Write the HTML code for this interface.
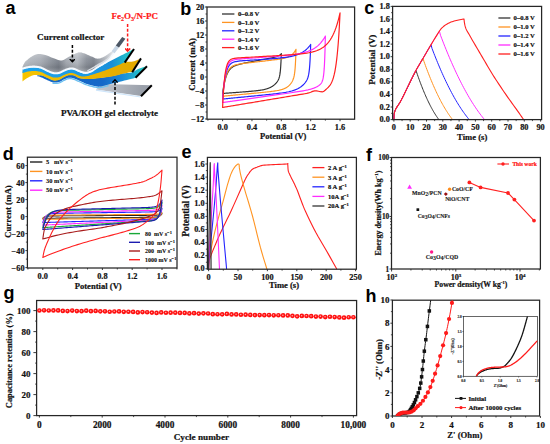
<!DOCTYPE html><html><head><meta charset="utf-8"><style>html,body{margin:0;padding:0;background:#fff;}body{width:550px;height:444px;overflow:hidden;font-family:"Liberation Sans",sans-serif;}svg{display:block}</style></head><body>
<svg width="550" height="444" viewBox="0 0 550 444">
<rect width="550" height="444" fill="#fff"/>
<text x="5.6" y="14.2" font-size="18" text-anchor="start" fill="#000" font-weight="bold" font-family='"Liberation Sans", sans-serif'>a</text>
<defs>
<linearGradient id="gg" x1="22" y1="0" x2="114" y2="0" gradientUnits="userSpaceOnUse">
<stop offset="0" stop-color="#c2c6cc"/><stop offset="0.09" stop-color="#b2b7be"/><stop offset="0.2" stop-color="#a9aeb6"/><stop offset="0.32" stop-color="#8c929b"/>
<stop offset="0.4" stop-color="#7b818b"/><stop offset="0.48" stop-color="#a3a8b0"/><stop offset="0.6" stop-color="#b4b9c0"/><stop offset="0.7" stop-color="#8a9099"/>
<stop offset="0.78" stop-color="#7d838d"/><stop offset="0.88" stop-color="#a8adb5"/><stop offset="1" stop-color="#d4d8de"/>
</linearGradient>
<linearGradient id="wh" x1="0" y1="52" x2="0" y2="71" gradientUnits="userSpaceOnUse">
<stop offset="0" stop-color="#ffffff" stop-opacity="0.2"/><stop offset="1" stop-color="#eef4fb" stop-opacity="0.95"/>
</linearGradient>
<linearGradient id="gv" x1="0" y1="52" x2="0" y2="72" gradientUnits="userSpaceOnUse">
<stop offset="0" stop-color="#ffffff" stop-opacity="0.3"/><stop offset="0.35" stop-color="#ffffff" stop-opacity="0.05"/><stop offset="0.75" stop-color="#000" stop-opacity="0.1"/><stop offset="1" stop-color="#ffffff" stop-opacity="0.2"/>
</linearGradient>
<linearGradient id="tl" x1="22" y1="0" x2="134" y2="0" gradientUnits="userSpaceOnUse">
<stop offset="0" stop-color="#1ea2ea"/><stop offset="0.62" stop-color="#1c9ae4"/><stop offset="0.8" stop-color="#1a8ed8"/><stop offset="1" stop-color="#26d2c2"/>
</linearGradient>
<linearGradient id="tl2" x1="37" y1="0" x2="147" y2="0" gradientUnits="userSpaceOnUse">
<stop offset="0" stop-color="#1466c8"/><stop offset="0.6" stop-color="#1568c8"/><stop offset="0.78" stop-color="#1a8cd8"/><stop offset="1" stop-color="#26d2c2"/>
</linearGradient>
<linearGradient id="yl" x1="22" y1="0" x2="141" y2="0" gradientUnits="userSpaceOnUse">
<stop offset="0" stop-color="#f6c400"/><stop offset="1" stop-color="#e2a800"/>
</linearGradient>
<linearGradient id="pl" x1="100" y1="82" x2="140" y2="96" gradientUnits="userSpaceOnUse">
<stop offset="0" stop-color="#c4c8cf"/><stop offset="1" stop-color="#9aa0aa"/>
</linearGradient>
<marker id="ah" markerWidth="6" markerHeight="6" refX="3" refY="3" orient="auto" markerUnits="userSpaceOnUse">
<path d="M0.4,0.4 L3.2,3 L0.4,5.6" fill="none" stroke="#000" stroke-width="1.4"/></marker>
<marker id="ahr" markerWidth="6" markerHeight="6" refX="3" refY="3" orient="auto" markerUnits="userSpaceOnUse">
<path d="M0.4,0.4 L3.2,3 L0.4,5.6" fill="none" stroke="#ff1a1a" stroke-width="1.4"/></marker>
</defs>
<polygon points="103,84 151.8,85.3 141,96.1 95.8,89.4" fill="url(#pl)"/>
<polyline points="96,90.2 140.8,97" fill="none" stroke="#cfe6fb" stroke-width="1.2"/>
<line x1="151.8" y1="85.3" x2="141" y2="96.3" stroke="#000" stroke-width="2"/>
<polygon points="37,75.5 37.49,75.44 38.16,75.33 38.96,75.21 39.84,75.13 40.73,75.11 41.6,75.2 42.45,75.42 43.34,75.74 44.24,76.13 45.16,76.55 46.08,76.99 47,77.4 47.93,77.82 48.9,78.29 49.87,78.77 50.81,79.22 51.7,79.61 52.5,79.9 53.2,80.09 53.8,80.21 54.36,80.27 54.89,80.28 55.42,80.25 56,80.2 56.61,80.12 57.23,80.01 57.86,79.87 58.49,79.69 59.14,79.46 59.8,79.2 60.47,78.88 61.14,78.49 61.83,78.06 62.53,77.61 63.25,77.19 64,76.8 64.77,76.43 65.57,76.05 66.39,75.68 67.23,75.35 68.06,75.08 68.9,74.9 69.73,74.79 70.55,74.74 71.38,74.76 72.23,74.83 73.1,74.98 74,75.2 74.89,75.55 75.74,76.03 76.61,76.59 77.57,77.14 78.68,77.64 80,78 81.58,78.23 83.38,78.4 85.32,78.49 87.34,78.54 89.36,78.54 91.3,78.5 93.17,78.42 95.04,78.27 96.9,78.09 98.76,77.87 100.63,77.64 102.5,77.4 104.41,77.16 106.37,76.89 108.34,76.61 110.26,76.32 112.09,76.01 113.8,75.7 115.33,75.36 116.71,75 118.01,74.62 119.29,74.25 120.59,73.9 122,73.6 123.54,73.37 125.17,73.21 126.84,73.08 128.49,72.93 130.06,72.72 131.5,72.4 132.77,71.95 133.91,71.4 134.97,70.79 136.01,70.16 137.07,69.55 138.2,69 139.49,68.49 140.92,67.98 142.37,67.49 143.73,67.04 144.87,66.67 145.7,66.4 135.5,77.8 134.03,78.17 132,78.68 129.59,79.29 127,79.94 124.41,80.59 122,81.2 119.69,81.78 117.31,82.39 114.94,82.99 112.63,83.57 110.46,84.11 108.5,84.6 106.76,85.04 105.19,85.47 103.76,85.85 102.43,86.18 101.19,86.43 100,86.6 98.92,86.67 97.98,86.64 97.12,86.54 96.29,86.39 95.4,86.21 94.4,86 93.28,85.77 92.09,85.51 90.84,85.21 89.58,84.87 88.32,84.5 87.1,84.1 85.89,83.65 84.68,83.13 83.47,82.59 82.28,82.03 81.12,81.5 80,81 78.93,80.53 77.89,80.06 76.87,79.61 75.89,79.19 74.94,78.81 74,78.5 73.1,78.24 72.23,78.01 71.38,77.83 70.55,77.71 69.73,77.66 68.9,77.7 68.06,77.84 67.23,78.09 66.39,78.41 65.57,78.77 64.77,79.14 64,79.5 63.25,79.87 62.53,80.29 61.83,80.72 61.14,81.13 60.47,81.5 59.8,81.8 59.14,82.02 58.49,82.19 57.86,82.31 57.23,82.39 56.61,82.45 56,82.5 55.42,82.54 54.89,82.58 54.36,82.59 53.8,82.56 53.2,82.47 52.5,82.3 51.7,82.04 50.81,81.7 49.87,81.29 48.9,80.86 47.93,80.42 47,80 46.08,79.58 45.16,79.14 44.24,78.7 43.34,78.27 42.45,77.86 41.6,77.5 40.73,77.17 39.84,76.87 38.96,76.59 38.16,76.35 37.49,76.15 37,76" fill="url(#tl2)"/>
<polyline points="52.5,83.2 52.88,83.23 53.4,83.29 54.01,83.34 54.68,83.39 55.36,83.42 56,83.4 56.61,83.35 57.23,83.29 57.86,83.21 58.49,83.09 59.14,82.92 59.8,82.7 60.47,82.4 61.14,82.03 61.83,81.62 62.53,81.19 63.25,80.77 64,80.4 64.77,80.04 65.57,79.67 66.39,79.31 67.23,78.99 68.06,78.74 68.9,78.6 69.73,78.56 70.55,78.61 71.38,78.73 72.23,78.9 73.1,79.13 74,79.4 74.94,79.72 75.89,80.12 76.88,80.56 77.89,81.04 78.93,81.52 80,82 81.12,82.49 82.28,83.01 83.47,83.54 84.68,84.06 85.89,84.55 87.1,85 88.32,85.41 89.58,85.79 90.84,86.15 92.09,86.47 93.28,86.76 94.4,87 95.4,87.21 96.29,87.4 97.13,87.55 97.98,87.64 98.92,87.67 100,87.6 101.35,87.39 102.93,87.05 104.6,86.64 106.19,86.21 107.54,85.85 108.5,85.6" fill="none" stroke="#6cc0f0" stroke-width="1.3"/>
<line x1="135.5" y1="77.8" x2="147" y2="66.2" stroke="#000" stroke-width="2"/>
<polygon points="22.5,71.5 22.98,71.33 23.63,71.08 24.41,70.79 25.26,70.49 26.14,70.22 27,70 27.87,69.84 28.8,69.7 29.75,69.59 30.7,69.51 31.63,69.44 32.5,69.4 33.31,69.38 34.07,69.38 34.81,69.4 35.53,69.44 36.26,69.51 37,69.6 37.75,69.7 38.5,69.81 39.24,69.94 40,70.11 40.79,70.33 41.6,70.6 42.45,70.96 43.34,71.39 44.24,71.87 45.16,72.37 46.08,72.85 47,73.3 47.93,73.73 48.9,74.17 49.87,74.59 50.81,74.99 51.7,75.33 52.5,75.6 53.2,75.79 53.8,75.91 54.36,75.98 54.89,76.01 55.42,76.01 56,76 56.61,75.98 57.23,75.93 57.86,75.86 58.49,75.75 59.14,75.6 59.8,75.4 60.47,75.13 61.14,74.8 61.83,74.42 62.53,74.03 63.25,73.65 64,73.3 64.77,72.96 65.57,72.61 66.39,72.26 67.23,71.95 68.06,71.69 68.9,71.5 69.73,71.37 70.55,71.29 71.38,71.26 72.23,71.29 73.1,71.4 74,71.6 74.95,71.95 75.95,72.46 76.97,73.05 78,73.64 79.01,74.15 80,74.5 80.96,74.69 81.89,74.79 82.82,74.81 83.74,74.77 84.67,74.69 85.6,74.6 86.48,74.5 87.29,74.38 88.1,74.22 88.99,74.01 90.03,73.74 91.3,73.4 92.85,72.97 94.62,72.45 96.55,71.87 98.56,71.25 100.56,70.62 102.5,70 104.39,69.38 106.3,68.74 108.22,68.08 110.12,67.42 111.98,66.76 113.8,66.1 115.57,65.41 117.3,64.68 119,63.95 120.67,63.26 122.3,62.66 123.9,62.2 125.48,61.92 127.03,61.8 128.56,61.77 130.03,61.76 131.45,61.69 132.8,61.5 134.13,61.15 135.47,60.68 136.76,60.16 137.91,59.64 138.88,59.2 139.6,58.9 132.2,71.8 131.07,72.04 129.48,72.37 127.61,72.77 125.63,73.19 123.7,73.61 122,74 120.55,74.36 119.23,74.72 117.97,75.08 116.69,75.43 115.32,75.77 113.8,76.1 112.09,76.41 110.26,76.72 108.34,77.01 106.37,77.29 104.41,77.56 102.5,77.8 100.63,78.04 98.76,78.27 96.9,78.49 95.04,78.67 93.17,78.82 91.3,78.9 89.36,78.94 87.34,78.94 85.32,78.89 83.38,78.8 81.58,78.63 80,78.4 78.68,78.04 77.57,77.54 76.61,76.99 75.74,76.43 74.89,75.95 74,75.6 73.1,75.38 72.23,75.23 71.38,75.16 70.55,75.14 69.73,75.19 68.9,75.3 68.06,75.48 67.23,75.75 66.39,76.08 65.57,76.45 64.77,76.83 64,77.2 63.25,77.59 62.53,78.01 61.83,78.46 61.14,78.89 60.47,79.28 59.8,79.6 59.14,79.86 58.49,80.09 57.86,80.27 57.23,80.41 56.61,80.52 56,80.6 55.42,80.65 54.89,80.68 54.36,80.67 53.8,80.61 53.2,80.49 52.5,80.3 51.7,80.01 50.81,79.62 49.87,79.17 48.9,78.69 47.93,78.22 47,77.8 46.11,77.4 45.24,76.99 44.37,76.58 43.49,76.2 42.57,75.87 41.6,75.6 40.55,75.38 39.43,75.2 38.28,75.07 37.13,74.99 36.02,74.96 35,75 34.07,75.11 33.21,75.29 32.4,75.53 31.61,75.81 30.81,76.14 30,76.5 29.14,76.93 28.24,77.43 27.34,77.98 26.48,78.53 25.69,79.05 25,79.5 24.41,79.9 23.89,80.29 23.44,80.64 23.06,80.95 22.74,81.21 22.5,81.4" fill="url(#yl)"/>
<line x1="132.2" y1="72.2" x2="141" y2="58.4" stroke="#000" stroke-width="2"/>
<polygon points="22.5,69.5 22.98,69.34 23.63,69.11 24.41,68.84 25.26,68.57 26.14,68.31 27,68.1 27.87,67.93 28.8,67.78 29.75,67.65 30.7,67.54 31.63,67.46 32.5,67.4 33.31,67.37 34.07,67.37 34.81,67.39 35.53,67.44 36.26,67.51 37,67.6 37.75,67.7 38.5,67.81 39.24,67.94 40,68.11 40.79,68.33 41.6,68.6 42.45,68.96 43.34,69.39 44.24,69.87 45.16,70.37 46.08,70.85 47,71.3 47.93,71.73 48.9,72.17 49.87,72.59 50.81,72.99 51.7,73.33 52.5,73.6 53.2,73.79 53.8,73.91 54.36,73.98 54.89,74.01 55.42,74.01 56,74 56.61,73.98 57.23,73.93 57.86,73.86 58.49,73.75 59.14,73.6 59.8,73.4 60.47,73.13 61.14,72.8 61.83,72.42 62.53,72.03 63.25,71.65 64,71.3 64.77,70.96 65.57,70.61 66.39,70.26 67.23,69.95 68.06,69.69 68.9,69.5 69.73,69.38 70.55,69.3 71.38,69.27 72.23,69.3 73.1,69.41 74,69.6 74.95,69.92 75.95,70.36 76.97,70.88 78,71.41 79.01,71.9 80,72.3 80.96,72.64 81.89,72.96 82.82,73.24 83.74,73.46 84.67,73.59 85.6,73.6 86.55,73.47 87.5,73.23 88.45,72.89 89.4,72.49 90.35,72.05 91.3,71.6 92.24,71.12 93.17,70.59 94.11,70.02 95.04,69.43 95.97,68.85 96.9,68.3 97.77,67.81 98.56,67.36 99.34,66.92 100.21,66.44 101.24,65.88 102.5,65.2 104.05,64.36 105.85,63.4 107.8,62.36 109.83,61.28 111.86,60.21 113.8,59.2 115.7,58.23 117.64,57.26 119.57,56.3 121.47,55.36 123.29,54.46 125,53.6 126.67,52.75 128.35,51.88 129.95,51.05 131.4,50.3 132.61,49.66 133.5,49.2 124.7,62.3 123.52,62.83 121.89,63.57 119.96,64.44 117.87,65.37 115.77,66.28 113.8,67.1 111.94,67.84 110.06,68.56 108.17,69.27 106.27,69.96 104.38,70.64 102.5,71.3 100.56,71.97 98.56,72.66 96.55,73.33 94.62,73.96 92.85,74.53 91.3,75 90.03,75.37 88.99,75.67 88.1,75.89 87.29,76.07 86.48,76.2 85.6,76.3 84.67,76.38 83.74,76.44 82.82,76.45 81.89,76.41 80.96,76.3 80,76.1 79.01,75.77 78,75.29 76.97,74.75 75.95,74.21 74.95,73.73 74,73.4 73.1,73.2 72.23,73.07 71.38,73.02 70.55,73.03 69.73,73.09 68.9,73.2 68.06,73.38 67.23,73.64 66.39,73.96 65.57,74.31 64.77,74.67 64,75 63.25,75.34 62.53,75.7 61.83,76.08 61.14,76.43 60.47,76.75 59.8,77 59.14,77.19 58.49,77.34 57.86,77.45 57.23,77.53 56.61,77.57 56,77.6 55.42,77.61 54.89,77.61 54.36,77.58 53.8,77.51 53.2,77.39 52.5,77.2 51.7,76.93 50.81,76.59 49.87,76.19 48.9,75.77 47.93,75.33 47,74.9 46.08,74.45 45.16,73.97 44.24,73.47 43.34,72.99 42.45,72.56 41.6,72.2 40.79,71.93 40,71.71 39.24,71.54 38.5,71.41 37.75,71.3 37,71.2 36.26,71.11 35.53,71.04 34.81,70.99 34.07,70.97 33.31,70.97 32.5,71 31.63,71.06 30.7,71.14 29.75,71.25 28.8,71.38 27.87,71.53 27,71.7 26.14,71.91 25.26,72.17 24.41,72.44 23.63,72.71 22.98,72.94 22.5,73.1" fill="url(#tl)"/>
<line x1="124.7" y1="62.6" x2="134" y2="49" stroke="#000" stroke-width="2"/>
<polyline points="22.5,68.7 22.98,68.54 23.63,68.31 24.41,68.04 25.26,67.77 26.14,67.51 27,67.3 27.87,67.13 28.8,66.98 29.75,66.85 30.7,66.74 31.63,66.66 32.5,66.6 33.31,66.57 34.07,66.57 34.81,66.59 35.53,66.64 36.26,66.71 37,66.8 37.75,66.9 38.5,67.01 39.24,67.14 40,67.31 40.79,67.53 41.6,67.8 42.45,68.16 43.34,68.59 44.24,69.07 45.16,69.57 46.08,70.05 47,70.5 47.93,70.93 48.9,71.37 49.87,71.79 50.81,72.19 51.7,72.53 52.5,72.8 53.2,72.99 53.8,73.11 54.36,73.18 54.89,73.21 55.42,73.21 56,73.2 56.61,73.18 57.23,73.13 57.86,73.06 58.49,72.95 59.14,72.8 59.8,72.6 60.47,72.33 61.14,72 61.83,71.62 62.53,71.23 63.25,70.85 64,70.5 64.77,70.16 65.57,69.81 66.39,69.46 67.23,69.15 68.06,68.89 68.9,68.7 69.73,68.58 70.55,68.5 71.38,68.48 72.23,68.52 73.1,68.62 74,68.8 74.95,69.09 75.95,69.49 76.97,69.96 78,70.45 79.01,70.91 80,71.3 80.96,71.64 81.89,71.99 82.82,72.31 83.74,72.57 84.67,72.74 85.6,72.8 86.55,72.74 87.5,72.57 88.45,72.33 89.4,72 90.35,71.62 91.3,71.2 92.24,70.7 93.17,70.11 94.11,69.46 95.04,68.78 95.97,68.12 96.9,67.5 97.83,66.93 98.76,66.4 99.69,65.87 100.63,65.34 101.56,64.79 102.5,64.2 103.47,63.58 104.48,62.94 105.49,62.28 106.47,61.6 107.39,60.91 108.2,60.2 108.9,59.45 109.51,58.66 110.05,57.84 110.55,57.04 111.02,56.29 111.5,55.6 111.99,54.96 112.49,54.34 112.96,53.76 113.38,53.25 113.74,52.82 114,52.5" fill="none" stroke="#f4f9fe" stroke-width="2.2" stroke-linejoin="round"/>
<polygon points="22.5,66.8 22.76,66.26 23.1,65.5 23.51,64.61 23.97,63.67 24.47,62.77 25,62 25.57,61.35 26.19,60.74 26.85,60.17 27.53,59.64 28.22,59.12 28.9,58.6 29.56,58.09 30.22,57.58 30.88,57.09 31.56,56.63 32.26,56.2 33,55.8 33.75,55.42 34.51,55.06 35.3,54.72 36.13,54.43 37.02,54.22 38,54.1 39.06,54.07 40.2,54.11 41.39,54.22 42.65,54.4 43.95,54.66 45.3,55 46.73,55.46 48.27,56.06 49.86,56.74 51.44,57.43 52.97,58.07 54.4,58.6 55.71,59.08 56.94,59.57 58.11,60.01 59.26,60.34 60.42,60.53 61.6,60.5 62.81,60.21 64.03,59.68 65.24,58.99 66.46,58.23 67.68,57.48 68.9,56.8 70.16,56.16 71.46,55.49 72.77,54.81 74.03,54.18 75.19,53.63 76.2,53.2 77.04,52.9 77.74,52.7 78.34,52.58 78.89,52.52 79.42,52.5 80,52.5 80.55,52.51 81.03,52.54 81.5,52.61 82.03,52.73 82.67,52.92 83.5,53.2 84.58,53.6 85.86,54.12 87.27,54.71 88.7,55.31 90.08,55.9 91.3,56.4 92.36,56.86 93.33,57.33 94.24,57.77 95.11,58.15 95.99,58.44 96.9,58.6 97.83,58.63 98.76,58.56 99.69,58.4 100.63,58.16 101.56,57.85 102.5,57.5 103.46,57.07 104.44,56.53 105.42,55.94 106.39,55.31 107.32,54.69 108.2,54.1 109.07,53.51 109.96,52.87 110.81,52.24 111.58,51.65 112.22,51.16 112.7,50.8 114,51.5 113.74,51.82 113.38,52.25 112.96,52.76 112.49,53.34 111.99,53.96 111.5,54.6 111.02,55.29 110.55,56.04 110.05,56.84 109.51,57.66 108.9,58.45 108.2,59.2 107.39,59.91 106.47,60.6 105.49,61.28 104.48,61.94 103.47,62.58 102.5,63.2 101.56,63.79 100.63,64.34 99.69,64.87 98.76,65.4 97.83,65.93 96.9,66.5 95.97,67.12 95.04,67.78 94.11,68.46 93.17,69.11 92.24,69.7 91.3,70.2 90.35,70.62 89.4,71 88.45,71.33 87.5,71.57 86.55,71.74 85.6,71.8 84.67,71.74 83.74,71.57 82.82,71.31 81.89,70.99 80.96,70.64 80,70.3 79.01,69.91 78,69.45 76.97,68.96 75.95,68.49 74.95,68.09 74,67.8 73.1,67.62 72.23,67.52 71.38,67.48 70.55,67.5 69.73,67.58 68.9,67.7 68.06,67.89 67.23,68.15 66.39,68.46 65.57,68.81 64.77,69.16 64,69.5 63.25,69.85 62.53,70.23 61.83,70.62 61.14,71 60.47,71.33 59.8,71.6 59.14,71.8 58.49,71.95 57.86,72.06 57.23,72.13 56.61,72.18 56,72.2 55.42,72.21 54.89,72.21 54.36,72.18 53.8,72.11 53.2,71.99 52.5,71.8 51.7,71.53 50.81,71.19 49.87,70.79 48.9,70.37 47.93,69.93 47,69.5 46.08,69.05 45.16,68.57 44.24,68.07 43.34,67.59 42.45,67.16 41.6,66.8 40.79,66.53 40,66.31 39.24,66.14 38.5,66.01 37.75,65.9 37,65.8 36.26,65.71 35.53,65.64 34.81,65.59 34.07,65.57 33.31,65.57 32.5,65.6 31.63,65.66 30.7,65.74 29.75,65.85 28.8,65.98 27.87,66.13 27,66.3 26.14,66.51 25.26,66.77 24.41,67.04 23.63,67.31 22.98,67.54 22.5,67.7" fill="url(#gg)"/>
<polygon points="22.5,66.8 22.76,66.26 23.1,65.5 23.51,64.61 23.97,63.67 24.47,62.77 25,62 25.57,61.35 26.19,60.74 26.85,60.17 27.53,59.64 28.22,59.12 28.9,58.6 29.56,58.09 30.22,57.58 30.88,57.09 31.56,56.63 32.26,56.2 33,55.8 33.75,55.42 34.51,55.06 35.3,54.72 36.13,54.43 37.02,54.22 38,54.1 39.06,54.07 40.2,54.11 41.39,54.22 42.65,54.4 43.95,54.66 45.3,55 46.73,55.46 48.27,56.06 49.86,56.74 51.44,57.43 52.97,58.07 54.4,58.6 55.71,59.08 56.94,59.57 58.11,60.01 59.26,60.34 60.42,60.53 61.6,60.5 62.81,60.21 64.03,59.68 65.24,58.99 66.46,58.23 67.68,57.48 68.9,56.8 70.16,56.16 71.46,55.49 72.77,54.81 74.03,54.18 75.19,53.63 76.2,53.2 77.04,52.9 77.74,52.7 78.34,52.58 78.89,52.52 79.42,52.5 80,52.5 80.55,52.51 81.03,52.54 81.5,52.61 82.03,52.73 82.67,52.92 83.5,53.2 84.58,53.6 85.86,54.12 87.27,54.71 88.7,55.31 90.08,55.9 91.3,56.4 92.36,56.86 93.33,57.33 94.24,57.77 95.11,58.15 95.99,58.44 96.9,58.6 97.83,58.63 98.76,58.56 99.69,58.4 100.63,58.16 101.56,57.85 102.5,57.5 103.46,57.07 104.44,56.53 105.42,55.94 106.39,55.31 107.32,54.69 108.2,54.1 109.07,53.51 109.96,52.87 110.81,52.24 111.58,51.65 112.22,51.16 112.7,50.8 114,51.5 113.74,51.82 113.38,52.25 112.96,52.76 112.49,53.34 111.99,53.96 111.5,54.6 111.02,55.29 110.55,56.04 110.05,56.84 109.51,57.66 108.9,58.45 108.2,59.2 107.39,59.91 106.47,60.6 105.49,61.28 104.48,61.94 103.47,62.58 102.5,63.2 101.56,63.79 100.63,64.34 99.69,64.87 98.76,65.4 97.83,65.93 96.9,66.5 95.97,67.12 95.04,67.78 94.11,68.46 93.17,69.11 92.24,69.7 91.3,70.2 90.35,70.62 89.4,71 88.45,71.33 87.5,71.57 86.55,71.74 85.6,71.8 84.67,71.74 83.74,71.57 82.82,71.31 81.89,70.99 80.96,70.64 80,70.3 79.01,69.91 78,69.45 76.97,68.96 75.95,68.49 74.95,68.09 74,67.8 73.1,67.62 72.23,67.52 71.38,67.48 70.55,67.5 69.73,67.58 68.9,67.7 68.06,67.89 67.23,68.15 66.39,68.46 65.57,68.81 64.77,69.16 64,69.5 63.25,69.85 62.53,70.23 61.83,70.62 61.14,71 60.47,71.33 59.8,71.6 59.14,71.8 58.49,71.95 57.86,72.06 57.23,72.13 56.61,72.18 56,72.2 55.42,72.21 54.89,72.21 54.36,72.18 53.8,72.11 53.2,71.99 52.5,71.8 51.7,71.53 50.81,71.19 49.87,70.79 48.9,70.37 47.93,69.93 47,69.5 46.08,69.05 45.16,68.57 44.24,68.07 43.34,67.59 42.45,67.16 41.6,66.8 40.79,66.53 40,66.31 39.24,66.14 38.5,66.01 37.75,65.9 37,65.8 36.26,65.71 35.53,65.64 34.81,65.59 34.07,65.57 33.31,65.57 32.5,65.6 31.63,65.66 30.7,65.74 29.75,65.85 28.8,65.98 27.87,66.13 27,66.3 26.14,66.51 25.26,66.77 24.41,67.04 23.63,67.31 22.98,67.54 22.5,67.7" fill="url(#gv)"/>
<polygon points="88,70.9 89.01,70.41 90.43,69.72 92.1,68.91 93.85,68.05 95.5,67.22 96.9,66.5 98.02,65.89 99.01,65.34 99.9,64.83 100.75,64.31 101.6,63.78 102.5,63.2 103.47,62.58 104.48,61.94 105.49,61.28 106.47,60.6 107.39,59.91 108.2,59.2 108.9,58.45 109.51,57.66 110.05,56.84 110.55,56.04 111.02,55.29 111.5,54.6 111.99,53.96 112.49,53.34 112.96,52.76 113.38,52.25 113.74,51.82 114,51.5 112.8,51.6 112.4,52.14 111.86,52.9 111.21,53.79 110.5,54.74 109.75,55.67 109,56.5 108.25,57.24 107.46,57.96 106.64,58.66 105.79,59.33 104.91,59.98 104,60.6 103.06,61.18 102.07,61.71 101.06,62.22 100.04,62.72 99.01,63.24 98,63.8 96.99,64.41 95.96,65.06 94.94,65.72 93.93,66.39 92.94,67.02 92,67.6 91.05,68.16 90.07,68.71 89.12,69.24 88.26,69.71 87.53,70.11 87,70.4" fill="url(#wh)"/>
<polygon points="111.6,51.2 115.8,45.6 119,47.4 114.6,53.2" fill="#c9d7e6"/>
<polygon points="115.8,45.6 122.2,37 125.4,38.8 119,47.4" fill="#4b5664"/>
<text x="70.7" y="40.4" font-size="9.1" text-anchor="middle" fill="#111" font-weight="bold" font-family='"Liberation Serif", serif' stroke="#111" stroke-width="0.2">Current collector</text>
<text x="134.8" y="19.4" font-size="9" text-anchor="middle" fill="#ff1a1a" font-weight="bold" font-family='"Liberation Serif", serif' stroke="#ff1a1a" stroke-width="0.2">Fe<tspan dy="1.8" font-size="6">2</tspan><tspan dy="-1.8">O</tspan><tspan dy="1.8" font-size="6">3</tspan><tspan dy="-1.8">/N-PC</tspan></text>
<text x="109.5" y="116.2" font-size="9.1" text-anchor="middle" fill="#111" font-weight="bold" font-family='"Liberation Serif", serif' stroke="#111" stroke-width="0.2">PVA/KOH gel electrolyte</text>
<line x1="72.4" y1="45" x2="72.4" y2="61.5" stroke="#000" stroke-width="1.5" stroke-dasharray="3 1.8" marker-end="url(#ah)"/>
<line x1="127.6" y1="24" x2="127.6" y2="51" stroke="#ff1a1a" stroke-width="1.5" stroke-dasharray="3 1.8" marker-end="url(#ahr)"/>
<line x1="115" y1="104.5" x2="115" y2="80" stroke="#000" stroke-width="1.5" stroke-dasharray="3 1.8" marker-end="url(#ah)"/>
<text x="180.3" y="15.2" font-size="18" text-anchor="start" fill="#000" font-weight="bold" font-family='"Liberation Sans", sans-serif'>b</text>
<polyline points="222.6,93.45 222.89,91.38 223.19,89.46 223.48,87.68 223.58,87.12 223.77,86.04 224.07,84.52 224.36,83.11 224.56,82.23 224.66,81.8 224.95,80.59 225.24,79.47 225.54,78.43 225.83,77.47 226.12,76.58 226.42,75.75 226.51,75.49 226.71,74.98 227,74.27 227.3,73.6 227.49,73.19 227.59,72.99 227.88,72.41 228.18,71.88 228.47,71.38 228.77,70.92 229.06,70.48 229.35,70.08 229.45,69.95 229.65,69.7 229.94,69.35 230.23,69.02 230.43,68.82 230.53,68.72 230.82,68.43 231.11,68.16 231.41,67.9 231.7,67.66 232,67.44 232.29,67.23 232.39,67.16 232.58,67.03 232.88,66.84 233.17,66.66 233.37,66.54 233.46,66.49 233.76,66.33 234.05,66.18 234.34,66.03 235.32,65.59 236.3,65.21 237.28,64.88 238.26,64.58 239.24,64.31 240.22,64.06 241.19,63.82 242.17,63.59 243.15,63.38 244.13,63.17 245.11,62.96 246.09,62.76 247.07,62.57 248.05,62.37 249.02,62.18 250,61.99 250.98,61.8 251.96,61.61 252.94,61.42 253.92,61.23 254.9,61.04 255.87,60.86 256.85,60.67 257.83,60.48 258.81,60.29 259.79,60.11 260.77,59.92 261.75,59.73 262.73,59.55 263.7,59.36 264,59.3 264.29,59.25 264.58,59.19 264.68,59.17 264.88,59.13 265.17,59.08 265.47,59.02 265.66,58.98 265.76,58.97 266.05,58.91 266.35,58.85 266.64,58.8 266.93,58.74 267.23,58.68 267.52,58.63 267.62,58.61 267.81,58.57 268.11,58.51 268.4,58.46 268.6,58.42 268.7,58.4 268.99,58.34 269.28,58.29 269.58,58.23 269.87,58.17 270.16,58.11 270.46,58.05 270.55,58.03 270.75,58 271.04,57.94 271.34,57.88 271.53,57.84 271.63,57.82 271.92,57.76 272.22,57.7 272.51,57.64 272.81,57.57 273.1,57.51 273.39,57.45 273.49,57.42 273.69,57.38 273.98,57.31 274.27,57.24 274.47,57.2 274.57,57.17 274.86,57.1 275.15,57.03 275.45,56.95 275.74,56.87 276.04,56.79 276.33,56.7 276.43,56.67 276.62,56.61 276.92,56.51 277.21,56.41 277.41,56.33 277.5,56.3 277.8,56.18 278.09,56.05 278.38,55.91 278.68,55.77 278.97,55.6 279.26,55.43 279.36,55.37 279.56,55.24 279.85,55.02 280.15,54.79 280.34,54.62 280.44,54.53 280.73,54.24 281.03,53.91 281.32,53.55 281.03,61.07 280.73,66.32 280.44,70.02 280.34,71.01 280.15,72.7 279.85,74.67 279.56,76.15 279.36,76.96 279.26,77.32 278.97,78.25 278.68,79.02 278.38,79.68 278.09,80.26 277.8,80.78 277.5,81.25 277.41,81.39 277.21,81.68 276.92,82.08 276.62,82.46 276.43,82.7 276.33,82.82 276.04,83.16 275.74,83.48 275.45,83.79 275.15,84.08 274.86,84.36 274.57,84.63 274.47,84.72 274.27,84.89 273.98,85.13 273.69,85.37 273.49,85.52 273.39,85.59 273.1,85.81 272.81,86.01 272.51,86.21 272.22,86.4 271.92,86.58 271.63,86.76 271.53,86.81 271.34,86.93 271.04,87.09 270.75,87.24 270.55,87.34 270.46,87.39 270.16,87.53 269.87,87.67 269.58,87.8 269.28,87.93 268.99,88.05 268.7,88.16 268.6,88.2 268.4,88.28 268.11,88.38 267.81,88.49 267.62,88.56 267.52,88.59 267.23,88.69 266.93,88.78 266.64,88.87 266.35,88.96 266.05,89.04 265.76,89.12 265.66,89.15 265.47,89.2 265.17,89.27 264.88,89.35 264.68,89.39 264.58,89.42 264.29,89.49 264,89.55 263.7,89.62 262.73,89.82 261.75,90 260.77,90.16 259.79,90.31 258.81,90.45 257.83,90.58 256.85,90.7 255.87,90.82 254.9,90.92 253.92,91.02 252.94,91.12 251.96,91.21 250.98,91.3 250,91.39 249.02,91.47 248.05,91.56 247.07,91.64 246.09,91.72 245.11,91.79 244.13,91.87 243.15,91.95 242.17,92.02 241.19,92.1 240.22,92.17 239.24,92.24 238.26,92.31 237.28,92.39 236.3,92.46 235.32,92.53 234.34,92.6 234.05,92.62 233.76,92.64 233.46,92.67 233.37,92.67 233.17,92.69 232.88,92.71 232.58,92.73 232.39,92.74 232.29,92.75 232,92.77 231.7,92.79 231.41,92.81 231.11,92.84 230.82,92.86 230.53,92.88 230.43,92.89 230.23,92.9 229.94,92.92 229.65,92.94 229.45,92.96 229.35,92.96 229.06,92.98 228.77,93.01 228.47,93.03 228.18,93.05 227.88,93.07 227.59,93.09 227.49,93.1 227.3,93.11 227,93.13 226.71,93.15 226.51,93.17 226.42,93.17 226.12,93.2 225.83,93.22 225.54,93.24 225.24,93.26 224.95,93.28 224.66,93.3 224.56,93.31 224.36,93.32 224.07,93.34 223.77,93.36 223.58,93.38 223.48,93.39 223.19,93.41 222.89,93.43 222.6,93.45" fill="none" stroke="#333333" stroke-width="1.2" stroke-linejoin="round" stroke-linecap="round"/>
<polyline points="222.6,96.25 222.89,93.63 223.19,91.22 223.48,89.02 223.77,87 223.82,86.68 224.07,85.16 224.36,83.46 224.66,81.91 224.95,80.49 225.05,80.04 225.24,79.18 225.54,77.98 225.83,76.88 226.12,75.88 226.27,75.4 226.42,74.95 226.71,74.1 227,73.32 227.3,72.61 227.49,72.16 227.59,71.95 227.88,71.34 228.18,70.79 228.47,70.27 228.72,69.88 228.77,69.8 229.06,69.37 229.35,68.97 229.65,68.6 229.94,68.26 230.23,67.95 230.53,67.66 230.82,67.39 231.11,67.14 231.16,67.1 231.41,66.91 231.7,66.69 232,66.5 232.29,66.31 232.39,66.25 232.58,66.14 232.88,65.98 233.17,65.83 233.46,65.69 233.61,65.63 233.76,65.56 234.05,65.44 234.83,65.15 236.06,64.78 237.28,64.48 238.5,64.23 239.73,64.01 240.95,63.82 242.17,63.64 243.4,63.48 244.62,63.32 245.84,63.17 247.07,63.02 248.29,62.87 249.51,62.73 250.74,62.59 251.96,62.44 253.18,62.3 254.41,62.16 255.63,62.02 256.85,61.88 258.08,61.74 259.3,61.6 260.52,61.46 261.75,61.32 262.97,61.18 264.19,61.03 265.42,60.89 266.64,60.75 267.86,60.61 269.09,60.46 270.31,60.32 271.53,60.17 272.76,60.02 273.98,59.87 275.2,59.71 276.43,59.55 277.65,59.38 278.68,59.22 278.87,59.2 278.97,59.18 279.26,59.14 279.56,59.09 279.85,59.04 280.1,59 280.15,58.99 280.44,58.95 280.73,58.9 281.03,58.84 281.32,58.79 281.61,58.74 281.91,58.68 282.2,58.63 282.49,58.57 282.54,58.56 282.79,58.51 283.08,58.45 283.38,58.39 283.67,58.32 283.77,58.3 283.96,58.25 284.26,58.18 284.55,58.11 284.84,58.04 284.99,58 285.14,57.96 285.43,57.88 285.72,57.8 286.02,57.71 286.21,57.65 286.31,57.62 286.6,57.52 286.9,57.42 287.19,57.32 287.44,57.23 287.49,57.21 287.78,57.1 288.07,56.98 288.37,56.85 288.66,56.72 288.95,56.58 289.25,56.44 289.54,56.28 289.83,56.12 289.88,56.09 290.13,55.95 290.42,55.77 290.72,55.58 291.01,55.38 291.11,55.31 291.3,55.17 291.6,54.94 291.89,54.7 292.18,54.45 292.33,54.32 292.48,54.19 292.77,53.9 293.06,53.6 293.36,53.28 293.55,53.06 293.65,52.95 293.94,52.59 294.24,52.21 294.53,51.8 294.78,51.44 294.83,51.37 295.12,50.91 295.41,50.42 295.71,49.9 296,49.35 295.71,57.93 295.41,63.94 295.12,68.22 294.83,71.33 294.78,71.77 294.53,73.64 294.24,75.4 293.94,76.78 293.65,77.9 293.55,78.22 293.36,78.83 293.06,79.62 292.77,80.31 292.48,80.93 292.33,81.22 292.18,81.49 291.89,82.01 291.6,82.48 291.3,82.93 291.11,83.21 291.01,83.34 290.72,83.73 290.42,84.1 290.13,84.44 289.88,84.72 289.83,84.77 289.54,85.08 289.25,85.38 288.95,85.66 288.66,85.92 288.37,86.17 288.07,86.41 287.78,86.64 287.49,86.86 287.44,86.89 287.19,87.06 286.9,87.26 286.6,87.45 286.31,87.63 286.21,87.68 286.02,87.79 285.72,87.96 285.43,88.11 285.14,88.26 284.99,88.33 284.84,88.4 284.55,88.53 284.26,88.66 283.96,88.78 283.77,88.86 283.67,88.9 283.38,89.01 283.08,89.12 282.79,89.23 282.54,89.31 282.49,89.33 282.2,89.42 281.91,89.51 281.61,89.6 281.32,89.69 281.03,89.77 280.73,89.85 280.44,89.92 280.15,89.99 280.1,90.01 279.85,90.06 279.56,90.13 279.26,90.2 278.97,90.26 278.87,90.28 278.68,90.33 277.65,90.53 276.43,90.74 275.2,90.94 273.98,91.12 272.76,91.28 271.53,91.44 270.31,91.59 269.09,91.73 267.86,91.86 266.64,91.99 265.42,92.12 264.19,92.25 262.97,92.37 261.75,92.5 260.52,92.62 259.3,92.74 258.08,92.86 256.85,92.98 255.63,93.09 254.41,93.21 253.18,93.33 251.96,93.45 250.74,93.56 249.51,93.68 248.29,93.8 247.07,93.92 245.84,94.03 244.62,94.15 243.4,94.27 242.17,94.38 240.95,94.5 239.73,94.62 238.5,94.73 237.28,94.85 236.06,94.97 234.83,95.08 234.05,95.16 233.76,95.19 233.61,95.2 233.46,95.21 233.17,95.24 232.88,95.27 232.58,95.3 232.39,95.32 232.29,95.33 232,95.35 231.7,95.38 231.41,95.41 231.16,95.43 231.11,95.44 230.82,95.47 230.53,95.49 230.23,95.52 229.94,95.55 229.65,95.58 229.35,95.61 229.06,95.63 228.77,95.66 228.72,95.67 228.47,95.69 228.18,95.72 227.88,95.75 227.59,95.77 227.49,95.78 227.3,95.8 227,95.83 226.71,95.86 226.42,95.89 226.27,95.9 226.12,95.91 225.83,95.94 225.54,95.97 225.24,96 225.05,96.02 224.95,96.03 224.66,96.05 224.36,96.08 224.07,96.11 223.82,96.13 223.77,96.14 223.48,96.17 223.19,96.19 222.89,96.22 222.6,96.25" fill="none" stroke="#ff9422" stroke-width="1.2" stroke-linejoin="round" stroke-linecap="round"/>
<polyline points="222.6,99.05 222.89,95.5 223.19,92.29 223.48,89.38 223.77,86.75 224.07,84.36 224.36,82.2 224.66,80.25 224.95,78.47 225.24,76.87 225.54,75.42 225.83,74.1 226.12,72.91 226.42,71.82 226.71,70.84 227,69.95 227.3,69.15 227.59,68.42 227.88,67.75 228.18,67.15 228.47,66.61 228.77,66.11 229.06,65.66 229.35,65.25 229.65,64.88 229.94,64.54 230.23,64.23 230.53,63.95 230.82,63.7 231.11,63.46 231.41,63.25 231.7,63.06 232,62.88 232.29,62.72 232.58,62.57 232.88,62.43 233.17,62.31 233.46,62.19 233.76,62.09 234.05,61.99 234.34,61.9 235.81,61.54 237.28,61.29 238.75,61.1 240.22,60.95 241.68,60.82 243.15,60.7 244.62,60.6 246.09,60.5 247.56,60.4 249.02,60.31 250.49,60.21 251.96,60.12 253.43,60.02 254.9,59.93 256.36,59.83 257.83,59.74 259.3,59.64 260.77,59.54 262.24,59.44 263.7,59.34 265.17,59.24 266.64,59.14 268.11,59.03 269.58,58.92 271.04,58.81 272.51,58.7 273.98,58.58 275.45,58.45 276.92,58.32 278.38,58.18 279.85,58.04 281.32,57.88 282.79,57.71 284.26,57.53 285.72,57.33 287.19,57.11 288.66,56.87 290.13,56.6 291.6,56.29 293.06,55.95 293.36,55.88 293.65,55.8 293.94,55.73 294.24,55.65 294.53,55.57 294.83,55.48 295.12,55.4 295.41,55.31 295.71,55.22 296,55.13 296.29,55.03 296.59,54.93 296.88,54.83 297.17,54.73 297.47,54.62 297.76,54.51 298.06,54.4 298.35,54.29 298.64,54.17 298.94,54.04 299.23,53.92 299.52,53.79 299.82,53.66 300.11,53.52 300.4,53.38 300.7,53.23 300.99,53.08 301.28,52.93 301.58,52.77 301.87,52.61 302.17,52.44 302.46,52.26 302.75,52.09 303.05,51.9 303.34,51.71 303.63,51.52 303.93,51.32 304.22,51.11 304.51,50.89 304.81,50.67 305.1,50.44 305.4,50.21 305.69,49.97 305.98,49.72 306.28,49.46 306.57,49.19 306.86,48.92 307.16,48.64 307.45,48.35 307.74,48.04 308.04,47.73 308.33,47.41 308.62,47.08 308.92,46.74 309.21,46.39 309.51,46.03 309.8,45.65 310.09,45.26 310.39,44.86 310.68,44.45 310.39,53.24 310.09,59.72 309.8,64.52 309.51,68.13 309.21,70.87 308.92,72.99 308.62,74.65 308.33,75.98 308.04,77.07 307.74,77.98 307.45,78.76 307.16,79.43 306.86,80.04 306.57,80.58 306.28,81.07 305.98,81.53 305.69,81.96 305.4,82.37 305.1,82.75 304.81,83.11 304.51,83.46 304.22,83.79 303.93,84.11 303.63,84.42 303.34,84.71 303.05,85 302.75,85.27 302.46,85.53 302.17,85.78 301.87,86.03 301.58,86.26 301.28,86.49 300.99,86.71 300.7,86.92 300.4,87.13 300.11,87.33 299.82,87.52 299.52,87.7 299.23,87.88 298.94,88.05 298.64,88.22 298.35,88.38 298.06,88.54 297.76,88.69 297.47,88.84 297.17,88.98 296.88,89.12 296.59,89.25 296.29,89.38 296,89.51 295.71,89.63 295.41,89.75 295.12,89.86 294.83,89.97 294.53,90.08 294.24,90.18 293.94,90.29 293.65,90.38 293.36,90.48 293.06,90.57 291.6,91.01 290.13,91.38 288.66,91.72 287.19,92.02 285.72,92.3 284.26,92.54 282.79,92.78 281.32,92.99 279.85,93.19 278.38,93.38 276.92,93.56 275.45,93.74 273.98,93.91 272.51,94.07 271.04,94.24 269.58,94.39 268.11,94.55 266.64,94.7 265.17,94.85 263.7,95 262.24,95.15 260.77,95.3 259.3,95.45 257.83,95.59 256.36,95.74 254.9,95.88 253.43,96.03 251.96,96.17 250.49,96.32 249.02,96.46 247.56,96.61 246.09,96.75 244.62,96.9 243.15,97.04 241.68,97.18 240.22,97.33 238.75,97.47 237.28,97.61 235.81,97.76 234.34,97.9 234.05,97.93 233.76,97.96 233.46,97.99 233.17,98.02 232.88,98.05 232.58,98.07 232.29,98.1 232,98.13 231.7,98.16 231.41,98.19 231.11,98.22 230.82,98.25 230.53,98.27 230.23,98.3 229.94,98.33 229.65,98.36 229.35,98.39 229.06,98.42 228.77,98.45 228.47,98.48 228.18,98.5 227.88,98.53 227.59,98.56 227.3,98.59 227,98.62 226.71,98.65 226.42,98.68 226.12,98.71 225.83,98.73 225.54,98.76 225.24,98.79 224.95,98.82 224.66,98.85 224.36,98.88 224.07,98.91 223.77,98.94 223.48,98.96 223.19,98.99 222.89,99.02 222.6,99.05" fill="none" stroke="#2424ff" stroke-width="1.2" stroke-linejoin="round" stroke-linecap="round"/>
<polyline points="222.6,102.55 222.89,97.95 223.19,93.85 223.48,90.19 223.77,86.93 224.07,84.01 224.31,81.82 224.36,81.41 224.66,79.08 224.95,77.01 225.24,75.15 225.54,73.5 225.83,72.02 226.03,71.12 226.12,70.69 226.42,69.51 226.71,68.46 227,67.51 227.3,66.67 227.59,65.91 227.74,65.56 227.88,65.23 228.18,64.63 228.47,64.09 228.77,63.6 229.06,63.16 229.35,62.77 229.45,62.65 229.65,62.42 229.94,62.11 230.23,61.82 230.53,61.57 230.82,61.34 231.11,61.13 231.16,61.1 231.41,60.94 231.7,60.77 232,60.62 232.29,60.48 232.58,60.35 232.88,60.24 233.17,60.13 233.46,60.04 233.76,59.95 234.05,59.87 234.59,59.74 236.3,59.42 238.01,59.2 239.73,59.03 241.44,58.88 243.15,58.74 244.86,58.61 246.58,58.48 248.29,58.36 250,58.23 251.72,58.11 253.43,57.99 255.14,57.86 256.85,57.74 258.57,57.61 260.28,57.49 261.99,57.36 263.7,57.23 265.42,57.11 267.13,56.98 268.84,56.85 270.55,56.72 272.27,56.58 273.98,56.45 275.69,56.31 277.41,56.17 279.12,56.03 280.83,55.88 282.54,55.72 284.26,55.56 285.97,55.4 287.68,55.22 289.39,55.03 291.11,54.84 292.82,54.62 294.53,54.39 296.24,54.14 297.96,53.86 299.67,53.55 301.38,53.2 303.1,52.81 304.81,52.37 306.52,51.86 308.04,51.35 308.23,51.28 308.33,51.25 308.62,51.14 308.92,51.03 309.21,50.91 309.51,50.79 309.8,50.67 309.95,50.61 310.09,50.55 310.39,50.42 310.68,50.29 310.97,50.16 311.27,50.02 311.56,49.88 311.66,49.83 311.85,49.74 312.15,49.59 312.44,49.44 312.74,49.28 313.03,49.12 313.32,48.95 313.37,48.92 313.62,48.78 313.91,48.61 314.2,48.43 314.5,48.25 314.79,48.06 315.08,47.86 315.38,47.66 315.67,47.46 315.96,47.25 316.26,47.03 316.55,46.81 316.8,46.61 316.85,46.58 317.14,46.34 317.43,46.1 317.73,45.85 318.02,45.59 318.31,45.33 318.51,45.15 318.61,45.05 318.9,44.77 319.19,44.49 319.49,44.19 319.78,43.89 320.08,43.57 320.22,43.41 320.37,43.25 320.66,42.92 320.96,42.58 321.25,42.22 321.54,41.86 321.84,41.49 321.93,41.36 322.13,41.1 322.42,40.71 322.72,40.3 323.01,39.88 323.3,39.45 323.6,39.01 323.65,38.93 323.89,38.55 324.19,38.08 324.48,37.59 324.77,37.09 325.07,36.58 325.36,36.05 325.07,48.48 324.77,57.5 324.48,64.09 324.19,68.92 323.89,72.49 323.65,74.76 323.6,75.16 323.3,77.17 323.01,78.7 322.72,79.89 322.42,80.83 322.13,81.58 321.93,82.01 321.84,82.21 321.54,82.73 321.25,83.18 320.96,83.57 320.66,83.92 320.37,84.23 320.22,84.38 320.08,84.52 319.78,84.78 319.49,85.03 319.19,85.26 318.9,85.48 318.61,85.69 318.51,85.76 318.31,85.89 318.02,86.08 317.73,86.26 317.43,86.44 317.14,86.61 316.85,86.77 316.8,86.79 316.55,86.92 316.26,87.07 315.96,87.21 315.67,87.35 315.38,87.49 315.08,87.62 314.79,87.74 314.5,87.86 314.2,87.98 313.91,88.09 313.62,88.2 313.37,88.29 313.32,88.31 313.03,88.41 312.74,88.51 312.44,88.61 312.15,88.71 311.85,88.8 311.66,88.86 311.56,88.89 311.27,88.98 310.97,89.06 310.68,89.15 310.39,89.23 310.09,89.31 309.95,89.35 309.8,89.38 309.51,89.46 309.21,89.53 308.92,89.61 308.62,89.68 308.33,89.75 308.23,89.77 308.04,89.82 306.52,90.15 304.81,90.49 303.1,90.81 301.38,91.11 299.67,91.4 297.96,91.68 296.24,91.95 294.53,92.21 292.82,92.47 291.11,92.72 289.39,92.97 287.68,93.22 285.97,93.47 284.26,93.72 282.54,93.97 280.83,94.22 279.12,94.46 277.41,94.71 275.69,94.95 273.98,95.2 272.27,95.44 270.55,95.69 268.84,95.93 267.13,96.18 265.42,96.42 263.7,96.67 261.99,96.91 260.28,97.16 258.57,97.4 256.85,97.65 255.14,97.89 253.43,98.14 251.72,98.38 250,98.63 248.29,98.87 246.58,99.12 244.86,99.37 243.15,99.61 241.44,99.85 239.73,100.1 238.01,100.34 236.3,100.59 234.59,100.84 234.05,100.91 233.76,100.95 233.46,101 233.17,101.04 232.88,101.08 232.58,101.12 232.29,101.16 232,101.21 231.7,101.25 231.41,101.29 231.16,101.32 231.11,101.33 230.82,101.37 230.53,101.42 230.23,101.46 229.94,101.5 229.65,101.54 229.45,101.57 229.35,101.58 229.06,101.63 228.77,101.67 228.47,101.71 228.18,101.75 227.88,101.79 227.74,101.81 227.59,101.84 227.3,101.88 227,101.92 226.71,101.96 226.42,102 226.12,102.05 226.03,102.06 225.83,102.09 225.54,102.13 225.24,102.17 224.95,102.21 224.66,102.26 224.36,102.3 224.31,102.31 224.07,102.34 223.77,102.38 223.48,102.42 223.19,102.47 222.89,102.51 222.6,102.55" fill="none" stroke="#ff2cff" stroke-width="1.2" stroke-linejoin="round" stroke-linecap="round"/>
<polyline points="222.6,107.45 222.89,101.36 223.19,96.03 223.48,91.36 223.77,87.27 224.07,83.69 224.36,80.56 224.56,78.69 224.66,77.81 224.95,75.41 225.24,73.3 225.54,71.46 225.83,69.84 226.12,68.42 226.42,67.18 226.51,66.8 226.71,66.09 227,65.13 227.3,64.29 227.59,63.56 227.88,62.91 228.18,62.34 228.47,61.84 228.77,61.41 229.06,61.02 229.35,60.68 229.65,60.38 229.94,60.12 230.23,59.88 230.43,59.74 230.53,59.68 230.82,59.49 231.11,59.33 231.41,59.19 231.7,59.06 232,58.94 232.29,58.84 232.39,58.81 232.58,58.75 232.88,58.67 233.17,58.6 233.46,58.53 233.76,58.47 234.05,58.41 234.34,58.36 236.3,58.11 238.26,57.94 240.22,57.81 242.17,57.69 244.13,57.57 246.09,57.46 248.05,57.34 250,57.23 251.96,57.12 253.92,57.01 255.87,56.89 257.83,56.78 259.79,56.67 261.75,56.55 263.7,56.44 265.66,56.33 267.62,56.21 269.58,56.1 271.53,55.98 273.49,55.87 275.45,55.75 277.41,55.63 279.36,55.51 281.32,55.39 283.28,55.27 285.23,55.14 287.19,55.01 289.15,54.87 291.11,54.73 293.06,54.58 295.02,54.42 296.98,54.25 298.94,54.06 300.89,53.86 302.85,53.63 304.81,53.38 306.77,53.09 308.72,52.75 310.68,52.36 312.64,51.9 314.59,51.36 316.55,50.71 318.51,49.92 320.47,48.96 322.42,47.79 322.72,47.6 323.01,47.39 323.3,47.18 323.6,46.97 323.89,46.75 324.19,46.52 324.38,46.36 324.48,46.28 324.77,46.04 325.07,45.79 325.36,45.53 325.65,45.26 325.95,44.99 326.24,44.7 326.34,44.6 326.53,44.41 326.83,44.1 327.12,43.79 327.42,43.47 327.71,43.14 328,42.79 328.3,42.44 328.59,42.07 328.88,41.69 329.18,41.3 329.47,40.9 329.76,40.48 330.06,40.05 330.25,39.76 330.35,39.61 330.64,39.15 330.94,38.68 331.23,38.19 331.53,37.68 331.82,37.16 332.11,36.62 332.21,36.44 332.41,36.07 332.7,35.49 332.99,34.9 333.29,34.29 333.58,33.66 333.87,33 334.17,32.33 334.46,31.63 334.76,30.91 335.05,30.16 335.34,29.39 335.64,28.6 335.93,27.78 336.13,27.21 336.22,26.93 336.52,26.05 336.81,25.15 337.1,24.21 337.4,23.24 337.69,22.24 337.98,21.21 338.08,20.86 338.28,20.14 338.57,19.04 338.87,17.9 339.16,16.72 339.45,15.51 339.75,14.25 340.04,12.95 339.75,18.99 339.45,24.55 339.16,29.66 338.87,34.38 338.57,38.72 338.28,42.71 338.08,45.21 337.98,46.4 337.69,49.79 337.4,52.91 337.1,55.79 336.81,58.44 336.52,60.88 336.22,63.14 336.13,63.85 335.93,65.21 335.64,67.13 335.34,68.89 335.05,70.52 334.76,72.02 334.46,73.4 334.17,74.68 333.87,75.86 333.58,76.95 333.29,77.96 332.99,78.89 332.7,79.75 332.41,80.54 332.21,81.04 332.11,81.28 331.82,81.96 331.53,82.59 331.23,83.17 330.94,83.72 330.64,84.22 330.35,84.69 330.25,84.84 330.06,85.12 329.76,85.53 329.47,85.91 329.18,86.27 328.88,86.61 328.59,86.93 328.3,87.24 328,87.53 327.71,87.82 327.42,88.1 327.12,88.37 326.83,88.65 326.53,88.92 326.34,89.1 326.24,89.19 325.95,89.46 325.65,89.73 325.36,90 325.07,90.26 324.77,90.51 324.48,90.75 324.38,90.83 324.19,90.98 323.89,91.19 323.6,91.37 323.3,91.53 323.01,91.66 322.72,91.76 322.42,91.83 320.47,91.71 318.51,91.23 316.55,90.86 314.59,90.83 312.64,91.41 310.68,92.28 308.72,92.95 306.77,93.38 304.81,93.73 302.85,94.05 300.89,94.38 298.94,94.71 296.98,95.04 295.02,95.36 293.06,95.69 291.11,96.02 289.15,96.34 287.19,96.67 285.23,97 283.28,97.32 281.32,97.65 279.36,97.98 277.41,98.3 275.45,98.63 273.49,98.96 271.53,99.28 269.58,99.61 267.62,99.94 265.66,100.26 263.7,100.59 261.75,100.92 259.79,101.24 257.83,101.57 255.87,101.9 253.92,102.22 251.96,102.55 250,102.88 248.05,103.2 246.09,103.53 244.13,103.86 242.17,104.18 240.22,104.51 238.26,104.84 236.3,105.16 234.34,105.49 234.05,105.54 233.76,105.59 233.46,105.64 233.17,105.69 232.88,105.73 232.58,105.78 232.39,105.82 232.29,105.83 232,105.88 231.7,105.93 231.41,105.98 231.11,106.03 230.82,106.08 230.53,106.13 230.43,106.14 230.23,106.18 229.94,106.22 229.65,106.27 229.35,106.32 229.06,106.37 228.77,106.42 228.47,106.47 228.18,106.52 227.88,106.57 227.59,106.62 227.3,106.67 227,106.71 226.71,106.76 226.51,106.8 226.42,106.81 226.12,106.86 225.83,106.91 225.54,106.96 225.24,107.01 224.95,107.06 224.66,107.11 224.56,107.12 224.36,107.16 224.07,107.2 223.77,107.25 223.48,107.3 223.19,107.35 222.89,107.4 222.6,107.45" fill="none" stroke="#ff2020" stroke-width="1.2" stroke-linejoin="round" stroke-linecap="round"/>
<rect x="207" y="7" width="147.6" height="112.2" fill="none" stroke="#262626" stroke-width="1.25"/>
<line x1="205" y1="119" x2="207" y2="119" stroke="#262626" stroke-width="0.9"/>
<text x="204.2" y="121.6" font-size="8.3" text-anchor="end" fill="#111" font-weight="bold" font-family='"Liberation Serif", serif' stroke="#111" stroke-width="0.2">−12</text>
<line x1="205" y1="105" x2="207" y2="105" stroke="#262626" stroke-width="0.9"/>
<text x="204.2" y="107.6" font-size="8.3" text-anchor="end" fill="#111" font-weight="bold" font-family='"Liberation Serif", serif' stroke="#111" stroke-width="0.2">−8</text>
<line x1="205" y1="91" x2="207" y2="91" stroke="#262626" stroke-width="0.9"/>
<text x="204.2" y="93.6" font-size="8.3" text-anchor="end" fill="#111" font-weight="bold" font-family='"Liberation Serif", serif' stroke="#111" stroke-width="0.2">−4</text>
<line x1="205" y1="77" x2="207" y2="77" stroke="#262626" stroke-width="0.9"/>
<text x="204.2" y="79.6" font-size="8.3" text-anchor="end" fill="#111" font-weight="bold" font-family='"Liberation Serif", serif' stroke="#111" stroke-width="0.2">0</text>
<line x1="205" y1="63" x2="207" y2="63" stroke="#262626" stroke-width="0.9"/>
<text x="204.2" y="65.6" font-size="8.3" text-anchor="end" fill="#111" font-weight="bold" font-family='"Liberation Serif", serif' stroke="#111" stroke-width="0.2">4</text>
<line x1="205" y1="49" x2="207" y2="49" stroke="#262626" stroke-width="0.9"/>
<text x="204.2" y="51.6" font-size="8.3" text-anchor="end" fill="#111" font-weight="bold" font-family='"Liberation Serif", serif' stroke="#111" stroke-width="0.2">8</text>
<line x1="205" y1="35" x2="207" y2="35" stroke="#262626" stroke-width="0.9"/>
<text x="204.2" y="37.6" font-size="8.3" text-anchor="end" fill="#111" font-weight="bold" font-family='"Liberation Serif", serif' stroke="#111" stroke-width="0.2">12</text>
<line x1="205" y1="21" x2="207" y2="21" stroke="#262626" stroke-width="0.9"/>
<text x="204.2" y="23.6" font-size="8.3" text-anchor="end" fill="#111" font-weight="bold" font-family='"Liberation Serif", serif' stroke="#111" stroke-width="0.2">16</text>
<line x1="205" y1="7" x2="207" y2="7" stroke="#262626" stroke-width="0.9"/>
<text x="204.2" y="9.6" font-size="8.3" text-anchor="end" fill="#111" font-weight="bold" font-family='"Liberation Serif", serif' stroke="#111" stroke-width="0.2">20</text>
<line x1="205.5" y1="112" x2="207" y2="112" stroke="#262626" stroke-width="0.8"/>
<line x1="205.5" y1="98" x2="207" y2="98" stroke="#262626" stroke-width="0.8"/>
<line x1="205.5" y1="84" x2="207" y2="84" stroke="#262626" stroke-width="0.8"/>
<line x1="205.5" y1="70" x2="207" y2="70" stroke="#262626" stroke-width="0.8"/>
<line x1="205.5" y1="56" x2="207" y2="56" stroke="#262626" stroke-width="0.8"/>
<line x1="205.5" y1="42" x2="207" y2="42" stroke="#262626" stroke-width="0.8"/>
<line x1="205.5" y1="28" x2="207" y2="28" stroke="#262626" stroke-width="0.8"/>
<line x1="205.5" y1="14" x2="207" y2="14" stroke="#262626" stroke-width="0.8"/>
<line x1="222.6" y1="119.2" x2="222.6" y2="121.2" stroke="#262626" stroke-width="0.9"/>
<text x="222.6" y="129.6" font-size="8.3" text-anchor="middle" fill="#111" font-weight="bold" font-family='"Liberation Serif", serif' stroke="#111" stroke-width="0.2">0.0</text>
<line x1="251.96" y1="119.2" x2="251.96" y2="121.2" stroke="#262626" stroke-width="0.9"/>
<text x="251.96" y="129.6" font-size="8.3" text-anchor="middle" fill="#111" font-weight="bold" font-family='"Liberation Serif", serif' stroke="#111" stroke-width="0.2">0.4</text>
<line x1="281.32" y1="119.2" x2="281.32" y2="121.2" stroke="#262626" stroke-width="0.9"/>
<text x="281.32" y="129.6" font-size="8.3" text-anchor="middle" fill="#111" font-weight="bold" font-family='"Liberation Serif", serif' stroke="#111" stroke-width="0.2">0.8</text>
<line x1="310.68" y1="119.2" x2="310.68" y2="121.2" stroke="#262626" stroke-width="0.9"/>
<text x="310.68" y="129.6" font-size="8.3" text-anchor="middle" fill="#111" font-weight="bold" font-family='"Liberation Serif", serif' stroke="#111" stroke-width="0.2">1.2</text>
<line x1="340.04" y1="119.2" x2="340.04" y2="121.2" stroke="#262626" stroke-width="0.9"/>
<text x="340.04" y="129.6" font-size="8.3" text-anchor="middle" fill="#111" font-weight="bold" font-family='"Liberation Serif", serif' stroke="#111" stroke-width="0.2">1.6</text>
<line x1="207.92" y1="119.2" x2="207.92" y2="120.7" stroke="#262626" stroke-width="0.8"/>
<line x1="237.28" y1="119.2" x2="237.28" y2="120.7" stroke="#262626" stroke-width="0.8"/>
<line x1="266.64" y1="119.2" x2="266.64" y2="120.7" stroke="#262626" stroke-width="0.8"/>
<line x1="296" y1="119.2" x2="296" y2="120.7" stroke="#262626" stroke-width="0.8"/>
<line x1="325.36" y1="119.2" x2="325.36" y2="120.7" stroke="#262626" stroke-width="0.8"/>
<text x="283.2" y="138.8" font-size="8.5" text-anchor="middle" fill="#111" font-weight="bold" font-family='"Liberation Serif", serif' stroke="#111" stroke-width="0.2">Potential (V)</text>
<text x="195.4" y="64.4" font-size="8.9" text-anchor="middle" fill="#111" font-weight="bold" font-family='"Liberation Serif", serif' transform="rotate(-90 195.4 64.4)" stroke="#111" stroke-width="0.2">Current (mA)</text>
<line x1="222" y1="14" x2="234.4" y2="14" stroke="#333333" stroke-width="1.3"/>
<text x="238" y="16.3" font-size="6.7" text-anchor="start" fill="#111" font-weight="bold" font-family='"Liberation Serif", serif' stroke="#111" stroke-width="0.2">0–0.8 V</text>
<line x1="222" y1="22.4" x2="234.4" y2="22.4" stroke="#ff9422" stroke-width="1.3"/>
<text x="238" y="24.7" font-size="6.7" text-anchor="start" fill="#111" font-weight="bold" font-family='"Liberation Serif", serif' stroke="#111" stroke-width="0.2">0–1.0 V</text>
<line x1="222" y1="30.8" x2="234.4" y2="30.8" stroke="#2424ff" stroke-width="1.3"/>
<text x="238" y="33.1" font-size="6.7" text-anchor="start" fill="#111" font-weight="bold" font-family='"Liberation Serif", serif' stroke="#111" stroke-width="0.2">0–1.2 V</text>
<line x1="222" y1="39.2" x2="234.4" y2="39.2" stroke="#ff2cff" stroke-width="1.3"/>
<text x="238" y="41.5" font-size="6.7" text-anchor="start" fill="#111" font-weight="bold" font-family='"Liberation Serif", serif' stroke="#111" stroke-width="0.2">0–1.4 V</text>
<line x1="222" y1="47.6" x2="234.4" y2="47.6" stroke="#ff2020" stroke-width="1.3"/>
<text x="238" y="49.9" font-size="6.7" text-anchor="start" fill="#111" font-weight="bold" font-family='"Liberation Serif", serif' stroke="#111" stroke-width="0.2">0–1.6 V</text>
<text x="364.2" y="13.8" font-size="18" text-anchor="start" fill="#000" font-weight="bold" font-family='"Liberation Sans", sans-serif'>c</text>
<polyline points="393.9,119.6 393.93,118.89 393.98,117.88 394.03,116.69 394.1,115.45 394.19,114.29 394.31,113.31 394.46,112.53 394.63,111.84 394.83,111.23 395.05,110.65 395.28,110.1 395.53,109.54 395.77,109.01 396.01,108.56 396.26,108.12 396.55,107.65 396.89,107.09 397.32,106.39 397.79,105.66 398.28,104.97 398.83,104.19 399.48,103.2 400.27,101.88 401.23,100.1 402.47,97.67 403.97,94.65 405.61,91.3 407.27,87.87 408.84,84.64 410.2,81.86 411.41,79.44 412.55,77.15 413.61,75.06 414.55,73.22 415.32,71.69 415.9,70.54 415.9,70.54 416.88,73.05 417.43,74.65 417.98,76.22 418.53,77.77 419.08,79.3 419.63,80.81 420.18,82.29 420.73,83.75 421.28,85.19 421.83,86.61 422.38,88.01 422.93,89.38 423.48,90.73 424.03,92.06 424.58,93.37 425.13,94.65 425.68,95.92 426.24,97.16 426.79,98.38 427.34,99.57 427.89,100.75 428.44,101.9 428.99,103.03 429.54,104.14 430.09,105.23 430.64,106.29 431.19,107.33 431.74,108.35 432.29,109.35 432.84,110.33 433.39,111.28 433.94,112.21 434.49,113.12 435.04,114.01 435.59,114.87 436.14,115.72 436.69,116.54 437.24,117.34 437.79,118.11 438.34,118.87 438.89,119.6" fill="none" stroke="#333333" stroke-width="1" stroke-linejoin="round" stroke-linecap="round"/>
<polyline points="393.9,119.6 393.93,118.89 393.98,117.88 394.03,116.69 394.1,115.45 394.19,114.29 394.31,113.31 394.46,112.53 394.63,111.84 394.83,111.23 395.05,110.65 395.28,110.1 395.53,109.54 395.77,109.01 396.01,108.56 396.26,108.12 396.55,107.65 396.89,107.09 397.32,106.39 397.79,105.66 398.28,104.97 398.83,104.19 399.48,103.2 400.27,101.88 401.23,100.1 402.47,97.67 403.97,94.65 405.61,91.3 407.27,87.87 408.84,84.64 410.2,81.86 411.32,79.58 412.3,77.6 413.18,75.81 414.03,74.1 414.92,72.38 415.9,70.54 417.07,68.44 418.39,66.16 419.75,63.85 421.02,61.71 422.1,59.89 422.87,58.59 423.08,58.59 424.05,61.73 424.77,63.71 425.48,65.67 426.19,67.6 426.91,69.5 427.62,71.37 428.33,73.22 429.05,75.03 429.76,76.82 430.47,78.59 431.19,80.32 431.9,82.03 432.61,83.71 433.33,85.36 434.04,86.99 434.75,88.59 435.46,90.16 436.18,91.7 436.89,93.22 437.6,94.7 438.32,96.16 439.03,97.6 439.74,99 440.46,100.38 441.17,101.73 441.88,103.05 442.6,104.35 443.31,105.62 444.02,106.86 444.74,108.07 445.45,109.26 446.16,110.41 446.88,111.54 447.59,112.65 448.3,113.72 449.01,114.77 449.73,115.79 450.44,116.79 451.15,117.75 451.87,118.69 452.58,119.6" fill="none" stroke="#ff9422" stroke-width="1" stroke-linejoin="round" stroke-linecap="round"/>
<polyline points="393.9,119.6 393.93,118.89 393.98,117.88 394.03,116.69 394.1,115.45 394.19,114.29 394.31,113.31 394.46,112.53 394.63,111.84 394.83,111.23 395.05,110.65 395.28,110.1 395.53,109.54 395.77,109.01 396.01,108.56 396.26,108.12 396.55,107.65 396.89,107.09 397.32,106.39 397.79,105.66 398.28,104.97 398.83,104.19 399.48,103.2 400.27,101.88 401.23,100.1 402.47,97.67 403.97,94.65 405.61,91.3 407.27,87.87 408.84,84.64 410.2,81.86 411.32,79.59 412.28,77.62 413.15,75.85 414,74.15 414.9,72.42 415.9,70.54 417.03,68.52 418.21,66.46 419.44,64.37 420.7,62.24 421.97,60.11 423.24,57.96 424.6,55.64 426.09,53.11 427.59,50.57 428.99,48.2 430.17,46.19 431.02,44.75 431.06,44.75 432.04,48.52 432.97,50.96 433.9,53.36 434.83,55.73 435.76,58.06 436.69,60.36 437.62,62.63 438.55,64.86 439.47,67.06 440.4,69.23 441.33,71.36 442.26,73.45 443.19,75.52 444.12,77.55 445.05,79.54 445.98,81.51 446.91,83.44 447.84,85.33 448.77,87.19 449.69,89.02 450.62,90.81 451.55,92.57 452.48,94.3 453.41,95.99 454.34,97.65 455.27,99.28 456.2,100.87 457.13,102.43 458.06,103.95 458.99,105.44 459.91,106.89 460.84,108.32 461.77,109.71 462.7,111.06 463.63,112.38 464.56,113.67 465.49,114.92 466.42,116.14 467.35,117.33 468.28,118.48 469.21,119.6" fill="none" stroke="#2424ff" stroke-width="1" stroke-linejoin="round" stroke-linecap="round"/>
<polyline points="393.9,119.6 393.93,118.89 393.98,117.88 394.03,116.69 394.1,115.45 394.19,114.29 394.31,113.31 394.46,112.53 394.63,111.84 394.83,111.23 395.05,110.65 395.28,110.1 395.53,109.54 395.77,109.01 396.01,108.56 396.26,108.12 396.55,107.65 396.89,107.09 397.32,106.39 397.79,105.66 398.28,104.97 398.83,104.19 399.48,103.2 400.27,101.88 401.23,100.1 402.47,97.67 403.97,94.65 405.61,91.3 407.27,87.87 408.84,84.64 410.2,81.86 411.32,79.59 412.28,77.62 413.15,75.85 414,74.15 414.9,72.42 415.9,70.54 417.02,68.53 418.2,66.48 419.42,64.41 420.67,62.29 421.95,60.14 423.24,57.96 424.56,55.71 425.91,53.39 427.29,51.04 428.67,48.69 430.04,46.37 431.39,44.12 432.8,41.8 434.29,39.37 435.78,36.97 437.15,34.75 438.31,32.89 439.15,31.54 439.54,31.54 440.52,35.31 441.62,38.2 442.72,41.05 443.82,43.86 444.92,46.63 446.02,49.35 447.12,52.04 448.22,54.69 449.32,57.3 450.42,59.86 451.52,62.39 452.62,64.88 453.72,67.33 454.82,69.73 455.92,72.1 457.02,74.43 458.12,76.72 459.22,78.96 460.32,81.17 461.42,83.34 462.52,85.46 463.62,87.55 464.72,89.6 465.82,91.61 466.92,93.57 468.02,95.5 469.12,97.39 470.22,99.23 471.32,101.04 472.43,102.81 473.53,104.53 474.63,106.22 475.73,107.87 476.83,109.47 477.93,111.04 479.03,112.57 480.13,114.05 481.23,115.5 482.33,116.91 483.43,118.27 484.53,119.6" fill="none" stroke="#ff2cff" stroke-width="1" stroke-linejoin="round" stroke-linecap="round"/>
<polyline points="393.9,119.6 393.93,118.89 393.98,117.88 394.03,116.69 394.1,115.45 394.19,114.29 394.31,113.31 394.46,112.53 394.63,111.84 394.83,111.23 395.05,110.65 395.28,110.1 395.53,109.54 395.77,109.01 396.01,108.56 396.26,108.12 396.55,107.65 396.89,107.09 397.32,106.39 397.79,105.66 398.28,104.97 398.83,104.19 399.48,103.2 400.27,101.88 401.23,100.1 402.47,97.67 403.97,94.65 405.61,91.3 407.27,87.87 408.84,84.64 410.2,81.86 411.32,79.59 412.28,77.62 413.15,75.85 414,74.15 414.9,72.42 415.9,70.54 417.02,68.53 418.2,66.48 419.42,64.41 420.67,62.29 421.95,60.14 423.24,57.96 424.55,55.72 425.9,53.42 427.26,51.08 428.64,48.73 430.02,46.4 431.39,44.12 432.8,41.77 434.29,39.32 435.77,36.89 437.19,34.59 438.46,32.56 439.54,30.91 440.37,29.72 440.99,28.91 441.48,28.36 441.89,27.95 442.31,27.58 442.8,27.14 443.32,26.64 443.83,26.21 444.33,25.8 444.85,25.41 445.42,25.03 446.06,24.62 446.76,24.19 447.51,23.76 448.3,23.32 449.14,22.9 450.02,22.49 450.95,22.1 451.94,21.75 453,21.41 454.11,21.08 455.24,20.78 456.36,20.49 457.47,20.22 458.63,19.96 459.88,19.71 461.14,19.47 462.3,19.26 463.28,19.09 463.99,18.96 463.99,18.96 464.05,19.51 464.13,20.26 464.22,21.16 464.34,22.13 464.48,23.1 464.64,23.99 464.82,24.83 465.02,25.67 465.24,26.51 465.49,27.35 465.78,28.19 466.11,29.02 466.45,29.79 466.8,30.47 467.18,31.15 467.63,31.91 468.19,32.85 468.88,34.06 469.73,35.55 470.72,37.27 471.8,39.17 472.97,41.18 474.18,43.27 475.4,45.38 476.66,47.54 478,49.8 479.37,52.14 480.77,54.51 482.17,56.88 483.55,59.22 484.91,61.54 486.27,63.88 487.62,66.21 488.98,68.53 490.34,70.82 491.7,73.05 493.06,75.23 494.42,77.36 495.77,79.46 497.13,81.53 498.49,83.59 499.85,85.63 501.21,87.67 502.57,89.69 503.92,91.69 505.28,93.67 506.64,95.64 508,97.58 509.37,99.52 510.74,101.43 512.12,103.32 513.48,105.2 514.83,107.06 516.15,108.91 517.52,110.85 518.98,112.91 520.41,114.96 521.73,116.85 522.84,118.44 523.65,119.6" fill="none" stroke="#ff2020" stroke-width="1.1" stroke-linejoin="round" stroke-linecap="round"/>
<rect x="392.6" y="6.4" width="149" height="113.2" fill="none" stroke="#262626" stroke-width="1.25"/>
<line x1="390.6" y1="119.6" x2="392.6" y2="119.6" stroke="#262626" stroke-width="0.9"/>
<text x="389.8" y="122.2" font-size="8.3" text-anchor="end" fill="#111" font-weight="bold" font-family='"Liberation Serif", serif' stroke="#111" stroke-width="0.2">0.0</text>
<line x1="390.6" y1="107.02" x2="392.6" y2="107.02" stroke="#262626" stroke-width="0.9"/>
<text x="389.8" y="109.62" font-size="8.3" text-anchor="end" fill="#111" font-weight="bold" font-family='"Liberation Serif", serif' stroke="#111" stroke-width="0.2">0.2</text>
<line x1="390.6" y1="94.44" x2="392.6" y2="94.44" stroke="#262626" stroke-width="0.9"/>
<text x="389.8" y="97.04" font-size="8.3" text-anchor="end" fill="#111" font-weight="bold" font-family='"Liberation Serif", serif' stroke="#111" stroke-width="0.2">0.4</text>
<line x1="390.6" y1="81.86" x2="392.6" y2="81.86" stroke="#262626" stroke-width="0.9"/>
<text x="389.8" y="84.46" font-size="8.3" text-anchor="end" fill="#111" font-weight="bold" font-family='"Liberation Serif", serif' stroke="#111" stroke-width="0.2">0.6</text>
<line x1="390.6" y1="69.28" x2="392.6" y2="69.28" stroke="#262626" stroke-width="0.9"/>
<text x="389.8" y="71.88" font-size="8.3" text-anchor="end" fill="#111" font-weight="bold" font-family='"Liberation Serif", serif' stroke="#111" stroke-width="0.2">0.8</text>
<line x1="390.6" y1="56.7" x2="392.6" y2="56.7" stroke="#262626" stroke-width="0.9"/>
<text x="389.8" y="59.3" font-size="8.3" text-anchor="end" fill="#111" font-weight="bold" font-family='"Liberation Serif", serif' stroke="#111" stroke-width="0.2">1.0</text>
<line x1="390.6" y1="44.12" x2="392.6" y2="44.12" stroke="#262626" stroke-width="0.9"/>
<text x="389.8" y="46.72" font-size="8.3" text-anchor="end" fill="#111" font-weight="bold" font-family='"Liberation Serif", serif' stroke="#111" stroke-width="0.2">1.2</text>
<line x1="390.6" y1="31.54" x2="392.6" y2="31.54" stroke="#262626" stroke-width="0.9"/>
<text x="389.8" y="34.14" font-size="8.3" text-anchor="end" fill="#111" font-weight="bold" font-family='"Liberation Serif", serif' stroke="#111" stroke-width="0.2">1.4</text>
<line x1="390.6" y1="18.96" x2="392.6" y2="18.96" stroke="#262626" stroke-width="0.9"/>
<text x="389.8" y="21.56" font-size="8.3" text-anchor="end" fill="#111" font-weight="bold" font-family='"Liberation Serif", serif' stroke="#111" stroke-width="0.2">1.6</text>
<line x1="390.6" y1="6.38" x2="392.6" y2="6.38" stroke="#262626" stroke-width="0.9"/>
<text x="389.8" y="8.98" font-size="8.3" text-anchor="end" fill="#111" font-weight="bold" font-family='"Liberation Serif", serif' stroke="#111" stroke-width="0.2">1.8</text>
<line x1="391.1" y1="113.31" x2="392.6" y2="113.31" stroke="#262626" stroke-width="0.8"/>
<line x1="391.1" y1="100.73" x2="392.6" y2="100.73" stroke="#262626" stroke-width="0.8"/>
<line x1="391.1" y1="88.15" x2="392.6" y2="88.15" stroke="#262626" stroke-width="0.8"/>
<line x1="391.1" y1="75.57" x2="392.6" y2="75.57" stroke="#262626" stroke-width="0.8"/>
<line x1="391.1" y1="62.99" x2="392.6" y2="62.99" stroke="#262626" stroke-width="0.8"/>
<line x1="391.1" y1="50.41" x2="392.6" y2="50.41" stroke="#262626" stroke-width="0.8"/>
<line x1="391.1" y1="37.83" x2="392.6" y2="37.83" stroke="#262626" stroke-width="0.8"/>
<line x1="391.1" y1="25.25" x2="392.6" y2="25.25" stroke="#262626" stroke-width="0.8"/>
<line x1="391.1" y1="12.67" x2="392.6" y2="12.67" stroke="#262626" stroke-width="0.8"/>
<line x1="393.9" y1="119.6" x2="393.9" y2="121.6" stroke="#262626" stroke-width="0.9"/>
<text x="393.9" y="129.8" font-size="8.3" text-anchor="middle" fill="#111" font-weight="bold" font-family='"Liberation Serif", serif' stroke="#111" stroke-width="0.2">0</text>
<line x1="410.2" y1="119.6" x2="410.2" y2="121.6" stroke="#262626" stroke-width="0.9"/>
<text x="410.2" y="129.8" font-size="8.3" text-anchor="middle" fill="#111" font-weight="bold" font-family='"Liberation Serif", serif' stroke="#111" stroke-width="0.2">10</text>
<line x1="426.5" y1="119.6" x2="426.5" y2="121.6" stroke="#262626" stroke-width="0.9"/>
<text x="426.5" y="129.8" font-size="8.3" text-anchor="middle" fill="#111" font-weight="bold" font-family='"Liberation Serif", serif' stroke="#111" stroke-width="0.2">20</text>
<line x1="442.8" y1="119.6" x2="442.8" y2="121.6" stroke="#262626" stroke-width="0.9"/>
<text x="442.8" y="129.8" font-size="8.3" text-anchor="middle" fill="#111" font-weight="bold" font-family='"Liberation Serif", serif' stroke="#111" stroke-width="0.2">30</text>
<line x1="459.1" y1="119.6" x2="459.1" y2="121.6" stroke="#262626" stroke-width="0.9"/>
<text x="459.1" y="129.8" font-size="8.3" text-anchor="middle" fill="#111" font-weight="bold" font-family='"Liberation Serif", serif' stroke="#111" stroke-width="0.2">40</text>
<line x1="475.4" y1="119.6" x2="475.4" y2="121.6" stroke="#262626" stroke-width="0.9"/>
<text x="475.4" y="129.8" font-size="8.3" text-anchor="middle" fill="#111" font-weight="bold" font-family='"Liberation Serif", serif' stroke="#111" stroke-width="0.2">50</text>
<line x1="491.7" y1="119.6" x2="491.7" y2="121.6" stroke="#262626" stroke-width="0.9"/>
<text x="491.7" y="129.8" font-size="8.3" text-anchor="middle" fill="#111" font-weight="bold" font-family='"Liberation Serif", serif' stroke="#111" stroke-width="0.2">60</text>
<line x1="508" y1="119.6" x2="508" y2="121.6" stroke="#262626" stroke-width="0.9"/>
<text x="508" y="129.8" font-size="8.3" text-anchor="middle" fill="#111" font-weight="bold" font-family='"Liberation Serif", serif' stroke="#111" stroke-width="0.2">70</text>
<line x1="524.3" y1="119.6" x2="524.3" y2="121.6" stroke="#262626" stroke-width="0.9"/>
<text x="524.3" y="129.8" font-size="8.3" text-anchor="middle" fill="#111" font-weight="bold" font-family='"Liberation Serif", serif' stroke="#111" stroke-width="0.2">80</text>
<line x1="540.6" y1="119.6" x2="540.6" y2="121.6" stroke="#262626" stroke-width="0.9"/>
<text x="540.6" y="129.8" font-size="8.3" text-anchor="middle" fill="#111" font-weight="bold" font-family='"Liberation Serif", serif' stroke="#111" stroke-width="0.2">90</text>
<line x1="402.05" y1="119.6" x2="402.05" y2="121.1" stroke="#262626" stroke-width="0.8"/>
<line x1="418.35" y1="119.6" x2="418.35" y2="121.1" stroke="#262626" stroke-width="0.8"/>
<line x1="434.65" y1="119.6" x2="434.65" y2="121.1" stroke="#262626" stroke-width="0.8"/>
<line x1="450.95" y1="119.6" x2="450.95" y2="121.1" stroke="#262626" stroke-width="0.8"/>
<line x1="467.25" y1="119.6" x2="467.25" y2="121.1" stroke="#262626" stroke-width="0.8"/>
<line x1="483.55" y1="119.6" x2="483.55" y2="121.1" stroke="#262626" stroke-width="0.8"/>
<line x1="499.85" y1="119.6" x2="499.85" y2="121.1" stroke="#262626" stroke-width="0.8"/>
<line x1="516.15" y1="119.6" x2="516.15" y2="121.1" stroke="#262626" stroke-width="0.8"/>
<line x1="532.45" y1="119.6" x2="532.45" y2="121.1" stroke="#262626" stroke-width="0.8"/>
<text x="472.2" y="139.8" font-size="8.6" text-anchor="middle" fill="#111" font-weight="bold" font-family='"Liberation Serif", serif' stroke="#111" stroke-width="0.2">Time (s)</text>
<text x="375.4" y="59.7" font-size="9.2" text-anchor="middle" fill="#111" font-weight="bold" font-family='"Liberation Serif", serif' transform="rotate(-90 375.4 59.7)" stroke="#111" stroke-width="0.2">Potential (V)</text>
<line x1="498.4" y1="18" x2="510.4" y2="18" stroke="#333333" stroke-width="1.3"/>
<text x="513.6" y="20.3" font-size="6.6" text-anchor="start" fill="#111" font-weight="bold" font-family='"Liberation Serif", serif' stroke="#111" stroke-width="0.2">0–0.8 V</text>
<line x1="498.4" y1="27" x2="510.4" y2="27" stroke="#ff9422" stroke-width="1.3"/>
<text x="513.6" y="29.3" font-size="6.6" text-anchor="start" fill="#111" font-weight="bold" font-family='"Liberation Serif", serif' stroke="#111" stroke-width="0.2">0–1.0 V</text>
<line x1="498.4" y1="36" x2="510.4" y2="36" stroke="#2424ff" stroke-width="1.3"/>
<text x="513.6" y="38.3" font-size="6.6" text-anchor="start" fill="#111" font-weight="bold" font-family='"Liberation Serif", serif' stroke="#111" stroke-width="0.2">0–1.2 V</text>
<line x1="498.4" y1="45" x2="510.4" y2="45" stroke="#ff2cff" stroke-width="1.3"/>
<text x="513.6" y="47.3" font-size="6.6" text-anchor="start" fill="#111" font-weight="bold" font-family='"Liberation Serif", serif' stroke="#111" stroke-width="0.2">0–1.4 V</text>
<line x1="498.4" y1="54" x2="510.4" y2="54" stroke="#ff2020" stroke-width="1.3"/>
<text x="513.6" y="56.3" font-size="6.6" text-anchor="start" fill="#111" font-weight="bold" font-family='"Liberation Serif", serif' stroke="#111" stroke-width="0.2">0–1.6 V</text>
<text x="2.8" y="160.4" font-size="18" text-anchor="start" fill="#000" font-weight="bold" font-family='"Liberation Sans", sans-serif'>d</text>
<polyline points="42.8,218.3 43.1,218 43.4,217.74 43.69,217.51 43.99,217.31 44.29,217.13 44.59,216.98 44.79,216.89 44.89,216.84 45.18,216.73 45.48,216.62 45.78,216.53 46.08,216.45 46.38,216.38 46.67,216.32 46.77,216.3 46.97,216.26 47.27,216.22 47.57,216.17 47.87,216.14 48.16,216.11 48.46,216.08 48.76,216.05 49.06,216.03 49.36,216.01 49.65,215.99 49.95,215.98 50.25,215.96 50.55,215.95 50.75,215.94 50.85,215.94 51.14,215.93 51.44,215.92 51.74,215.91 52.04,215.91 52.34,215.9 52.63,215.89 52.73,215.89 52.93,215.89 53.23,215.88 53.53,215.88 53.83,215.87 54.12,215.87 54.42,215.87 54.72,215.86 56.71,215.85 58.69,215.83 60.68,215.82 62.67,215.81 64.65,215.8 66.64,215.78 68.63,215.77 70.61,215.76 72.6,215.75 74.59,215.74 76.57,215.73 78.56,215.72 80.55,215.7 82.53,215.69 84.52,215.68 86.51,215.67 88.49,215.66 90.48,215.65 92.47,215.64 94.45,215.63 96.44,215.61 98.43,215.6 100.41,215.59 102.4,215.58 104.39,215.57 106.37,215.56 108.36,215.55 110.35,215.53 112.33,215.52 114.32,215.51 116.31,215.5 118.29,215.49 120.28,215.48 122.27,215.47 124.25,215.46 126.24,215.44 128.23,215.43 130.21,215.42 132.2,215.41 134.19,215.4 136.17,215.39 138.16,215.38 140.15,215.36 142.13,215.35 144.12,215.34 144.42,215.34 144.72,215.34 145.01,215.34 145.31,215.33 145.61,215.33 145.91,215.33 146.11,215.33 146.21,215.33 146.5,215.33 146.8,215.32 147.1,215.32 147.4,215.32 147.7,215.32 147.99,215.32 148.09,215.32 148.29,215.31 148.59,215.31 148.89,215.31 149.19,215.31 149.48,215.31 149.78,215.3 150.08,215.3 150.38,215.3 150.68,215.29 150.97,215.29 151.27,215.29 151.57,215.28 151.87,215.28 152.07,215.28 152.17,215.28 152.46,215.27 152.76,215.27 153.06,215.26 153.36,215.26 153.66,215.25 153.95,215.24 154.05,215.24 154.25,215.23 154.55,215.22 154.85,215.21 155.15,215.2 155.44,215.19 155.74,215.18 156.04,215.16 156.34,215.14 156.64,215.12 156.93,215.1 157.23,215.08 157.53,215.05 157.83,215.01 158.03,214.99 158.13,214.98 158.42,214.93 158.72,214.89 159.02,214.83 159.32,214.77 159.62,214.7 159.91,214.62 160.01,214.59 160.21,214.52 160.51,214.42 160.81,214.3 161.11,214.16 161.4,214.01 161.7,213.83 162,213.62 161.7,214.08 161.4,214.47 161.11,214.82 160.81,215.12 160.51,215.38 160.21,215.62 160.01,215.76 159.91,215.82 159.62,216 159.32,216.16 159.02,216.29 158.72,216.41 158.42,216.52 158.13,216.61 158.03,216.64 157.83,216.7 157.53,216.77 157.23,216.83 156.93,216.89 156.64,216.94 156.34,216.98 156.04,217.02 155.74,217.05 155.44,217.08 155.15,217.11 154.85,217.13 154.55,217.15 154.25,217.17 154.05,217.18 153.95,217.19 153.66,217.2 153.36,217.22 153.06,217.23 152.76,217.24 152.46,217.25 152.17,217.26 152.07,217.26 151.87,217.27 151.57,217.27 151.27,217.28 150.97,217.29 150.68,217.29 150.38,217.3 150.08,217.3 149.78,217.31 149.48,217.31 149.19,217.32 148.89,217.32 148.59,217.33 148.29,217.33 148.09,217.33 147.99,217.33 147.7,217.34 147.4,217.34 147.1,217.34 146.8,217.35 146.5,217.35 146.21,217.35 146.11,217.35 145.91,217.36 145.61,217.36 145.31,217.36 145.01,217.37 144.72,217.37 144.42,217.37 144.12,217.37 142.13,217.39 140.15,217.41 138.16,217.43 136.17,217.45 134.19,217.47 132.2,217.48 130.21,217.5 128.23,217.52 126.24,217.54 124.25,217.56 122.27,217.57 120.28,217.59 118.29,217.61 116.31,217.63 114.32,217.65 112.33,217.67 110.35,217.68 108.36,217.7 106.37,217.72 104.39,217.74 102.4,217.76 100.41,217.77 98.43,217.79 96.44,217.81 94.45,217.83 92.47,217.85 90.48,217.86 88.49,217.88 86.51,217.9 84.52,217.92 82.53,217.94 80.55,217.96 78.56,217.97 76.57,217.99 74.59,218.01 72.6,218.03 70.61,218.05 68.63,218.06 66.64,218.08 64.65,218.1 62.67,218.12 60.68,218.14 58.69,218.15 56.71,218.17 54.72,218.19 54.42,218.19 54.12,218.2 53.83,218.2 53.53,218.2 53.23,218.2 52.93,218.21 52.73,218.21 52.63,218.21 52.34,218.21 52.04,218.22 51.74,218.22 51.44,218.22 51.14,218.22 50.85,218.23 50.75,218.23 50.55,218.23 50.25,218.23 49.95,218.23 49.65,218.24 49.36,218.24 49.06,218.24 48.76,218.25 48.46,218.25 48.16,218.25 47.87,218.25 47.57,218.26 47.27,218.26 46.97,218.26 46.77,218.26 46.67,218.26 46.38,218.27 46.08,218.27 45.78,218.27 45.48,218.28 45.18,218.28 44.89,218.28 44.79,218.28 44.59,218.28 44.29,218.29 43.99,218.29 43.69,218.29 43.4,218.29 43.1,218.3 42.8,218.3" fill="none" stroke="#222222" stroke-width="1.1" stroke-linejoin="round" stroke-linecap="round"/>
<polyline points="42.8,219.32 43.1,218.81 43.4,218.36 43.69,217.97 43.99,217.62 44.29,217.32 44.59,217.06 44.79,216.9 44.89,216.83 45.18,216.63 45.48,216.45 45.78,216.29 46.08,216.16 46.38,216.04 46.67,215.93 46.77,215.9 46.97,215.84 47.27,215.76 47.57,215.69 47.87,215.62 48.16,215.57 48.46,215.52 48.76,215.48 49.06,215.44 49.36,215.4 49.65,215.38 49.95,215.35 50.25,215.33 50.55,215.31 50.75,215.29 50.85,215.29 51.14,215.27 51.44,215.26 51.74,215.24 52.04,215.23 52.34,215.22 52.63,215.21 52.73,215.21 52.93,215.2 53.23,215.2 53.53,215.19 53.83,215.18 54.12,215.18 54.42,215.17 54.72,215.16 56.71,215.14 58.69,215.12 60.68,215.1 62.67,215.08 64.65,215.07 66.64,215.05 68.63,215.03 70.61,215.02 72.6,215 74.59,214.99 76.57,214.97 78.56,214.95 80.55,214.94 82.53,214.92 84.52,214.91 86.51,214.89 88.49,214.88 90.48,214.86 92.47,214.84 94.45,214.83 96.44,214.81 98.43,214.8 100.41,214.78 102.4,214.76 104.39,214.75 106.37,214.73 108.36,214.72 110.35,214.7 112.33,214.68 114.32,214.67 116.31,214.65 118.29,214.64 120.28,214.62 122.27,214.61 124.25,214.59 126.24,214.57 128.23,214.56 130.21,214.54 132.2,214.53 134.19,214.51 136.17,214.49 138.16,214.48 140.15,214.46 142.13,214.45 144.12,214.43 144.42,214.43 144.72,214.43 145.01,214.42 145.31,214.42 145.61,214.42 145.91,214.42 146.11,214.41 146.21,214.41 146.5,214.41 146.8,214.41 147.1,214.4 147.4,214.4 147.7,214.4 147.99,214.4 148.09,214.4 148.29,214.39 148.59,214.39 148.89,214.39 149.19,214.38 149.48,214.38 149.78,214.38 150.08,214.37 150.38,214.37 150.68,214.37 150.97,214.36 151.27,214.36 151.57,214.35 151.87,214.35 152.07,214.34 152.17,214.34 152.46,214.34 152.76,214.33 153.06,214.32 153.36,214.32 153.66,214.31 153.95,214.3 154.05,214.3 154.25,214.29 154.55,214.28 154.85,214.27 155.15,214.25 155.44,214.24 155.74,214.22 156.04,214.2 156.34,214.18 156.64,214.16 156.93,214.13 157.23,214.1 157.53,214.06 157.83,214.02 158.03,213.99 158.13,213.98 158.42,213.93 158.72,213.87 159.02,213.8 159.32,213.73 159.62,213.64 159.91,213.54 160.01,213.51 160.21,213.43 160.51,213.3 160.81,213.16 161.11,213 161.4,212.81 161.7,212.59 162,212.35 161.7,213.05 161.4,213.67 161.11,214.21 160.81,214.68 160.51,215.1 160.21,215.46 160.01,215.68 159.91,215.78 159.62,216.06 159.32,216.3 159.02,216.52 158.72,216.7 158.42,216.87 158.13,217.01 158.03,217.06 157.83,217.14 157.53,217.25 157.23,217.35 156.93,217.44 156.64,217.51 156.34,217.58 156.04,217.64 155.74,217.69 155.44,217.74 155.15,217.78 154.85,217.81 154.55,217.84 154.25,217.87 154.05,217.89 153.95,217.9 153.66,217.92 153.36,217.94 153.06,217.96 152.76,217.98 152.46,217.99 152.17,218 152.07,218.01 151.87,218.02 151.57,218.03 151.27,218.04 150.97,218.05 150.68,218.05 150.38,218.06 150.08,218.07 149.78,218.08 149.48,218.08 149.19,218.09 148.89,218.09 148.59,218.1 148.29,218.1 148.09,218.11 147.99,218.11 147.7,218.11 147.4,218.12 147.1,218.12 146.8,218.13 146.5,218.13 146.21,218.14 146.11,218.14 145.91,218.14 145.61,218.14 145.31,218.15 145.01,218.15 144.72,218.15 144.42,218.16 144.12,218.16 142.13,218.19 140.15,218.21 138.16,218.23 136.17,218.25 134.19,218.28 132.2,218.3 130.21,218.32 128.23,218.35 126.24,218.37 124.25,218.39 122.27,218.41 120.28,218.44 118.29,218.46 116.31,218.48 114.32,218.5 112.33,218.53 110.35,218.55 108.36,218.57 106.37,218.59 104.39,218.62 102.4,218.64 100.41,218.66 98.43,218.69 96.44,218.71 94.45,218.73 92.47,218.75 90.48,218.78 88.49,218.8 86.51,218.82 84.52,218.84 82.53,218.87 80.55,218.89 78.56,218.91 76.57,218.93 74.59,218.96 72.6,218.98 70.61,219 68.63,219.03 66.64,219.05 64.65,219.07 62.67,219.09 60.68,219.12 58.69,219.14 56.71,219.16 54.72,219.18 54.42,219.19 54.12,219.19 53.83,219.19 53.53,219.2 53.23,219.2 52.93,219.2 52.73,219.21 52.63,219.21 52.34,219.21 52.04,219.21 51.74,219.22 51.44,219.22 51.14,219.22 50.85,219.23 50.75,219.23 50.55,219.23 50.25,219.23 49.95,219.24 49.65,219.24 49.36,219.25 49.06,219.25 48.76,219.25 48.46,219.26 48.16,219.26 47.87,219.26 47.57,219.27 47.27,219.27 46.97,219.27 46.77,219.27 46.67,219.28 46.38,219.28 46.08,219.28 45.78,219.29 45.48,219.29 45.18,219.29 44.89,219.3 44.79,219.3 44.59,219.3 44.29,219.3 43.99,219.31 43.69,219.31 43.4,219.31 43.1,219.32 42.8,219.32" fill="none" stroke="#ff9422" stroke-width="1.1" stroke-linejoin="round" stroke-linecap="round"/>
<polyline points="42.8,222.55 43.1,221.57 43.4,220.7 43.69,219.92 43.99,219.23 44.29,218.61 44.59,218.05 44.79,217.72 44.89,217.56 45.18,217.12 45.48,216.72 45.78,216.37 46.08,216.05 46.38,215.77 46.67,215.52 46.77,215.44 46.97,215.3 47.27,215.1 47.57,214.92 47.87,214.76 48.16,214.61 48.46,214.48 48.76,214.37 49.06,214.26 49.36,214.17 49.65,214.09 49.95,214.01 50.25,213.95 50.55,213.89 50.75,213.85 50.85,213.83 51.14,213.78 51.44,213.74 51.74,213.7 52.04,213.66 52.34,213.63 52.63,213.6 52.73,213.59 52.93,213.57 53.23,213.55 53.53,213.53 53.83,213.51 54.12,213.49 54.42,213.47 54.72,213.46 56.71,213.38 58.69,213.32 60.68,213.28 62.67,213.25 64.65,213.22 66.64,213.19 68.63,213.16 70.61,213.13 72.6,213.1 74.59,213.07 76.57,213.04 78.56,213.01 80.55,212.98 82.53,212.95 84.52,212.92 86.51,212.89 88.49,212.86 90.48,212.83 92.47,212.8 94.45,212.77 96.44,212.74 98.43,212.71 100.41,212.69 102.4,212.66 104.39,212.63 106.37,212.6 108.36,212.57 110.35,212.54 112.33,212.51 114.32,212.48 116.31,212.45 118.29,212.42 120.28,212.39 122.27,212.36 124.25,212.33 126.24,212.3 128.23,212.27 130.21,212.24 132.2,212.21 134.19,212.18 136.17,212.15 138.16,212.13 140.15,212.1 142.13,212.07 144.12,212.03 144.42,212.03 144.72,212.02 145.01,212.02 145.31,212.01 145.61,212.01 145.91,212 146.11,212 146.21,212 146.5,211.99 146.8,211.99 147.1,211.98 147.4,211.98 147.7,211.97 147.99,211.96 148.09,211.96 148.29,211.96 148.59,211.95 148.89,211.95 149.19,211.94 149.48,211.93 149.78,211.92 150.08,211.92 150.38,211.91 150.68,211.9 150.97,211.89 151.27,211.88 151.57,211.87 151.87,211.86 152.07,211.85 152.17,211.84 152.46,211.83 152.76,211.82 153.06,211.8 153.36,211.78 153.66,211.76 153.95,211.74 154.05,211.74 154.25,211.72 154.55,211.7 154.85,211.67 155.15,211.64 155.44,211.61 155.74,211.57 156.04,211.53 156.34,211.49 156.64,211.44 156.93,211.38 157.23,211.32 157.53,211.25 157.83,211.18 158.03,211.12 158.13,211.09 158.42,211 158.72,210.9 159.02,210.78 159.32,210.65 159.62,210.51 159.91,210.34 160.01,210.29 160.21,210.16 160.51,209.96 160.81,209.73 161.11,209.48 161.4,209.2 161.7,208.88 162,208.53 161.7,209.84 161.4,211 161.11,212.01 160.81,212.9 160.51,213.67 160.21,214.35 160.01,214.76 159.91,214.95 159.62,215.47 159.32,215.93 159.02,216.34 158.72,216.69 158.42,217 158.13,217.28 158.03,217.36 157.83,217.52 157.53,217.73 157.23,217.91 156.93,218.08 156.64,218.22 156.34,218.35 156.04,218.46 155.74,218.56 155.44,218.65 155.15,218.73 154.85,218.8 154.55,218.86 154.25,218.92 154.05,218.95 153.95,218.97 153.66,219.01 153.36,219.05 153.06,219.09 152.76,219.12 152.46,219.15 152.17,219.18 152.07,219.19 151.87,219.2 151.57,219.22 151.27,219.25 150.97,219.27 150.68,219.28 150.38,219.3 150.08,219.32 149.78,219.33 149.48,219.35 149.19,219.36 148.89,219.37 148.59,219.39 148.29,219.4 148.09,219.41 147.99,219.41 147.7,219.42 147.4,219.43 147.1,219.44 146.8,219.45 146.5,219.46 146.21,219.47 146.11,219.48 145.91,219.48 145.61,219.49 145.31,219.5 145.01,219.51 144.72,219.52 144.42,219.53 144.12,219.54 142.13,219.6 140.15,219.66 138.16,219.72 136.17,219.78 134.19,219.84 132.2,219.9 130.21,219.96 128.23,220.02 126.24,220.07 124.25,220.13 122.27,220.19 120.28,220.25 118.29,220.31 116.31,220.37 114.32,220.43 112.33,220.49 110.35,220.55 108.36,220.61 106.37,220.66 104.39,220.72 102.4,220.78 100.41,220.84 98.43,220.9 96.44,220.96 94.45,221.02 92.47,221.08 90.48,221.14 88.49,221.19 86.51,221.25 84.52,221.31 82.53,221.37 80.55,221.43 78.56,221.49 76.57,221.55 74.59,221.61 72.6,221.67 70.61,221.72 68.63,221.78 66.64,221.84 64.65,221.9 62.67,221.96 60.68,222.02 58.69,222.08 56.71,222.14 54.72,222.2 54.42,222.21 54.12,222.21 53.83,222.22 53.53,222.23 53.23,222.24 52.93,222.25 52.73,222.26 52.63,222.26 52.34,222.27 52.04,222.28 51.74,222.28 51.44,222.29 51.14,222.3 50.85,222.31 50.75,222.31 50.55,222.32 50.25,222.33 49.95,222.34 49.65,222.35 49.36,222.36 49.06,222.36 48.76,222.37 48.46,222.38 48.16,222.39 47.87,222.4 47.57,222.41 47.27,222.42 46.97,222.43 46.77,222.43 46.67,222.44 46.38,222.44 46.08,222.45 45.78,222.46 45.48,222.47 45.18,222.48 44.89,222.49 44.79,222.49 44.59,222.5 44.29,222.51 43.99,222.51 43.69,222.52 43.4,222.53 43.1,222.54 42.8,222.55" fill="none" stroke="#2424ff" stroke-width="1.1" stroke-linejoin="round" stroke-linecap="round"/>
<polyline points="42.8,225.1 43.1,223.88 43.4,222.78 43.69,221.78 43.99,220.87 44.29,220.06 44.59,219.31 44.79,218.86 44.89,218.64 45.18,218.04 45.48,217.48 45.78,216.99 46.08,216.53 46.38,216.12 46.67,215.75 46.77,215.64 46.97,215.42 47.27,215.11 47.57,214.84 47.87,214.59 48.16,214.36 48.46,214.15 48.76,213.97 49.06,213.8 49.36,213.64 49.65,213.5 49.95,213.38 50.25,213.26 50.55,213.16 50.75,213.09 50.85,213.06 51.14,212.97 51.44,212.89 51.74,212.82 52.04,212.76 52.34,212.7 52.63,212.64 52.73,212.62 52.93,212.59 53.23,212.54 53.53,212.5 53.83,212.46 54.12,212.43 54.42,212.4 54.72,212.37 56.71,212.22 58.69,212.12 60.68,212.06 62.67,212 64.65,211.96 66.64,211.92 68.63,211.88 70.61,211.84 72.6,211.81 74.59,211.77 76.57,211.73 78.56,211.7 80.55,211.66 82.53,211.62 84.52,211.59 86.51,211.55 88.49,211.52 90.48,211.48 92.47,211.44 94.45,211.41 96.44,211.37 98.43,211.33 100.41,211.3 102.4,211.26 104.39,211.23 106.37,211.19 108.36,211.15 110.35,211.12 112.33,211.08 114.32,211.04 116.31,211.01 118.29,210.97 120.28,210.94 122.27,210.9 124.25,210.86 126.24,210.83 128.23,210.79 130.21,210.75 132.2,210.72 134.19,210.68 136.17,210.65 138.16,210.61 140.15,210.57 142.13,210.53 144.12,210.5 144.42,210.49 144.72,210.48 145.01,210.48 145.31,210.47 145.61,210.46 145.91,210.46 146.11,210.45 146.21,210.45 146.5,210.44 146.8,210.44 147.1,210.43 147.4,210.42 147.7,210.42 147.99,210.41 148.09,210.41 148.29,210.4 148.59,210.39 148.89,210.38 149.19,210.37 149.48,210.36 149.78,210.35 150.08,210.34 150.38,210.33 150.68,210.32 150.97,210.31 151.27,210.29 151.57,210.28 151.87,210.26 152.07,210.25 152.17,210.25 152.46,210.23 152.76,210.21 153.06,210.19 153.36,210.16 153.66,210.14 153.95,210.11 154.05,210.1 154.25,210.08 154.55,210.04 154.85,210.01 155.15,209.97 155.44,209.92 155.74,209.87 156.04,209.81 156.34,209.75 156.64,209.68 156.93,209.6 157.23,209.52 157.53,209.42 157.83,209.32 158.03,209.24 158.13,209.2 158.42,209.07 158.72,208.92 159.02,208.75 159.32,208.57 159.62,208.36 159.91,208.13 160.01,208.05 160.21,207.88 160.51,207.59 160.81,207.27 161.11,206.91 161.4,206.51 161.7,206.05 162,205.55 161.7,207.32 161.4,208.88 161.11,210.24 160.81,211.44 160.51,212.48 160.21,213.4 160.01,213.95 159.91,214.21 159.62,214.91 159.32,215.53 159.02,216.08 158.72,216.55 158.42,216.97 158.13,217.34 158.03,217.46 157.83,217.67 157.53,217.95 157.23,218.21 156.93,218.43 156.64,218.62 156.34,218.8 156.04,218.95 155.74,219.09 155.44,219.21 155.15,219.32 154.85,219.41 154.55,219.5 154.25,219.57 154.05,219.62 153.95,219.64 153.66,219.7 153.36,219.76 153.06,219.81 152.76,219.86 152.46,219.9 152.17,219.94 152.07,219.95 151.87,219.97 151.57,220 151.27,220.03 150.97,220.06 150.68,220.09 150.38,220.11 150.08,220.14 149.78,220.16 149.48,220.18 149.19,220.2 148.89,220.22 148.59,220.24 148.29,220.25 148.09,220.27 147.99,220.27 147.7,220.29 147.4,220.31 147.1,220.32 146.8,220.34 146.5,220.35 146.21,220.37 146.11,220.37 145.91,220.38 145.61,220.4 145.31,220.41 145.01,220.43 144.72,220.44 144.42,220.46 144.12,220.47 142.13,220.56 140.15,220.66 138.16,220.75 136.17,220.84 134.19,220.93 132.2,221.02 130.21,221.11 128.23,221.2 126.24,221.29 124.25,221.38 122.27,221.47 120.28,221.56 118.29,221.65 116.31,221.75 114.32,221.84 112.33,221.93 110.35,222.02 108.36,222.11 106.37,222.2 104.39,222.29 102.4,222.38 100.41,222.47 98.43,222.56 96.44,222.65 94.45,222.74 92.47,222.83 90.48,222.92 88.49,223.01 86.51,223.11 84.52,223.2 82.53,223.29 80.55,223.38 78.56,223.47 76.57,223.56 74.59,223.65 72.6,223.74 70.61,223.83 68.63,223.92 66.64,224.01 64.65,224.1 62.67,224.19 60.68,224.28 58.69,224.37 56.71,224.47 54.72,224.56 54.42,224.57 54.12,224.58 53.83,224.6 53.53,224.61 53.23,224.62 52.93,224.64 52.73,224.65 52.63,224.65 52.34,224.66 52.04,224.68 51.74,224.69 51.44,224.71 51.14,224.72 50.85,224.73 50.75,224.74 50.55,224.75 50.25,224.76 49.95,224.77 49.65,224.79 49.36,224.8 49.06,224.81 48.76,224.83 48.46,224.84 48.16,224.86 47.87,224.87 47.57,224.88 47.27,224.9 46.97,224.91 46.77,224.92 46.67,224.92 46.38,224.94 46.08,224.95 45.78,224.96 45.48,224.98 45.18,224.99 44.89,225 44.79,225.01 44.59,225.02 44.29,225.03 43.99,225.05 43.69,225.06 43.4,225.07 43.1,225.09 42.8,225.1" fill="none" stroke="#ff2cff" stroke-width="1.1" stroke-linejoin="round" stroke-linecap="round"/>
<polyline points="42.8,227.65 43.1,226.35 43.4,225.15 43.69,224.04 43.99,223.02 44.29,222.07 44.59,221.2 44.79,220.65 44.89,220.39 45.18,219.65 45.48,218.96 45.78,218.32 46.08,217.73 46.38,217.19 46.67,216.69 46.77,216.53 46.97,216.23 47.27,215.8 47.57,215.4 47.87,215.04 48.16,214.7 48.46,214.38 48.76,214.1 49.06,213.83 49.36,213.58 49.65,213.35 49.95,213.14 50.25,212.94 50.55,212.76 50.75,212.65 50.85,212.6 51.14,212.44 51.44,212.3 51.74,212.16 52.04,212.04 52.34,211.93 52.63,211.82 52.73,211.79 52.93,211.72 53.23,211.63 53.53,211.54 53.83,211.47 54.12,211.39 54.42,211.32 54.72,211.26 56.71,210.94 58.69,210.73 60.68,210.59 62.67,210.49 64.65,210.42 66.64,210.36 68.63,210.31 70.61,210.26 72.6,210.21 74.59,210.17 76.57,210.13 78.56,210.09 80.55,210.05 82.53,210 84.52,209.96 86.51,209.92 88.49,209.88 90.48,209.84 92.47,209.8 94.45,209.76 96.44,209.72 98.43,209.68 100.41,209.64 102.4,209.6 104.39,209.56 106.37,209.51 108.36,209.47 110.35,209.43 112.33,209.39 114.32,209.35 116.31,209.31 118.29,209.27 120.28,209.23 122.27,209.19 124.25,209.15 126.24,209.11 128.23,209.07 130.21,209.02 132.2,208.98 134.19,208.94 136.17,208.9 138.16,208.86 140.15,208.82 142.13,208.77 144.12,208.72 144.42,208.72 144.72,208.71 145.01,208.7 145.31,208.69 145.61,208.68 145.91,208.68 146.11,208.67 146.21,208.67 146.5,208.66 146.8,208.65 147.1,208.64 147.4,208.63 147.7,208.62 147.99,208.61 148.09,208.6 148.29,208.6 148.59,208.58 148.89,208.57 149.19,208.56 149.48,208.54 149.78,208.53 150.08,208.51 150.38,208.49 150.68,208.47 150.97,208.46 151.27,208.43 151.57,208.41 151.87,208.39 152.07,208.37 152.17,208.36 152.46,208.33 152.76,208.3 153.06,208.27 153.36,208.23 153.66,208.19 153.95,208.15 154.05,208.13 154.25,208.1 154.55,208.05 154.85,207.99 155.15,207.93 155.44,207.86 155.74,207.79 156.04,207.71 156.34,207.62 156.64,207.52 156.93,207.42 157.23,207.3 157.53,207.17 157.83,207.03 158.03,206.93 158.13,206.87 158.42,206.7 158.72,206.51 159.02,206.3 159.32,206.07 159.62,205.82 159.91,205.54 160.01,205.44 160.21,205.23 160.51,204.89 160.81,204.51 161.11,204.1 161.4,203.64 161.7,203.13 162,202.58 161.7,204.77 161.4,206.7 161.11,208.39 160.81,209.87 160.51,211.17 160.21,212.3 160.01,212.98 159.91,213.3 159.62,214.18 159.32,214.95 159.02,215.62 158.72,216.22 158.42,216.74 158.13,217.2 158.03,217.34 157.83,217.6 157.53,217.96 157.23,218.27 156.93,218.55 156.64,218.79 156.34,219.01 156.04,219.2 155.74,219.37 155.44,219.52 155.15,219.66 154.85,219.78 154.55,219.89 154.25,219.98 154.05,220.04 153.95,220.07 153.66,220.15 153.36,220.22 153.06,220.29 152.76,220.34 152.46,220.4 152.17,220.45 152.07,220.46 151.87,220.49 151.57,220.54 151.27,220.58 150.97,220.61 150.68,220.65 150.38,220.68 150.08,220.71 149.78,220.74 149.48,220.77 149.19,220.8 148.89,220.82 148.59,220.85 148.29,220.87 148.09,220.89 147.99,220.9 147.7,220.92 147.4,220.94 147.1,220.96 146.8,220.99 146.5,221.01 146.21,221.03 146.11,221.04 145.91,221.05 145.61,221.07 145.31,221.09 145.01,221.11 144.72,221.13 144.42,221.15 144.12,221.17 142.13,221.3 140.15,221.43 138.16,221.56 136.17,221.68 134.19,221.81 132.2,221.94 130.21,222.06 128.23,222.19 126.24,222.32 124.25,222.45 122.27,222.57 120.28,222.7 118.29,222.83 116.31,222.95 114.32,223.08 112.33,223.21 110.35,223.33 108.36,223.46 106.37,223.59 104.39,223.72 102.4,223.84 100.41,223.97 98.43,224.1 96.44,224.22 94.45,224.35 92.47,224.48 90.48,224.6 88.49,224.73 86.51,224.86 84.52,224.98 82.53,225.11 80.55,225.24 78.56,225.37 76.57,225.49 74.59,225.62 72.6,225.75 70.61,225.87 68.63,226 66.64,226.13 64.65,226.25 62.67,226.38 60.68,226.51 58.69,226.63 56.71,226.76 54.72,226.89 54.42,226.91 54.12,226.93 53.83,226.95 53.53,226.96 53.23,226.98 52.93,227 52.73,227.02 52.63,227.02 52.34,227.04 52.04,227.06 51.74,227.08 51.44,227.1 51.14,227.12 50.85,227.14 50.75,227.14 50.55,227.15 50.25,227.17 49.95,227.19 49.65,227.21 49.36,227.23 49.06,227.25 48.76,227.27 48.46,227.29 48.16,227.31 47.87,227.33 47.57,227.35 47.27,227.36 46.97,227.38 46.77,227.4 46.67,227.4 46.38,227.42 46.08,227.44 45.78,227.46 45.48,227.48 45.18,227.5 44.89,227.52 44.79,227.52 44.59,227.54 44.29,227.55 43.99,227.57 43.69,227.59 43.4,227.61 43.1,227.63 42.8,227.65" fill="none" stroke="#18a838" stroke-width="1.1" stroke-linejoin="round" stroke-linecap="round"/>
<polyline points="42.8,229.52 43.1,228.26 43.4,227.09 43.69,225.98 43.99,224.95 44.29,223.99 44.59,223.09 44.79,222.52 44.89,222.24 45.18,221.45 45.48,220.71 45.78,220.02 46.08,219.37 46.38,218.76 46.67,218.19 46.77,218.01 46.97,217.66 47.27,217.16 47.57,216.69 47.87,216.25 48.16,215.84 48.46,215.46 48.76,215.1 49.06,214.76 49.36,214.45 49.65,214.15 49.95,213.87 50.25,213.61 50.55,213.37 50.75,213.22 50.85,213.14 51.14,212.93 51.44,212.73 51.74,212.54 52.04,212.36 52.34,212.2 52.63,212.04 52.73,211.99 52.93,211.89 53.23,211.76 53.53,211.63 53.83,211.51 54.12,211.39 54.42,211.29 54.72,211.19 56.71,210.65 58.69,210.29 60.68,210.05 62.67,209.87 64.65,209.74 66.64,209.64 68.63,209.55 70.61,209.48 72.6,209.42 74.59,209.36 76.57,209.3 78.56,209.25 80.55,209.2 82.53,209.15 84.52,209.09 86.51,209.04 88.49,208.99 90.48,208.94 92.47,208.89 94.45,208.84 96.44,208.79 98.43,208.74 100.41,208.69 102.4,208.64 104.39,208.59 106.37,208.54 108.36,208.49 110.35,208.44 112.33,208.39 114.32,208.34 116.31,208.29 118.29,208.25 120.28,208.2 122.27,208.15 124.25,208.1 126.24,208.05 128.23,208 130.21,207.95 132.2,207.9 134.19,207.85 136.17,207.8 138.16,207.74 140.15,207.69 142.13,207.64 144.12,207.58 144.42,207.57 144.72,207.56 145.01,207.55 145.31,207.54 145.61,207.53 145.91,207.52 146.11,207.51 146.21,207.51 146.5,207.5 146.8,207.49 147.1,207.47 147.4,207.46 147.7,207.45 147.99,207.43 148.09,207.43 148.29,207.42 148.59,207.41 148.89,207.39 149.19,207.37 149.48,207.36 149.78,207.34 150.08,207.32 150.38,207.3 150.68,207.27 150.97,207.25 151.27,207.22 151.57,207.19 151.87,207.16 152.07,207.14 152.17,207.13 152.46,207.1 152.76,207.06 153.06,207.02 153.36,206.97 153.66,206.92 153.95,206.87 154.05,206.85 154.25,206.81 154.55,206.75 154.85,206.68 155.15,206.61 155.44,206.52 155.74,206.43 156.04,206.33 156.34,206.22 156.64,206.11 156.93,205.97 157.23,205.83 157.53,205.67 157.83,205.5 158.03,205.37 158.13,205.3 158.42,205.09 158.72,204.86 159.02,204.6 159.32,204.32 159.62,204.01 159.91,203.66 160.01,203.54 160.21,203.28 160.51,202.87 160.81,202.4 161.11,201.89 161.4,201.33 161.7,200.71 162,200.03 161.7,202.58 161.4,204.81 161.11,206.77 160.81,208.49 160.51,209.99 160.21,211.31 160.01,212.1 159.91,212.47 159.62,213.49 159.32,214.38 159.02,215.17 158.72,215.86 158.42,216.46 158.13,217 158.03,217.16 157.83,217.46 157.53,217.88 157.23,218.24 156.93,218.57 156.64,218.85 156.34,219.1 156.04,219.33 155.74,219.53 155.44,219.7 155.15,219.86 154.85,220 154.55,220.13 154.25,220.24 154.05,220.31 153.95,220.34 153.66,220.44 153.36,220.52 153.06,220.59 152.76,220.66 152.46,220.73 152.17,220.79 152.07,220.8 151.87,220.84 151.57,220.89 151.27,220.94 150.97,220.98 150.68,221.02 150.38,221.06 150.08,221.1 149.78,221.13 149.48,221.17 149.19,221.2 148.89,221.23 148.59,221.26 148.29,221.29 148.09,221.31 147.99,221.32 147.7,221.35 147.4,221.38 147.1,221.4 146.8,221.43 146.5,221.45 146.21,221.48 146.11,221.49 145.91,221.51 145.61,221.53 145.31,221.56 145.01,221.58 144.72,221.6 144.42,221.63 144.12,221.65 142.13,221.81 140.15,221.97 138.16,222.12 136.17,222.28 134.19,222.43 132.2,222.58 130.21,222.74 128.23,222.89 126.24,223.05 124.25,223.2 122.27,223.35 120.28,223.51 118.29,223.66 116.31,223.82 114.32,223.97 112.33,224.13 110.35,224.28 108.36,224.43 106.37,224.59 104.39,224.74 102.4,224.9 100.41,225.05 98.43,225.2 96.44,225.36 94.45,225.51 92.47,225.67 90.48,225.82 88.49,225.97 86.51,226.13 84.52,226.28 82.53,226.44 80.55,226.59 78.56,226.75 76.57,226.9 74.59,227.05 72.6,227.21 70.61,227.36 68.63,227.52 66.64,227.67 64.65,227.82 62.67,227.98 60.68,228.13 58.69,228.29 56.71,228.44 54.72,228.6 54.42,228.62 54.12,228.64 53.83,228.66 53.53,228.69 53.23,228.71 52.93,228.73 52.73,228.75 52.63,228.76 52.34,228.78 52.04,228.8 51.74,228.83 51.44,228.85 51.14,228.87 50.85,228.9 50.75,228.9 50.55,228.92 50.25,228.94 49.95,228.97 49.65,228.99 49.36,229.01 49.06,229.03 48.76,229.06 48.46,229.08 48.16,229.1 47.87,229.13 47.57,229.15 47.27,229.17 46.97,229.2 46.77,229.21 46.67,229.22 46.38,229.24 46.08,229.27 45.78,229.29 45.48,229.31 45.18,229.34 44.89,229.36 44.79,229.37 44.59,229.38 44.29,229.4 43.99,229.43 43.69,229.45 43.4,229.47 43.1,229.5 42.8,229.52" fill="none" stroke="#1c1cb0" stroke-width="1.1" stroke-linejoin="round" stroke-linecap="round"/>
<polyline points="42.8,239.04 42.88,238.48 42.99,237.71 43.12,236.8 43.26,235.8 43.42,234.75 43.58,233.72 43.75,232.75 43.92,231.9 44.06,231.18 44.18,230.53 44.3,229.94 44.43,229.37 44.59,228.78 44.8,228.15 45.09,227.44 45.48,226.63 45.97,225.68 46.55,224.61 47.21,223.46 47.92,222.26 48.67,221.07 49.44,219.91 50.22,218.83 50.99,217.88 51.76,217.03 52.52,216.26 53.29,215.54 54.09,214.88 54.91,214.25 55.79,213.64 56.71,213.04 57.7,212.44 58.72,211.84 59.75,211.26 60.82,210.71 61.94,210.17 63.13,209.64 64.42,209.12 65.83,208.61 67.38,208.1 69.11,207.59 71.01,207.08 73.04,206.58 75.16,206.09 77.33,205.61 79.52,205.15 81.68,204.7 83.78,204.28 85.82,203.87 87.86,203.48 89.89,203.1 91.92,202.74 93.96,202.4 96.02,202.07 98.08,201.76 100.16,201.47 102.26,201.2 104.36,200.96 106.47,200.74 108.59,200.54 110.73,200.35 112.89,200.16 115.08,199.97 117.3,199.77 119.59,199.57 121.97,199.38 124.4,199.19 126.85,199 129.26,198.81 131.6,198.62 133.84,198.43 135.93,198.24 137.9,198.04 139.8,197.84 141.63,197.64 143.38,197.44 145.03,197.24 146.58,197.04 148.02,196.83 149.33,196.62 150.5,196.43 151.5,196.26 152.37,196.1 153.15,195.93 153.87,195.75 154.57,195.53 155.28,195.26 156.04,194.92 156.86,194.49 157.72,193.96 158.59,193.36 159.44,192.74 160.23,192.13 160.95,191.57 161.55,191.1 162,190.76 162,190.76 161.83,192.07 161.62,193.9 161.36,196.09 161.07,198.47 160.76,200.9 160.43,203.2 160.1,205.23 159.76,206.82 159.42,208.01 159.05,208.94 158.67,209.67 158.28,210.25 157.88,210.71 157.5,211.12 157.13,211.5 156.78,211.92 156.51,212.33 156.3,212.64 156.12,212.9 155.95,213.11 155.74,213.32 155.46,213.52 155.07,213.76 154.55,214.05 153.87,214.39 153.05,214.77 152.14,215.16 151.15,215.56 150.12,215.97 149.08,216.37 148.07,216.75 147.1,217.11 146.22,217.43 145.41,217.72 144.63,217.99 143.84,218.26 142.99,218.53 142.04,218.82 140.94,219.13 139.65,219.49 138.12,219.9 136.38,220.36 134.48,220.85 132.48,221.36 130.45,221.87 128.44,222.36 126.52,222.82 124.75,223.23 123.14,223.59 121.63,223.91 120.19,224.21 118.79,224.48 117.39,224.75 115.95,225.02 114.44,225.31 112.83,225.61 111.17,225.93 109.51,226.25 107.82,226.58 106.08,226.91 104.25,227.25 102.3,227.59 100.21,227.96 97.93,228.33 95.4,228.72 92.63,229.13 89.67,229.54 86.62,229.97 83.53,230.41 80.49,230.85 77.56,231.29 74.83,231.73 72.26,232.17 69.74,232.63 67.29,233.08 64.92,233.54 62.62,234 60.39,234.47 58.26,234.93 56.21,235.38 54.19,235.87 52.18,236.38 50.21,236.92 48.34,237.44 46.62,237.94 45.09,238.38 43.8,238.76 42.8,239.04" fill="none" stroke="#a81c1c" stroke-width="1.1" stroke-linejoin="round" stroke-linecap="round"/>
<polyline points="42.8,257.4 42.95,256.71 43.11,255.82 43.31,254.77 43.54,253.59 43.83,252.29 44.16,250.92 44.56,249.49 45.03,248.05 45.61,246.51 46.28,244.83 47.03,243.04 47.83,241.2 48.65,239.35 49.47,237.55 50.26,235.84 50.99,234.28 51.68,232.85 52.34,231.49 52.99,230.2 53.63,228.97 54.26,227.78 54.9,226.64 55.55,225.52 56.21,224.42 56.85,223.38 57.46,222.43 58.05,221.53 58.65,220.66 59.3,219.78 60.03,218.86 60.85,217.87 61.8,216.77 62.88,215.56 64.05,214.28 65.32,212.93 66.66,211.53 68.07,210.11 69.54,208.69 71.05,207.27 72.6,205.89 74.23,204.49 75.97,203.03 77.79,201.54 79.65,200.07 81.52,198.64 83.35,197.3 85.11,196.08 86.75,195.01 88.29,194.11 89.76,193.33 91.16,192.67 92.53,192.1 93.87,191.59 95.21,191.13 96.55,190.69 97.93,190.25 99.3,189.84 100.62,189.49 101.92,189.19 103.24,188.92 104.59,188.67 106,188.42 107.49,188.16 109.11,187.87 110.84,187.56 112.68,187.26 114.61,186.95 116.6,186.64 118.63,186.32 120.68,186 122.73,185.66 124.75,185.32 126.82,184.96 128.99,184.59 131.2,184.22 133.41,183.83 135.56,183.44 137.6,183.05 139.48,182.65 141.14,182.26 142.57,181.87 143.8,181.47 144.88,181.08 145.84,180.68 146.73,180.28 147.58,179.87 148.44,179.46 149.33,179.03 150.25,178.6 151.13,178.18 151.99,177.76 152.83,177.32 153.65,176.88 154.45,176.41 155.25,175.91 156.04,175.38 156.86,174.76 157.72,174.06 158.59,173.31 159.44,172.55 160.23,171.82 160.95,171.16 161.55,170.6 162,170.19 162,170.19 161.89,171.49 161.75,173.23 161.58,175.31 161.39,177.61 161.19,180.03 160.97,182.44 160.74,184.76 160.51,186.85 160.27,188.79 160.02,190.71 159.76,192.59 159.49,194.45 159.2,196.26 158.9,198.02 158.6,199.73 158.28,201.38 157.96,202.99 157.65,204.56 157.34,206.09 157.02,207.57 156.66,208.98 156.27,210.33 155.82,211.6 155.3,212.78 154.71,213.84 154.07,214.8 153.38,215.67 152.64,216.47 151.86,217.23 151.05,217.97 150.21,218.72 149.33,219.49 148.43,220.29 147.5,221.09 146.52,221.88 145.52,222.66 144.48,223.42 143.4,224.16 142.29,224.86 141.14,225.53 139.99,226.14 138.86,226.69 137.72,227.21 136.53,227.71 135.27,228.2 133.89,228.69 132.39,229.22 130.71,229.78 128.81,230.38 126.69,231.02 124.42,231.68 122.05,232.35 119.64,233.02 117.27,233.67 114.97,234.29 112.83,234.88 110.88,235.39 109.09,235.85 107.38,236.27 105.71,236.68 103.99,237.1 102.16,237.56 100.16,238.09 97.93,238.7 95.4,239.41 92.63,240.2 89.67,241.05 86.62,241.94 83.53,242.84 80.49,243.75 77.56,244.65 74.83,245.5 72.26,246.33 69.74,247.16 67.29,247.99 64.92,248.81 62.62,249.63 60.39,250.42 58.26,251.2 56.21,251.96 54.19,252.73 52.18,253.52 50.21,254.31 48.34,255.08 46.62,255.8 45.09,256.45 43.8,256.99 42.8,257.4" fill="none" stroke="#ff2020" stroke-width="1.1" stroke-linejoin="round" stroke-linecap="round"/>
<rect x="27.4" y="157.2" width="149.6" height="110.8" fill="none" stroke="#262626" stroke-width="1.25"/>
<line x1="25.4" y1="267.6" x2="27.4" y2="267.6" stroke="#262626" stroke-width="0.9"/>
<text x="24.6" y="270.6" font-size="8.3" text-anchor="end" fill="#111" font-weight="bold" font-family='"Liberation Serif", serif' stroke="#111" stroke-width="0.2">−60</text>
<line x1="25.4" y1="250.6" x2="27.4" y2="250.6" stroke="#262626" stroke-width="0.9"/>
<text x="24.6" y="253.6" font-size="8.3" text-anchor="end" fill="#111" font-weight="bold" font-family='"Liberation Serif", serif' stroke="#111" stroke-width="0.2">−40</text>
<line x1="25.4" y1="233.6" x2="27.4" y2="233.6" stroke="#262626" stroke-width="0.9"/>
<text x="24.6" y="236.6" font-size="8.3" text-anchor="end" fill="#111" font-weight="bold" font-family='"Liberation Serif", serif' stroke="#111" stroke-width="0.2">−20</text>
<line x1="25.4" y1="216.6" x2="27.4" y2="216.6" stroke="#262626" stroke-width="0.9"/>
<text x="24.6" y="219.6" font-size="8.3" text-anchor="end" fill="#111" font-weight="bold" font-family='"Liberation Serif", serif' stroke="#111" stroke-width="0.2">0</text>
<line x1="25.4" y1="199.6" x2="27.4" y2="199.6" stroke="#262626" stroke-width="0.9"/>
<text x="24.6" y="202.6" font-size="8.3" text-anchor="end" fill="#111" font-weight="bold" font-family='"Liberation Serif", serif' stroke="#111" stroke-width="0.2">20</text>
<line x1="25.4" y1="182.6" x2="27.4" y2="182.6" stroke="#262626" stroke-width="0.9"/>
<text x="24.6" y="185.6" font-size="8.3" text-anchor="end" fill="#111" font-weight="bold" font-family='"Liberation Serif", serif' stroke="#111" stroke-width="0.2">40</text>
<line x1="25.4" y1="165.6" x2="27.4" y2="165.6" stroke="#262626" stroke-width="0.9"/>
<text x="24.6" y="168.6" font-size="8.3" text-anchor="end" fill="#111" font-weight="bold" font-family='"Liberation Serif", serif' stroke="#111" stroke-width="0.2">60</text>
<line x1="25.9" y1="259.1" x2="27.4" y2="259.1" stroke="#262626" stroke-width="0.8"/>
<line x1="25.9" y1="242.1" x2="27.4" y2="242.1" stroke="#262626" stroke-width="0.8"/>
<line x1="25.9" y1="225.1" x2="27.4" y2="225.1" stroke="#262626" stroke-width="0.8"/>
<line x1="25.9" y1="208.1" x2="27.4" y2="208.1" stroke="#262626" stroke-width="0.8"/>
<line x1="25.9" y1="191.1" x2="27.4" y2="191.1" stroke="#262626" stroke-width="0.8"/>
<line x1="25.9" y1="174.1" x2="27.4" y2="174.1" stroke="#262626" stroke-width="0.8"/>
<line x1="42.8" y1="268" x2="42.8" y2="270" stroke="#262626" stroke-width="0.9"/>
<text x="42.8" y="278.6" font-size="8.3" text-anchor="middle" fill="#111" font-weight="bold" font-family='"Liberation Serif", serif' stroke="#111" stroke-width="0.2">0.0</text>
<line x1="72.6" y1="268" x2="72.6" y2="270" stroke="#262626" stroke-width="0.9"/>
<text x="72.6" y="278.6" font-size="8.3" text-anchor="middle" fill="#111" font-weight="bold" font-family='"Liberation Serif", serif' stroke="#111" stroke-width="0.2">0.4</text>
<line x1="102.4" y1="268" x2="102.4" y2="270" stroke="#262626" stroke-width="0.9"/>
<text x="102.4" y="278.6" font-size="8.3" text-anchor="middle" fill="#111" font-weight="bold" font-family='"Liberation Serif", serif' stroke="#111" stroke-width="0.2">0.8</text>
<line x1="132.2" y1="268" x2="132.2" y2="270" stroke="#262626" stroke-width="0.9"/>
<text x="132.2" y="278.6" font-size="8.3" text-anchor="middle" fill="#111" font-weight="bold" font-family='"Liberation Serif", serif' stroke="#111" stroke-width="0.2">1.2</text>
<line x1="162" y1="268" x2="162" y2="270" stroke="#262626" stroke-width="0.9"/>
<text x="162" y="278.6" font-size="8.3" text-anchor="middle" fill="#111" font-weight="bold" font-family='"Liberation Serif", serif' stroke="#111" stroke-width="0.2">1.6</text>
<line x1="27.9" y1="268" x2="27.9" y2="269.5" stroke="#262626" stroke-width="0.8"/>
<line x1="57.7" y1="268" x2="57.7" y2="269.5" stroke="#262626" stroke-width="0.8"/>
<line x1="87.5" y1="268" x2="87.5" y2="269.5" stroke="#262626" stroke-width="0.8"/>
<line x1="117.3" y1="268" x2="117.3" y2="269.5" stroke="#262626" stroke-width="0.8"/>
<line x1="147.1" y1="268" x2="147.1" y2="269.5" stroke="#262626" stroke-width="0.8"/>
<line x1="176.9" y1="268" x2="176.9" y2="269.5" stroke="#262626" stroke-width="0.8"/>
<text x="98.2" y="288.8" font-size="8.6" text-anchor="middle" fill="#111" font-weight="bold" font-family='"Liberation Serif", serif' stroke="#111" stroke-width="0.2">Potential (V)</text>
<text x="10.8" y="211.6" font-size="8.9" text-anchor="middle" fill="#111" font-weight="bold" font-family='"Liberation Serif", serif' transform="rotate(-90 10.8 211.6)" stroke="#111" stroke-width="0.2">Current (mA)</text>
<line x1="30" y1="162" x2="42.4" y2="162" stroke="#222222" stroke-width="1.4"/>
<text x="46" y="164.2" font-size="6.4" text-anchor="start" fill="#111" font-weight="bold" font-family='"Liberation Serif", serif' stroke="#111" stroke-width="0.12">5 &#160; mV s<tspan dy="-2" font-size="4.5">−1</tspan></text>
<line x1="30" y1="171.4" x2="42.4" y2="171.4" stroke="#ff9422" stroke-width="1.4"/>
<text x="46" y="173.6" font-size="6.4" text-anchor="start" fill="#111" font-weight="bold" font-family='"Liberation Serif", serif' stroke="#111" stroke-width="0.12">10 mV s<tspan dy="-2" font-size="4.5">−1</tspan></text>
<line x1="30" y1="180.8" x2="42.4" y2="180.8" stroke="#2424ff" stroke-width="1.4"/>
<text x="46" y="183" font-size="6.4" text-anchor="start" fill="#111" font-weight="bold" font-family='"Liberation Serif", serif' stroke="#111" stroke-width="0.12">30 mV s<tspan dy="-2" font-size="4.5">−1</tspan></text>
<line x1="30" y1="190.2" x2="42.4" y2="190.2" stroke="#ff2cff" stroke-width="1.4"/>
<text x="46" y="192.4" font-size="6.4" text-anchor="start" fill="#111" font-weight="bold" font-family='"Liberation Serif", serif' stroke="#111" stroke-width="0.12">50 mV s<tspan dy="-2" font-size="4.5">−1</tspan></text>
<line x1="129" y1="233.6" x2="140" y2="233.6" stroke="#18a838" stroke-width="1.4"/>
<text x="145" y="235.8" font-size="6" text-anchor="start" fill="#111" font-weight="bold" font-family='"Liberation Serif", serif' stroke="#111" stroke-width="0.12">80 &#160;mV s<tspan dy="-2" font-size="4.5">−1</tspan></text>
<line x1="129" y1="242.3" x2="140" y2="242.3" stroke="#1c1cb0" stroke-width="1.4"/>
<text x="145" y="244.5" font-size="6" text-anchor="start" fill="#111" font-weight="bold" font-family='"Liberation Serif", serif' stroke="#111" stroke-width="0.12">100 &#160;mV s<tspan dy="-2" font-size="4.5">−1</tspan></text>
<line x1="129" y1="251" x2="140" y2="251" stroke="#a81c1c" stroke-width="1.4"/>
<text x="145" y="253.2" font-size="6" text-anchor="start" fill="#111" font-weight="bold" font-family='"Liberation Serif", serif' stroke="#111" stroke-width="0.12">200 &#160;mV s<tspan dy="-2" font-size="4.5">−1</tspan></text>
<line x1="129" y1="259.7" x2="140" y2="259.7" stroke="#ff2020" stroke-width="1.4"/>
<text x="145" y="261.9" font-size="6" text-anchor="start" fill="#111" font-weight="bold" font-family='"Liberation Serif", serif' stroke="#111" stroke-width="0.12">1000 mV s<tspan dy="-2" font-size="4.5">−1</tspan></text>
<text x="181.5" y="157.6" font-size="18" text-anchor="start" fill="#000" font-weight="bold" font-family='"Liberation Sans", sans-serif'>e</text>
<polyline points="208.6,268.8 208.65,267.9 208.7,266.62 208.78,265.14 208.9,263.62 209.07,262.25 209.25,261.13 209.44,260.16 209.68,259.15 210.05,257.94 210.6,256.36 211.37,254.31 212.32,251.91 213.39,249.3 214.52,246.59 215.66,243.91 216.76,241.34 217.86,238.79 219.03,236.14 220.31,233.3 221.77,230.16 223.4,226.76 225.16,223.19 227.06,219.36 229.1,215.16 231.3,210.5 233.84,204.88 236.74,198.35 239.68,191.69 242.35,185.66 244.47,181.03 245.88,178.12 246.78,176.42 247.39,175.45 247.92,174.74 248.58,173.83 249.36,172.7 250.11,171.68 250.85,170.76 251.61,169.95 252.41,169.24 253.22,168.68 254.05,168.27 254.91,167.94 255.82,167.63 256.82,167.28 257.85,166.86 258.91,166.43 260.06,166 261.36,165.62 262.87,165.31 264.63,165.1 266.58,164.95 268.7,164.85 270.94,164.77 273.28,164.66 275.95,164.51 278.97,164.36 281.99,164.21 284.64,164.09 286.57,164 287.58,163.85 287.92,163.64 287.87,163.5 287.69,163.57 287.69,164 287.81,164.93 287.89,166.27 287.96,167.8 288.05,169.3 288.22,170.55 288.45,171.5 288.74,172.31 289.06,173.03 289.4,173.74 289.74,174.48 290.05,175.16 290.32,175.74 290.63,176.37 291.04,177.2 291.63,178.41 292.45,180.08 293.46,182.1 294.57,184.34 295.67,186.65 296.68,188.89 297.57,191.06 298.41,193.27 299.22,195.49 300.05,197.75 300.92,200.03 301.75,202.19 302.51,204.25 303.35,206.41 304.36,208.86 305.68,211.81 307.39,215.47 309.42,219.7 311.62,224.19 313.87,228.65 316.03,232.78 318.09,236.51 320.15,240.05 322.2,243.5 324.26,246.93 326.32,250.46 328.54,254.38 330.93,258.63 333.23,262.75 335.21,266.3 336.61,268.8" fill="none" stroke="#ff2020" stroke-width="1.1" stroke-linejoin="round" stroke-linecap="round"/>
<polyline points="208.6,268.8 208.62,267.91 208.64,266.65 208.68,265.18 208.74,263.66 208.84,262.25 208.91,261.24 208.95,260.54 209.04,259.69 209.29,258.23 209.78,255.7 210.53,251.88 211.48,247.07 212.6,241.61 213.85,235.86 215.19,230.16 216.72,224.18 218.48,217.71 220.29,211.21 222,205.16 223.42,200.03 224.49,196 225.33,192.76 226.03,190.03 226.69,187.52 227.42,184.96 228.2,182.31 228.98,179.76 229.76,177.35 230.53,175.14 231.3,173.17 232.06,171.46 232.82,169.98 233.57,168.71 234.32,167.59 235.06,166.62 235.84,165.73 236.67,164.94 237.46,164.34 238.16,164 238.71,164 239.03,164.41 239.18,165.19 239.25,166.22 239.32,167.39 239.47,168.59 239.69,169.76 239.91,171 240.17,172.36 240.5,173.93 240.94,175.79 241.44,177.81 241.99,179.95 242.64,182.38 243.45,185.3 244.47,188.89 245.77,193.31 247.33,198.42 249.02,204.01 250.75,209.86 252.41,215.75 254.02,221.9 255.65,228.46 257.27,235.1 258.85,241.45 260.34,247.19 261.84,252.48 263.35,257.58 264.76,262.18 265.96,266.02 266.81,268.8" fill="none" stroke="#ff9422" stroke-width="1.1" stroke-linejoin="round" stroke-linecap="round"/>
<polyline points="208.6,268.8 208.61,267.85 208.62,266.57 208.64,264.98 208.7,263.1 208.84,260.94 209.04,258.62 209.29,256.12 209.59,253.28 209.95,249.93 210.36,245.88 210.87,240.85 211.47,234.97 212.1,228.65 212.73,222.32 213.3,216.4 213.82,210.95 214.31,205.68 214.77,200.52 215.22,195.39 215.66,190.2 216.09,184.44 216.54,178.15 216.95,172.12 217.31,167.14 217.6,164 217.75,162.85 217.78,163.16 217.78,164.71 217.83,167.25 218.01,170.55 218.34,174.93 218.78,180.53 219.28,186.9 219.82,193.55 220.36,200.03 220.9,206.31 221.48,212.73 222.07,219.28 222.68,225.96 223.3,232.78 223.99,240.35 224.75,248.68 225.5,256.83 226.14,263.85 226.59,268.8" fill="none" stroke="#2424ff" stroke-width="1.1" stroke-linejoin="round" stroke-linecap="round"/>
<polyline points="208.6,268.8 208.61,267.9 208.62,266.72 208.64,265.22 208.69,263.31 208.78,260.94 208.91,258.12 209.08,254.89 209.28,251.24 209.51,247.15 209.78,242.6 210.08,237.42 210.43,231.61 210.8,225.45 211.17,219.2 211.54,213.12 211.91,207.07 212.29,200.86 212.66,194.73 213.01,188.92 213.3,183.65 213.54,178.65 213.74,173.76 213.91,169.41 214.05,166.01 214.19,164 214.28,163.49 214.33,164.19 214.37,165.93 214.44,168.55 214.6,171.86 214.85,176.07 215.16,181.29 215.52,187.22 215.89,193.56 216.24,200.03 216.59,206.78 216.96,214.03 217.32,221.5 217.67,228.93 218.01,236.05 218.34,243.33 218.69,250.96 219.01,258.22 219.28,264.4 219.48,268.8" fill="none" stroke="#ff2cff" stroke-width="1.1" stroke-linejoin="round" stroke-linecap="round"/>
<polyline points="208.6,268.8 208.62,266.34 208.64,262.98 208.67,258.9 208.72,254.23 208.78,249.15 208.85,243.73 208.95,237.87 209.06,231.45 209.18,224.33 209.31,216.4 209.46,206.4 209.64,194.42 209.83,182.33 210,172.01 210.13,165.31 210.21,162.65 210.26,162.79 210.29,165.11 210.32,168.99 210.36,173.83 210.43,180 210.5,187.93 210.57,197.03 210.64,206.71 210.72,216.4 210.79,227.09 210.87,239.17 210.95,251.14 211.02,261.52 211.07,268.8" fill="none" stroke="#333333" stroke-width="1.2" stroke-linejoin="round" stroke-linecap="round"/>
<rect x="207.4" y="157.4" width="149" height="111.8" fill="none" stroke="#262626" stroke-width="1.25"/>
<line x1="205.4" y1="268.8" x2="207.4" y2="268.8" stroke="#262626" stroke-width="0.9"/>
<text x="204.6" y="271.4" font-size="8.3" text-anchor="end" fill="#111" font-weight="bold" font-family='"Liberation Serif", serif' stroke="#111" stroke-width="0.2">0.0</text>
<line x1="205.4" y1="255.7" x2="207.4" y2="255.7" stroke="#262626" stroke-width="0.9"/>
<text x="204.6" y="258.3" font-size="8.3" text-anchor="end" fill="#111" font-weight="bold" font-family='"Liberation Serif", serif' stroke="#111" stroke-width="0.2">0.2</text>
<line x1="205.4" y1="242.6" x2="207.4" y2="242.6" stroke="#262626" stroke-width="0.9"/>
<text x="204.6" y="245.2" font-size="8.3" text-anchor="end" fill="#111" font-weight="bold" font-family='"Liberation Serif", serif' stroke="#111" stroke-width="0.2">0.4</text>
<line x1="205.4" y1="229.5" x2="207.4" y2="229.5" stroke="#262626" stroke-width="0.9"/>
<text x="204.6" y="232.1" font-size="8.3" text-anchor="end" fill="#111" font-weight="bold" font-family='"Liberation Serif", serif' stroke="#111" stroke-width="0.2">0.6</text>
<line x1="205.4" y1="216.4" x2="207.4" y2="216.4" stroke="#262626" stroke-width="0.9"/>
<text x="204.6" y="219" font-size="8.3" text-anchor="end" fill="#111" font-weight="bold" font-family='"Liberation Serif", serif' stroke="#111" stroke-width="0.2">0.8</text>
<line x1="205.4" y1="203.3" x2="207.4" y2="203.3" stroke="#262626" stroke-width="0.9"/>
<text x="204.6" y="205.9" font-size="8.3" text-anchor="end" fill="#111" font-weight="bold" font-family='"Liberation Serif", serif' stroke="#111" stroke-width="0.2">1.0</text>
<line x1="205.4" y1="190.2" x2="207.4" y2="190.2" stroke="#262626" stroke-width="0.9"/>
<text x="204.6" y="192.8" font-size="8.3" text-anchor="end" fill="#111" font-weight="bold" font-family='"Liberation Serif", serif' stroke="#111" stroke-width="0.2">1.2</text>
<line x1="205.4" y1="177.1" x2="207.4" y2="177.1" stroke="#262626" stroke-width="0.9"/>
<text x="204.6" y="179.7" font-size="8.3" text-anchor="end" fill="#111" font-weight="bold" font-family='"Liberation Serif", serif' stroke="#111" stroke-width="0.2">1.4</text>
<line x1="205.4" y1="164" x2="207.4" y2="164" stroke="#262626" stroke-width="0.9"/>
<text x="204.6" y="166.6" font-size="8.3" text-anchor="end" fill="#111" font-weight="bold" font-family='"Liberation Serif", serif' stroke="#111" stroke-width="0.2">1.6</text>
<line x1="205.9" y1="262.25" x2="207.4" y2="262.25" stroke="#262626" stroke-width="0.8"/>
<line x1="205.9" y1="249.15" x2="207.4" y2="249.15" stroke="#262626" stroke-width="0.8"/>
<line x1="205.9" y1="236.05" x2="207.4" y2="236.05" stroke="#262626" stroke-width="0.8"/>
<line x1="205.9" y1="222.95" x2="207.4" y2="222.95" stroke="#262626" stroke-width="0.8"/>
<line x1="205.9" y1="209.85" x2="207.4" y2="209.85" stroke="#262626" stroke-width="0.8"/>
<line x1="205.9" y1="196.75" x2="207.4" y2="196.75" stroke="#262626" stroke-width="0.8"/>
<line x1="205.9" y1="183.65" x2="207.4" y2="183.65" stroke="#262626" stroke-width="0.8"/>
<line x1="205.9" y1="170.55" x2="207.4" y2="170.55" stroke="#262626" stroke-width="0.8"/>
<line x1="208.6" y1="269.2" x2="208.6" y2="271.2" stroke="#262626" stroke-width="0.9"/>
<text x="208.6" y="280.2" font-size="8.3" text-anchor="middle" fill="#111" font-weight="bold" font-family='"Liberation Serif", serif' stroke="#111" stroke-width="0.2">0</text>
<line x1="238" y1="269.2" x2="238" y2="271.2" stroke="#262626" stroke-width="0.9"/>
<text x="238" y="280.2" font-size="8.3" text-anchor="middle" fill="#111" font-weight="bold" font-family='"Liberation Serif", serif' stroke="#111" stroke-width="0.2">50</text>
<line x1="267.4" y1="269.2" x2="267.4" y2="271.2" stroke="#262626" stroke-width="0.9"/>
<text x="267.4" y="280.2" font-size="8.3" text-anchor="middle" fill="#111" font-weight="bold" font-family='"Liberation Serif", serif' stroke="#111" stroke-width="0.2">100</text>
<line x1="296.8" y1="269.2" x2="296.8" y2="271.2" stroke="#262626" stroke-width="0.9"/>
<text x="296.8" y="280.2" font-size="8.3" text-anchor="middle" fill="#111" font-weight="bold" font-family='"Liberation Serif", serif' stroke="#111" stroke-width="0.2">150</text>
<line x1="326.2" y1="269.2" x2="326.2" y2="271.2" stroke="#262626" stroke-width="0.9"/>
<text x="326.2" y="280.2" font-size="8.3" text-anchor="middle" fill="#111" font-weight="bold" font-family='"Liberation Serif", serif' stroke="#111" stroke-width="0.2">200</text>
<line x1="355.6" y1="269.2" x2="355.6" y2="271.2" stroke="#262626" stroke-width="0.9"/>
<text x="355.6" y="280.2" font-size="8.3" text-anchor="middle" fill="#111" font-weight="bold" font-family='"Liberation Serif", serif' stroke="#111" stroke-width="0.2">250</text>
<line x1="223.3" y1="269.2" x2="223.3" y2="270.7" stroke="#262626" stroke-width="0.8"/>
<line x1="252.7" y1="269.2" x2="252.7" y2="270.7" stroke="#262626" stroke-width="0.8"/>
<line x1="282.1" y1="269.2" x2="282.1" y2="270.7" stroke="#262626" stroke-width="0.8"/>
<line x1="311.5" y1="269.2" x2="311.5" y2="270.7" stroke="#262626" stroke-width="0.8"/>
<line x1="340.9" y1="269.2" x2="340.9" y2="270.7" stroke="#262626" stroke-width="0.8"/>
<text x="284" y="288.3" font-size="8.6" text-anchor="middle" fill="#111" font-weight="bold" font-family='"Liberation Serif", serif' stroke="#111" stroke-width="0.2">Time (s)</text>
<text x="189" y="211.1" font-size="9.4" text-anchor="middle" fill="#111" font-weight="bold" font-family='"Liberation Serif", serif' transform="rotate(-90 189 211.1)" stroke="#111" stroke-width="0.2">Potential (V)</text>
<line x1="312.4" y1="167.6" x2="324.4" y2="167.6" stroke="#ff2020" stroke-width="1.3"/>
<text x="328" y="169.9" font-size="6.6" text-anchor="start" fill="#111" font-weight="bold" font-family='"Liberation Serif", serif' stroke="#111" stroke-width="0.2">2 A g<tspan dy="-2" font-size="4.5">−1</tspan></text>
<line x1="312.4" y1="177.2" x2="324.4" y2="177.2" stroke="#ff9422" stroke-width="1.3"/>
<text x="328" y="179.5" font-size="6.6" text-anchor="start" fill="#111" font-weight="bold" font-family='"Liberation Serif", serif' stroke="#111" stroke-width="0.2">3 A g<tspan dy="-2" font-size="4.5">−1</tspan></text>
<line x1="312.4" y1="186.8" x2="324.4" y2="186.8" stroke="#2424ff" stroke-width="1.3"/>
<text x="328" y="189.1" font-size="6.6" text-anchor="start" fill="#111" font-weight="bold" font-family='"Liberation Serif", serif' stroke="#111" stroke-width="0.2">8 A g<tspan dy="-2" font-size="4.5">−1</tspan></text>
<line x1="312.4" y1="196.4" x2="324.4" y2="196.4" stroke="#ff2cff" stroke-width="1.3"/>
<text x="328" y="198.7" font-size="6.6" text-anchor="start" fill="#111" font-weight="bold" font-family='"Liberation Serif", serif' stroke="#111" stroke-width="0.2">10A g<tspan dy="-2" font-size="4.5">−1</tspan></text>
<line x1="312.4" y1="206" x2="324.4" y2="206" stroke="#333333" stroke-width="1.3"/>
<text x="328" y="208.3" font-size="6.6" text-anchor="start" fill="#111" font-weight="bold" font-family='"Liberation Serif", serif' stroke="#111" stroke-width="0.2">20A g<tspan dy="-2" font-size="4.5">−1</tspan></text>
<text x="366" y="160.6" font-size="18" text-anchor="start" fill="#000" font-weight="bold" font-family='"Liberation Sans", sans-serif'>f</text>
<rect x="391.5" y="157.5" width="148.9" height="111.5" fill="none" stroke="#262626" stroke-width="1.25"/>
<line x1="389.5" y1="157.5" x2="391.5" y2="157.5" stroke="#262626" stroke-width="0.9"/>
<text x="389.2" y="160" font-size="7.3" text-anchor="end" fill="#111" font-weight="bold" font-family='"Liberation Serif", serif' stroke="#111" stroke-width="0.2">100</text>
<line x1="389.5" y1="216.5" x2="391.5" y2="216.5" stroke="#262626" stroke-width="0.9"/>
<text x="389.2" y="219" font-size="7.3" text-anchor="end" fill="#111" font-weight="bold" font-family='"Liberation Serif", serif' stroke="#111" stroke-width="0.2">10</text>
<line x1="389.5" y1="269" x2="391.5" y2="269" stroke="#262626" stroke-width="0.9"/>
<text x="389.2" y="271.5" font-size="7.3" text-anchor="end" fill="#111" font-weight="bold" font-family='"Liberation Serif", serif' stroke="#111" stroke-width="0.2">1</text>
<line x1="390" y1="253.2" x2="391.5" y2="253.2" stroke="#262626" stroke-width="0.8"/>
<line x1="390" y1="243.95" x2="391.5" y2="243.95" stroke="#262626" stroke-width="0.8"/>
<line x1="390" y1="237.39" x2="391.5" y2="237.39" stroke="#262626" stroke-width="0.8"/>
<line x1="390" y1="232.3" x2="391.5" y2="232.3" stroke="#262626" stroke-width="0.8"/>
<line x1="390" y1="228.15" x2="391.5" y2="228.15" stroke="#262626" stroke-width="0.8"/>
<line x1="390" y1="224.63" x2="391.5" y2="224.63" stroke="#262626" stroke-width="0.8"/>
<line x1="390" y1="221.59" x2="391.5" y2="221.59" stroke="#262626" stroke-width="0.8"/>
<line x1="390" y1="218.9" x2="391.5" y2="218.9" stroke="#262626" stroke-width="0.8"/>
<line x1="390" y1="198.74" x2="391.5" y2="198.74" stroke="#262626" stroke-width="0.8"/>
<line x1="390" y1="188.35" x2="391.5" y2="188.35" stroke="#262626" stroke-width="0.8"/>
<line x1="390" y1="180.98" x2="391.5" y2="180.98" stroke="#262626" stroke-width="0.8"/>
<line x1="390" y1="175.26" x2="391.5" y2="175.26" stroke="#262626" stroke-width="0.8"/>
<line x1="390" y1="170.59" x2="391.5" y2="170.59" stroke="#262626" stroke-width="0.8"/>
<line x1="390" y1="166.64" x2="391.5" y2="166.64" stroke="#262626" stroke-width="0.8"/>
<line x1="390" y1="163.22" x2="391.5" y2="163.22" stroke="#262626" stroke-width="0.8"/>
<line x1="390" y1="160.2" x2="391.5" y2="160.2" stroke="#262626" stroke-width="0.8"/>
<line x1="391.6" y1="269" x2="391.6" y2="271.5" stroke="#262626" stroke-width="0.9"/>
<text x="391.8" y="279.8" font-size="8.2" text-anchor="middle" fill="#111" font-weight="bold" font-family='"Liberation Serif", serif' stroke="#111" stroke-width="0.2">10<tspan dy="-3.2" font-size="5">2</tspan></text>
<line x1="455.8" y1="269" x2="455.8" y2="271.5" stroke="#262626" stroke-width="0.9"/>
<text x="456" y="279.8" font-size="8.2" text-anchor="middle" fill="#111" font-weight="bold" font-family='"Liberation Serif", serif' stroke="#111" stroke-width="0.2">10<tspan dy="-3.2" font-size="5">3</tspan></text>
<line x1="520" y1="269" x2="520" y2="271.5" stroke="#262626" stroke-width="0.9"/>
<text x="520.2" y="279.8" font-size="8.2" text-anchor="middle" fill="#111" font-weight="bold" font-family='"Liberation Serif", serif' stroke="#111" stroke-width="0.2">10<tspan dy="-3.2" font-size="5">4</tspan></text>
<line x1="410.93" y1="269" x2="410.93" y2="270.5" stroke="#262626" stroke-width="0.8"/>
<line x1="422.23" y1="269" x2="422.23" y2="270.5" stroke="#262626" stroke-width="0.8"/>
<line x1="430.25" y1="269" x2="430.25" y2="270.5" stroke="#262626" stroke-width="0.8"/>
<line x1="436.47" y1="269" x2="436.47" y2="270.5" stroke="#262626" stroke-width="0.8"/>
<line x1="441.56" y1="269" x2="441.56" y2="270.5" stroke="#262626" stroke-width="0.8"/>
<line x1="445.86" y1="269" x2="445.86" y2="270.5" stroke="#262626" stroke-width="0.8"/>
<line x1="449.58" y1="269" x2="449.58" y2="270.5" stroke="#262626" stroke-width="0.8"/>
<line x1="452.86" y1="269" x2="452.86" y2="270.5" stroke="#262626" stroke-width="0.8"/>
<line x1="475.13" y1="269" x2="475.13" y2="270.5" stroke="#262626" stroke-width="0.8"/>
<line x1="486.43" y1="269" x2="486.43" y2="270.5" stroke="#262626" stroke-width="0.8"/>
<line x1="494.45" y1="269" x2="494.45" y2="270.5" stroke="#262626" stroke-width="0.8"/>
<line x1="500.67" y1="269" x2="500.67" y2="270.5" stroke="#262626" stroke-width="0.8"/>
<line x1="505.76" y1="269" x2="505.76" y2="270.5" stroke="#262626" stroke-width="0.8"/>
<line x1="510.06" y1="269" x2="510.06" y2="270.5" stroke="#262626" stroke-width="0.8"/>
<line x1="513.78" y1="269" x2="513.78" y2="270.5" stroke="#262626" stroke-width="0.8"/>
<line x1="517.06" y1="269" x2="517.06" y2="270.5" stroke="#262626" stroke-width="0.8"/>
<line x1="539.33" y1="269" x2="539.33" y2="270.5" stroke="#262626" stroke-width="0.8"/>
<text x="470.9" y="287.4" font-size="7.7" text-anchor="middle" fill="#111" font-weight="bold" font-family='"Liberation Serif", serif' stroke="#111" stroke-width="0.2">Power density(W kg<tspan dy="-3" font-size="4.4">-1</tspan><tspan dy="3">)</tspan></text>
<text x="380.5" y="213" font-size="8" text-anchor="middle" fill="#111" font-weight="bold" font-family='"Liberation Serif", serif' transform="rotate(-90 380.5 213)" stroke="#111" stroke-width="0.2">Energy density(Wh kg<tspan dy="-3" font-size="5">−1</tspan><tspan dy="3">)</tspan></text>
<polyline points="469.4,182.4 480.6,187.4 508,193 514.4,199.6 534,220.6" fill="none" stroke="#ff2020" stroke-width="1.1" stroke-linejoin="round" stroke-linecap="round"/>
<circle cx="469.4" cy="182.4" r="1.9" fill="#ff2020"/>
<circle cx="480.6" cy="187.4" r="1.9" fill="#ff2020"/>
<circle cx="508" cy="193" r="1.9" fill="#ff2020"/>
<circle cx="514.4" cy="199.6" r="1.9" fill="#ff2020"/>
<circle cx="534" cy="220.6" r="1.9" fill="#ff2020"/>
<line x1="497.4" y1="164" x2="509" y2="164" stroke="#ff2020" stroke-width="1.1"/>
<circle cx="503" cy="164" r="1.7" fill="#ff2020"/>
<text x="512.4" y="166.3" font-size="5.6" text-anchor="start" fill="#ff1010" font-weight="bold" font-family='"Liberation Serif", serif' stroke="#ff1010" stroke-width="0.2">This work</text>
<polygon points="409.6,184.6 412,188.8 407.2,188.8" fill="#ff2cff"/>
<text x="412.1" y="194.6" font-size="5.8" text-anchor="start" fill="#1a1a1a" font-weight="bold" font-family='"Liberation Serif", serif' stroke="#1a1a1a" stroke-width="0.12">MnO<tspan dy="1">2</tspan><tspan dy="-1">/PCN</tspan></text>
<circle cx="449.6" cy="189.2" r="1.7" fill="#ff8c1a"/>
<text x="451.9" y="190.7" font-size="5.8" text-anchor="start" fill="#1a1a1a" font-weight="bold" font-family='"Liberation Serif", serif' stroke="#1a1a1a" stroke-width="0.12">CoO/CF</text>
<polygon points="445.8,192.2 447.8,194.1 445.8,196 443.8,194.1" fill="#9a1010"/>
<text x="445.2" y="201.4" font-size="5.8" text-anchor="start" fill="#1a1a1a" font-weight="bold" font-family='"Liberation Serif", serif' stroke="#1a1a1a" stroke-width="0.12">NiO/CNT</text>
<rect x="416.5" y="208.3" width="2.7" height="2.7" fill="#111"/>
<text x="417.8" y="218.2" font-size="5.6" text-anchor="start" fill="#1a1a1a" font-weight="bold" font-family='"Liberation Serif", serif' stroke="#1a1a1a" stroke-width="0.12">Co<tspan dy="1">3</tspan><tspan dy="-1">O</tspan><tspan dy="1">4</tspan><tspan dy="-1">/CNFs</tspan></text>
<circle cx="431.6" cy="252" r="1.7" fill="#ff1a8c"/>
<text x="425.8" y="259" font-size="5.9" text-anchor="start" fill="#1a1a1a" font-weight="bold" font-family='"Liberation Serif", serif' stroke="#1a1a1a" stroke-width="0.12">Co<tspan dy="1">3</tspan><tspan dy="-1">O</tspan><tspan dy="1">4</tspan><tspan dy="-1">/CQD</tspan></text>
<text x="3.6" y="299" font-size="18" text-anchor="start" fill="#000" font-weight="bold" font-family='"Liberation Sans", sans-serif'>g</text>
<rect x="36.6" y="300.5" width="320" height="115.1" fill="none" stroke="#262626" stroke-width="1.25"/>
<line x1="33.4" y1="415.6" x2="36.6" y2="415.6" stroke="#262626" stroke-width="0.9"/>
<text x="30.4" y="418.7" font-size="9" text-anchor="end" fill="#111" font-weight="bold" font-family='"Liberation Serif", serif' stroke="#111" stroke-width="0.2">0</text>
<line x1="33.4" y1="394.6" x2="36.6" y2="394.6" stroke="#262626" stroke-width="0.9"/>
<text x="30.4" y="397.7" font-size="9" text-anchor="end" fill="#111" font-weight="bold" font-family='"Liberation Serif", serif' stroke="#111" stroke-width="0.2">20</text>
<line x1="33.4" y1="373.6" x2="36.6" y2="373.6" stroke="#262626" stroke-width="0.9"/>
<text x="30.4" y="376.7" font-size="9" text-anchor="end" fill="#111" font-weight="bold" font-family='"Liberation Serif", serif' stroke="#111" stroke-width="0.2">40</text>
<line x1="33.4" y1="352.6" x2="36.6" y2="352.6" stroke="#262626" stroke-width="0.9"/>
<text x="30.4" y="355.7" font-size="9" text-anchor="end" fill="#111" font-weight="bold" font-family='"Liberation Serif", serif' stroke="#111" stroke-width="0.2">60</text>
<line x1="33.4" y1="331.6" x2="36.6" y2="331.6" stroke="#262626" stroke-width="0.9"/>
<text x="30.4" y="334.7" font-size="9" text-anchor="end" fill="#111" font-weight="bold" font-family='"Liberation Serif", serif' stroke="#111" stroke-width="0.2">80</text>
<line x1="33.4" y1="310.6" x2="36.6" y2="310.6" stroke="#262626" stroke-width="0.9"/>
<text x="30.4" y="313.7" font-size="9" text-anchor="end" fill="#111" font-weight="bold" font-family='"Liberation Serif", serif' stroke="#111" stroke-width="0.2">100</text>
<line x1="35.1" y1="405.1" x2="36.6" y2="405.1" stroke="#262626" stroke-width="0.8"/>
<line x1="35.1" y1="384.1" x2="36.6" y2="384.1" stroke="#262626" stroke-width="0.8"/>
<line x1="35.1" y1="363.1" x2="36.6" y2="363.1" stroke="#262626" stroke-width="0.8"/>
<line x1="35.1" y1="342.1" x2="36.6" y2="342.1" stroke="#262626" stroke-width="0.8"/>
<line x1="35.1" y1="321.1" x2="36.6" y2="321.1" stroke="#262626" stroke-width="0.8"/>
<line x1="39.4" y1="415.6" x2="39.4" y2="417.6" stroke="#262626" stroke-width="0.9"/>
<text x="39.4" y="427.6" font-size="9.3" text-anchor="middle" fill="#111" font-weight="bold" font-family='"Liberation Serif", serif' stroke="#111" stroke-width="0.2">0</text>
<line x1="102.2" y1="415.6" x2="102.2" y2="417.6" stroke="#262626" stroke-width="0.9"/>
<text x="102.2" y="427.6" font-size="9.3" text-anchor="middle" fill="#111" font-weight="bold" font-family='"Liberation Serif", serif' stroke="#111" stroke-width="0.2">2000</text>
<line x1="165" y1="415.6" x2="165" y2="417.6" stroke="#262626" stroke-width="0.9"/>
<text x="165" y="427.6" font-size="9.3" text-anchor="middle" fill="#111" font-weight="bold" font-family='"Liberation Serif", serif' stroke="#111" stroke-width="0.2">4000</text>
<line x1="227.8" y1="415.6" x2="227.8" y2="417.6" stroke="#262626" stroke-width="0.9"/>
<text x="227.8" y="427.6" font-size="9.3" text-anchor="middle" fill="#111" font-weight="bold" font-family='"Liberation Serif", serif' stroke="#111" stroke-width="0.2">6000</text>
<line x1="290.6" y1="415.6" x2="290.6" y2="417.6" stroke="#262626" stroke-width="0.9"/>
<text x="290.6" y="427.6" font-size="9.3" text-anchor="middle" fill="#111" font-weight="bold" font-family='"Liberation Serif", serif' stroke="#111" stroke-width="0.2">8000</text>
<line x1="353.4" y1="415.6" x2="353.4" y2="417.6" stroke="#262626" stroke-width="0.9"/>
<text x="353.4" y="427.6" font-size="9.3" text-anchor="middle" fill="#111" font-weight="bold" font-family='"Liberation Serif", serif' stroke="#111" stroke-width="0.2">10,000</text>
<line x1="70.8" y1="415.6" x2="70.8" y2="417.1" stroke="#262626" stroke-width="0.8"/>
<line x1="133.6" y1="415.6" x2="133.6" y2="417.1" stroke="#262626" stroke-width="0.8"/>
<line x1="196.4" y1="415.6" x2="196.4" y2="417.1" stroke="#262626" stroke-width="0.8"/>
<line x1="259.2" y1="415.6" x2="259.2" y2="417.1" stroke="#262626" stroke-width="0.8"/>
<line x1="322" y1="415.6" x2="322" y2="417.1" stroke="#262626" stroke-width="0.8"/>
<text x="201.4" y="439.6" font-size="9.2" text-anchor="middle" fill="#111" font-weight="bold" font-family='"Liberation Serif", serif' stroke="#111" stroke-width="0.2">Cycle number</text>
<text x="12.4" y="360.8" font-size="8.4" text-anchor="middle" fill="#111" font-weight="bold" font-family='"Liberation Serif", serif' transform="rotate(-90 12.4 360.8)" stroke="#111" stroke-width="0.2">Capacitance retention (%)</text>
<circle cx="39.4" cy="310.48" r="2.35" fill="#ff1010"/><circle cx="39.2" cy="310.28" r="0.75" fill="#ffb0b0"/>
<circle cx="44.09" cy="310.3" r="2.35" fill="#ff1010"/><circle cx="43.89" cy="310.1" r="0.75" fill="#ffb0b0"/>
<circle cx="48.77" cy="310.49" r="2.35" fill="#ff1010"/><circle cx="48.57" cy="310.29" r="0.75" fill="#ffb0b0"/>
<circle cx="53.46" cy="310.39" r="2.35" fill="#ff1010"/><circle cx="53.26" cy="310.19" r="0.75" fill="#ffb0b0"/>
<circle cx="58.15" cy="310.44" r="2.35" fill="#ff1010"/><circle cx="57.95" cy="310.24" r="0.75" fill="#ffb0b0"/>
<circle cx="62.83" cy="310.93" r="2.35" fill="#ff1010"/><circle cx="62.63" cy="310.73" r="0.75" fill="#ffb0b0"/>
<circle cx="67.52" cy="311.05" r="2.35" fill="#ff1010"/><circle cx="67.32" cy="310.85" r="0.75" fill="#ffb0b0"/>
<circle cx="72.21" cy="310.53" r="2.35" fill="#ff1010"/><circle cx="72.01" cy="310.33" r="0.75" fill="#ffb0b0"/>
<circle cx="76.89" cy="311.04" r="2.35" fill="#ff1010"/><circle cx="76.69" cy="310.84" r="0.75" fill="#ffb0b0"/>
<circle cx="81.58" cy="311.14" r="2.35" fill="#ff1010"/><circle cx="81.38" cy="310.94" r="0.75" fill="#ffb0b0"/>
<circle cx="86.27" cy="310.67" r="2.35" fill="#ff1010"/><circle cx="86.07" cy="310.47" r="0.75" fill="#ffb0b0"/>
<circle cx="90.95" cy="311.15" r="2.35" fill="#ff1010"/><circle cx="90.75" cy="310.95" r="0.75" fill="#ffb0b0"/>
<circle cx="95.64" cy="310.97" r="2.35" fill="#ff1010"/><circle cx="95.44" cy="310.77" r="0.75" fill="#ffb0b0"/>
<circle cx="100.33" cy="311.33" r="2.35" fill="#ff1010"/><circle cx="100.13" cy="311.13" r="0.75" fill="#ffb0b0"/>
<circle cx="105.01" cy="311.31" r="2.35" fill="#ff1010"/><circle cx="104.81" cy="311.11" r="0.75" fill="#ffb0b0"/>
<circle cx="109.7" cy="311.76" r="2.35" fill="#ff1010"/><circle cx="109.5" cy="311.56" r="0.75" fill="#ffb0b0"/>
<circle cx="114.39" cy="311.5" r="2.35" fill="#ff1010"/><circle cx="114.19" cy="311.3" r="0.75" fill="#ffb0b0"/>
<circle cx="119.07" cy="311.43" r="2.35" fill="#ff1010"/><circle cx="118.87" cy="311.23" r="0.75" fill="#ffb0b0"/>
<circle cx="123.76" cy="311.79" r="2.35" fill="#ff1010"/><circle cx="123.56" cy="311.59" r="0.75" fill="#ffb0b0"/>
<circle cx="128.44" cy="311.73" r="2.35" fill="#ff1010"/><circle cx="128.24" cy="311.53" r="0.75" fill="#ffb0b0"/>
<circle cx="133.13" cy="311.88" r="2.35" fill="#ff1010"/><circle cx="132.93" cy="311.68" r="0.75" fill="#ffb0b0"/>
<circle cx="137.82" cy="312.43" r="2.35" fill="#ff1010"/><circle cx="137.62" cy="312.23" r="0.75" fill="#ffb0b0"/>
<circle cx="142.5" cy="312.03" r="2.35" fill="#ff1010"/><circle cx="142.3" cy="311.83" r="0.75" fill="#ffb0b0"/>
<circle cx="147.19" cy="312.26" r="2.35" fill="#ff1010"/><circle cx="146.99" cy="312.06" r="0.75" fill="#ffb0b0"/>
<circle cx="151.88" cy="312.58" r="2.35" fill="#ff1010"/><circle cx="151.68" cy="312.38" r="0.75" fill="#ffb0b0"/>
<circle cx="156.56" cy="312.88" r="2.35" fill="#ff1010"/><circle cx="156.36" cy="312.68" r="0.75" fill="#ffb0b0"/>
<circle cx="161.25" cy="312.38" r="2.35" fill="#ff1010"/><circle cx="161.05" cy="312.18" r="0.75" fill="#ffb0b0"/>
<circle cx="165.94" cy="312.77" r="2.35" fill="#ff1010"/><circle cx="165.74" cy="312.57" r="0.75" fill="#ffb0b0"/>
<circle cx="170.62" cy="312.7" r="2.35" fill="#ff1010"/><circle cx="170.42" cy="312.5" r="0.75" fill="#ffb0b0"/>
<circle cx="175.31" cy="312.7" r="2.35" fill="#ff1010"/><circle cx="175.11" cy="312.5" r="0.75" fill="#ffb0b0"/>
<circle cx="180" cy="312.93" r="2.35" fill="#ff1010"/><circle cx="179.8" cy="312.73" r="0.75" fill="#ffb0b0"/>
<circle cx="184.68" cy="312.89" r="2.35" fill="#ff1010"/><circle cx="184.48" cy="312.69" r="0.75" fill="#ffb0b0"/>
<circle cx="189.37" cy="313.39" r="2.35" fill="#ff1010"/><circle cx="189.17" cy="313.19" r="0.75" fill="#ffb0b0"/>
<circle cx="194.06" cy="313.21" r="2.35" fill="#ff1010"/><circle cx="193.86" cy="313.01" r="0.75" fill="#ffb0b0"/>
<circle cx="198.74" cy="313.58" r="2.35" fill="#ff1010"/><circle cx="198.54" cy="313.38" r="0.75" fill="#ffb0b0"/>
<circle cx="203.43" cy="313.34" r="2.35" fill="#ff1010"/><circle cx="203.23" cy="313.14" r="0.75" fill="#ffb0b0"/>
<circle cx="208.12" cy="313.49" r="2.35" fill="#ff1010"/><circle cx="207.92" cy="313.29" r="0.75" fill="#ffb0b0"/>
<circle cx="212.8" cy="314.19" r="2.35" fill="#ff1010"/><circle cx="212.6" cy="313.99" r="0.75" fill="#ffb0b0"/>
<circle cx="217.49" cy="314.27" r="2.35" fill="#ff1010"/><circle cx="217.29" cy="314.07" r="0.75" fill="#ffb0b0"/>
<circle cx="222.18" cy="314.33" r="2.35" fill="#ff1010"/><circle cx="221.98" cy="314.13" r="0.75" fill="#ffb0b0"/>
<circle cx="226.86" cy="313.9" r="2.35" fill="#ff1010"/><circle cx="226.66" cy="313.7" r="0.75" fill="#ffb0b0"/>
<circle cx="231.55" cy="314.41" r="2.35" fill="#ff1010"/><circle cx="231.35" cy="314.21" r="0.75" fill="#ffb0b0"/>
<circle cx="236.24" cy="314.39" r="2.35" fill="#ff1010"/><circle cx="236.04" cy="314.19" r="0.75" fill="#ffb0b0"/>
<circle cx="240.92" cy="314.75" r="2.35" fill="#ff1010"/><circle cx="240.72" cy="314.55" r="0.75" fill="#ffb0b0"/>
<circle cx="245.61" cy="314.72" r="2.35" fill="#ff1010"/><circle cx="245.41" cy="314.52" r="0.75" fill="#ffb0b0"/>
<circle cx="250.3" cy="314.93" r="2.35" fill="#ff1010"/><circle cx="250.1" cy="314.73" r="0.75" fill="#ffb0b0"/>
<circle cx="254.98" cy="315.08" r="2.35" fill="#ff1010"/><circle cx="254.78" cy="314.88" r="0.75" fill="#ffb0b0"/>
<circle cx="259.67" cy="315.03" r="2.35" fill="#ff1010"/><circle cx="259.47" cy="314.83" r="0.75" fill="#ffb0b0"/>
<circle cx="264.36" cy="315.15" r="2.35" fill="#ff1010"/><circle cx="264.16" cy="314.95" r="0.75" fill="#ffb0b0"/>
<circle cx="269.04" cy="315.04" r="2.35" fill="#ff1010"/><circle cx="268.84" cy="314.84" r="0.75" fill="#ffb0b0"/>
<circle cx="273.73" cy="315.32" r="2.35" fill="#ff1010"/><circle cx="273.53" cy="315.12" r="0.75" fill="#ffb0b0"/>
<circle cx="278.41" cy="315.27" r="2.35" fill="#ff1010"/><circle cx="278.21" cy="315.07" r="0.75" fill="#ffb0b0"/>
<circle cx="283.1" cy="315.45" r="2.35" fill="#ff1010"/><circle cx="282.9" cy="315.25" r="0.75" fill="#ffb0b0"/>
<circle cx="287.79" cy="315.47" r="2.35" fill="#ff1010"/><circle cx="287.59" cy="315.27" r="0.75" fill="#ffb0b0"/>
<circle cx="292.47" cy="315.83" r="2.35" fill="#ff1010"/><circle cx="292.27" cy="315.63" r="0.75" fill="#ffb0b0"/>
<circle cx="297.16" cy="316.33" r="2.35" fill="#ff1010"/><circle cx="296.96" cy="316.13" r="0.75" fill="#ffb0b0"/>
<circle cx="301.85" cy="315.95" r="2.35" fill="#ff1010"/><circle cx="301.65" cy="315.75" r="0.75" fill="#ffb0b0"/>
<circle cx="306.53" cy="316" r="2.35" fill="#ff1010"/><circle cx="306.33" cy="315.8" r="0.75" fill="#ffb0b0"/>
<circle cx="311.22" cy="316.17" r="2.35" fill="#ff1010"/><circle cx="311.02" cy="315.97" r="0.75" fill="#ffb0b0"/>
<circle cx="315.91" cy="316.54" r="2.35" fill="#ff1010"/><circle cx="315.71" cy="316.34" r="0.75" fill="#ffb0b0"/>
<circle cx="320.59" cy="316.57" r="2.35" fill="#ff1010"/><circle cx="320.39" cy="316.37" r="0.75" fill="#ffb0b0"/>
<circle cx="325.28" cy="317.06" r="2.35" fill="#ff1010"/><circle cx="325.08" cy="316.86" r="0.75" fill="#ffb0b0"/>
<circle cx="329.97" cy="316.74" r="2.35" fill="#ff1010"/><circle cx="329.77" cy="316.54" r="0.75" fill="#ffb0b0"/>
<circle cx="334.65" cy="317.06" r="2.35" fill="#ff1010"/><circle cx="334.45" cy="316.86" r="0.75" fill="#ffb0b0"/>
<circle cx="339.34" cy="317.4" r="2.35" fill="#ff1010"/><circle cx="339.14" cy="317.2" r="0.75" fill="#ffb0b0"/>
<circle cx="344.03" cy="317.69" r="2.35" fill="#ff1010"/><circle cx="343.83" cy="317.49" r="0.75" fill="#ffb0b0"/>
<circle cx="348.71" cy="317.24" r="2.35" fill="#ff1010"/><circle cx="348.51" cy="317.04" r="0.75" fill="#ffb0b0"/>
<circle cx="353.4" cy="317.27" r="2.35" fill="#ff1010"/><circle cx="353.2" cy="317.07" r="0.75" fill="#ffb0b0"/>
<text x="365.6" y="301.8" font-size="18" text-anchor="start" fill="#000" font-weight="bold" font-family='"Liberation Sans", sans-serif'>h</text>
<rect x="392.4" y="300.2" width="147.2" height="115.8" fill="none" stroke="#262626" stroke-width="1.25"/>
<clipPath id="hc"><rect x="392.4" y="300.2" width="147.20000000000005" height="115.80000000000001"/></clipPath>
<g clip-path="url(#hc)">
<polyline points="397.58,416 397.69,415.89 397.83,415.74 397.99,415.57 398.18,415.38 398.39,415.17 398.6,414.97 398.83,414.78 399.06,414.61 399.3,414.45 399.55,414.29 399.81,414.13 400.08,413.98 400.36,413.83 400.66,413.69 400.96,413.56 401.28,413.45 401.61,413.35 401.97,413.26 402.34,413.18 402.71,413.11 403.1,413.04 403.48,412.98 403.86,412.93 404.24,412.87 404.62,412.82 405,412.78 405.38,412.76 405.77,412.73 406.14,412.7 406.51,412.66 406.87,412.6 407.2,412.52 407.51,412.43 407.81,412.34 408.09,412.25 408.36,412.14 408.62,412 408.88,411.83 409.15,411.62 409.42,411.36 409.7,411.04 409.97,410.67 410.25,410.25 410.53,409.8 410.81,409.33 411.08,408.85 411.36,408.36 411.64,407.88 411.92,407.41 412.19,406.93 412.47,406.45 412.75,405.96 413.03,405.45 413.3,404.93 413.58,404.39 413.86,403.82 414.14,403.23 414.41,402.61 414.69,401.97 414.97,401.32 415.25,400.65 415.52,399.97 415.8,399.29 416.08,398.6 416.36,397.92 416.63,397.25 416.91,396.57 417.19,395.88 417.47,395.17 417.75,394.43 418.02,393.64 418.3,392.8 418.58,391.94 418.86,391.1 419.15,390.23 419.43,389.32 419.71,388.34 419.99,387.25 420.26,386.04 420.52,384.68 420.78,383.14 421.03,381.45 421.27,379.64 421.51,377.72 421.75,375.73 421.98,373.7 422.21,371.64 422.44,369.6 422.67,367.54 422.89,365.41 423.1,363.24 423.31,361.05 423.53,358.83 423.75,356.6 423.98,354.39 424.22,352.2 424.48,350.03 424.74,347.88 425.02,345.73 425.3,343.57 425.59,341.41 425.87,339.23 426.16,337.03 426.44,334.8 426.72,332.54 426.99,330.27 427.26,327.98 427.53,325.67 427.81,323.34 428.08,320.99 428.37,318.62 428.66,316.24 428.98,313.7 429.33,310.93 429.69,308.06 430.06,305.22 430.4,302.52 430.72,300.09 430.98,298.05 431.18,296.52" fill="none" stroke="#111" stroke-width="1" stroke-linejoin="round" stroke-linecap="round"/>
<polyline points="397.58,416 397.69,415.86 397.83,415.67 397.99,415.45 398.18,415.2 398.39,414.95 398.6,414.69 398.83,414.46 399.06,414.26 399.3,414.08 399.55,413.92 399.81,413.76 400.08,413.61 400.36,413.47 400.66,413.34 400.96,413.21 401.28,413.1 401.61,413 401.97,412.9 402.34,412.81 402.71,412.74 403.1,412.67 403.48,412.61 403.86,412.56 404.24,412.52 404.61,412.49 404.98,412.49 405.35,412.49 405.72,412.51 406.09,412.52 406.46,412.53 406.83,412.53 407.2,412.52 407.57,412.5 407.94,412.48 408.31,412.46 408.68,412.43 409.05,412.39 409.42,412.34 409.79,412.27 410.16,412.17 410.53,412.06 410.9,411.93 411.27,411.79 411.64,411.64 412.01,411.46 412.38,411.26 412.75,411.03 413.12,410.78 413.49,410.49 413.86,410.16 414.23,409.8 414.6,409.42 414.97,409.03 415.34,408.64 415.71,408.25 416.08,407.88 416.45,407.52 416.82,407.15 417.19,406.79 417.56,406.43 417.93,406.07 418.3,405.7 418.67,405.34 419.04,404.98 419.4,404.65 419.75,404.35 420.08,404.07 420.43,403.78 420.78,403.46 421.16,403.09 421.56,402.64 422,402.08 422.48,401.42 423.01,400.68 423.56,399.87 424.13,399 424.71,398.08 425.3,397.12 425.87,396.13 426.44,395.12 426.99,394.12 427.53,393.13 428.06,392.12 428.6,391.06 429.14,389.93 429.7,388.7 430.28,387.35 430.88,385.84 431.52,384.15 432.19,382.3 432.88,380.31 433.59,378.23 434.3,376.08 435,373.9 435.69,371.73 436.36,369.6 437,367.48 437.63,365.33 438.25,363.16 438.86,360.97 439.47,358.78 440.06,356.58 440.65,354.38 441.24,352.2 441.82,350.02 442.4,347.85 442.97,345.68 443.53,343.5 444.09,341.32 444.63,339.15 445.16,336.98 445.68,334.8 446.18,332.65 446.66,330.53 447.12,328.43 447.58,326.32 448.03,324.18 448.47,321.99 448.92,319.74 449.38,317.4 449.87,314.81 450.39,311.94 450.93,308.91 451.46,305.87 451.96,302.97 452.42,300.35 452.79,298.15 453.08,296.52" fill="none" stroke="#ff1a1a" stroke-width="1" stroke-linejoin="round" stroke-linecap="round"/>
<rect x="427.58" y="309.18" width="3.5" height="3.5" fill="#111"/>
<rect x="425.69" y="324.67" width="3.5" height="3.5" fill="#111"/>
<rect x="424.06" y="337.98" width="3.5" height="3.5" fill="#111"/>
<rect x="422.59" y="349.42" width="3.5" height="3.5" fill="#111"/>
<rect x="421.56" y="359.29" width="3.5" height="3.5" fill="#111"/>
<rect x="420.7" y="367.78" width="3.5" height="3.5" fill="#111"/>
<rect x="419.87" y="375.07" width="3.5" height="3.5" fill="#111"/>
<rect x="419.04" y="381.33" width="3.5" height="3.5" fill="#111"/>
<rect x="417.94" y="386.64" width="3.5" height="3.5" fill="#111"/>
<rect x="416.54" y="391.09" width="3.5" height="3.5" fill="#111"/>
<rect x="415.15" y="394.86" width="3.5" height="3.5" fill="#111"/>
<rect x="413.84" y="398.06" width="3.5" height="3.5" fill="#111"/>
<rect x="412.69" y="400.79" width="3.5" height="3.5" fill="#111"/>
<rect x="411.6" y="403.1" width="3.5" height="3.5" fill="#111"/>
<rect x="410.54" y="405.02" width="3.5" height="3.5" fill="#111"/>
<rect x="409.59" y="406.65" width="3.5" height="3.5" fill="#111"/>
<rect x="408.77" y="408.06" width="3.5" height="3.5" fill="#111"/>
<rect x="407.87" y="409.38" width="3.5" height="3.5" fill="#111"/>
<rect x="406.63" y="410.37" width="3.5" height="3.5" fill="#111"/>
<rect x="405.11" y="410.85" width="3.5" height="3.5" fill="#111"/>
<rect x="403.52" y="411.01" width="3.5" height="3.5" fill="#111"/>
<rect x="401.93" y="411.2" width="3.5" height="3.5" fill="#111"/>
<rect x="400.36" y="411.48" width="3.5" height="3.5" fill="#111"/>
<rect x="398.84" y="411.97" width="3.5" height="3.5" fill="#111"/>
<rect x="397.45" y="412.76" width="3.5" height="3.5" fill="#111"/>
<rect x="396.25" y="413.82" width="3.5" height="3.5" fill="#111"/>
<rect x="395.83" y="414.25" width="3.5" height="3.5" fill="#111"/>
<circle cx="451.96" cy="302.97" r="2.1" fill="#ff1a1a"/>
<circle cx="449.06" cy="319.01" r="2.1" fill="#ff1a1a"/>
<circle cx="446.09" cy="333.04" r="2.1" fill="#ff1a1a"/>
<circle cx="443.07" cy="345.3" r="2.1" fill="#ff1a1a"/>
<circle cx="440.21" cy="356.03" r="2.1" fill="#ff1a1a"/>
<circle cx="437.59" cy="365.45" r="2.1" fill="#ff1a1a"/>
<circle cx="435.08" cy="373.68" r="2.1" fill="#ff1a1a"/>
<circle cx="432.69" cy="380.86" r="2.1" fill="#ff1a1a"/>
<circle cx="430.37" cy="387.11" r="2.1" fill="#ff1a1a"/>
<circle cx="427.9" cy="392.42" r="2.1" fill="#ff1a1a"/>
<circle cx="425.4" cy="396.93" r="2.1" fill="#ff1a1a"/>
<circle cx="422.95" cy="400.75" r="2.1" fill="#ff1a1a"/>
<circle cx="420.4" cy="403.81" r="2.1" fill="#ff1a1a"/>
<circle cx="417.81" cy="406.18" r="2.1" fill="#ff1a1a"/>
<circle cx="415.61" cy="408.36" r="2.1" fill="#ff1a1a"/>
<circle cx="413.7" cy="410.3" r="2.1" fill="#ff1a1a"/>
<circle cx="411.71" cy="411.6" r="2.1" fill="#ff1a1a"/>
<circle cx="409.71" cy="412.28" r="2.1" fill="#ff1a1a"/>
<circle cx="407.87" cy="412.49" r="2.1" fill="#ff1a1a"/>
<circle cx="406.17" cy="412.52" r="2.1" fill="#ff1a1a"/>
<circle cx="404.47" cy="412.5" r="2.1" fill="#ff1a1a"/>
<circle cx="402.79" cy="412.72" r="2.1" fill="#ff1a1a"/>
<circle cx="401.15" cy="413.15" r="2.1" fill="#ff1a1a"/>
<circle cx="399.61" cy="413.87" r="2.1" fill="#ff1a1a"/>
<circle cx="398.35" cy="415" r="2.1" fill="#ff1a1a"/>
<circle cx="397.58" cy="416" r="2.1" fill="#ff1a1a"/>
</g>
<line x1="390.4" y1="416" x2="392.4" y2="416" stroke="#262626" stroke-width="0.9"/>
<text x="389.6" y="419.2" font-size="9" text-anchor="end" fill="#111" font-weight="bold" font-family='"Liberation Serif", serif' stroke="#111" stroke-width="0.2">0</text>
<line x1="390.4" y1="392.8" x2="392.4" y2="392.8" stroke="#262626" stroke-width="0.9"/>
<text x="389.6" y="396" font-size="9" text-anchor="end" fill="#111" font-weight="bold" font-family='"Liberation Serif", serif' stroke="#111" stroke-width="0.2">2</text>
<line x1="390.4" y1="369.6" x2="392.4" y2="369.6" stroke="#262626" stroke-width="0.9"/>
<text x="389.6" y="372.8" font-size="9" text-anchor="end" fill="#111" font-weight="bold" font-family='"Liberation Serif", serif' stroke="#111" stroke-width="0.2">4</text>
<line x1="390.4" y1="346.4" x2="392.4" y2="346.4" stroke="#262626" stroke-width="0.9"/>
<text x="389.6" y="349.6" font-size="9" text-anchor="end" fill="#111" font-weight="bold" font-family='"Liberation Serif", serif' stroke="#111" stroke-width="0.2">6</text>
<line x1="390.4" y1="323.2" x2="392.4" y2="323.2" stroke="#262626" stroke-width="0.9"/>
<text x="389.6" y="326.4" font-size="9" text-anchor="end" fill="#111" font-weight="bold" font-family='"Liberation Serif", serif' stroke="#111" stroke-width="0.2">8</text>
<line x1="390.4" y1="300" x2="392.4" y2="300" stroke="#262626" stroke-width="0.9"/>
<text x="389.6" y="303.2" font-size="9" text-anchor="end" fill="#111" font-weight="bold" font-family='"Liberation Serif", serif' stroke="#111" stroke-width="0.2">10</text>
<line x1="390.9" y1="404.4" x2="392.4" y2="404.4" stroke="#262626" stroke-width="0.8"/>
<line x1="390.9" y1="381.2" x2="392.4" y2="381.2" stroke="#262626" stroke-width="0.8"/>
<line x1="390.9" y1="358" x2="392.4" y2="358" stroke="#262626" stroke-width="0.8"/>
<line x1="390.9" y1="334.8" x2="392.4" y2="334.8" stroke="#262626" stroke-width="0.8"/>
<line x1="390.9" y1="311.6" x2="392.4" y2="311.6" stroke="#262626" stroke-width="0.8"/>
<line x1="392.4" y1="416" x2="392.4" y2="418" stroke="#262626" stroke-width="0.9"/>
<text x="392.4" y="427.5" font-size="9" text-anchor="middle" fill="#111" font-weight="bold" font-family='"Liberation Serif", serif' stroke="#111" stroke-width="0.2">0</text>
<line x1="422" y1="416" x2="422" y2="418" stroke="#262626" stroke-width="0.9"/>
<text x="422" y="427.5" font-size="9" text-anchor="middle" fill="#111" font-weight="bold" font-family='"Liberation Serif", serif' stroke="#111" stroke-width="0.2">2</text>
<line x1="451.6" y1="416" x2="451.6" y2="418" stroke="#262626" stroke-width="0.9"/>
<text x="451.6" y="427.5" font-size="9" text-anchor="middle" fill="#111" font-weight="bold" font-family='"Liberation Serif", serif' stroke="#111" stroke-width="0.2">4</text>
<line x1="481.2" y1="416" x2="481.2" y2="418" stroke="#262626" stroke-width="0.9"/>
<text x="481.2" y="427.5" font-size="9" text-anchor="middle" fill="#111" font-weight="bold" font-family='"Liberation Serif", serif' stroke="#111" stroke-width="0.2">6</text>
<line x1="510.8" y1="416" x2="510.8" y2="418" stroke="#262626" stroke-width="0.9"/>
<text x="510.8" y="427.5" font-size="9" text-anchor="middle" fill="#111" font-weight="bold" font-family='"Liberation Serif", serif' stroke="#111" stroke-width="0.2">8</text>
<line x1="540.4" y1="416" x2="540.4" y2="418" stroke="#262626" stroke-width="0.9"/>
<text x="540.4" y="427.5" font-size="9" text-anchor="middle" fill="#111" font-weight="bold" font-family='"Liberation Serif", serif' stroke="#111" stroke-width="0.2">10</text>
<line x1="407.2" y1="416" x2="407.2" y2="417.5" stroke="#262626" stroke-width="0.8"/>
<line x1="436.8" y1="416" x2="436.8" y2="417.5" stroke="#262626" stroke-width="0.8"/>
<line x1="466.4" y1="416" x2="466.4" y2="417.5" stroke="#262626" stroke-width="0.8"/>
<line x1="496" y1="416" x2="496" y2="417.5" stroke="#262626" stroke-width="0.8"/>
<line x1="525.6" y1="416" x2="525.6" y2="417.5" stroke="#262626" stroke-width="0.8"/>
<text x="464.8" y="437.5" font-size="8.7" text-anchor="middle" fill="#111" font-weight="bold" font-family='"Liberation Serif", serif' stroke="#111" stroke-width="0.2">Z' (Ohm)</text>
<text x="381.8" y="359.4" font-size="8.8" text-anchor="middle" fill="#111" font-weight="bold" font-family='"Liberation Serif", serif' transform="rotate(-90 381.8 359.4)" stroke="#111" stroke-width="0.2">-Z'' (Ohm)</text>
<line x1="455" y1="398.4" x2="466" y2="398.4" stroke="#111" stroke-width="1"/>
<rect x="459.6" y="397" width="2.8" height="2.8" fill="#111"/>
<text x="468.4" y="400.6" font-size="6.8" text-anchor="start" fill="#111" font-weight="bold" font-family='"Liberation Serif", serif' stroke="#111" stroke-width="0.2">Initial</text>
<line x1="455" y1="407.6" x2="466" y2="407.6" stroke="#ff1a1a" stroke-width="1"/>
<circle cx="461" cy="407.6" r="1.6" fill="#ff1a1a"/>
<text x="468.4" y="409.8" font-size="6.8" text-anchor="start" fill="#111" font-weight="bold" font-family='"Liberation Serif", serif' stroke="#111" stroke-width="0.2">After 10000 cycles</text>
<rect x="463.6" y="316.6" width="74.0" height="59.69999999999999" fill="#fff" stroke="#262626" stroke-width="0.7"/>
<clipPath id="ic"><rect x="463.6" y="316.6" width="74.0" height="59.69999999999999"/></clipPath><g clip-path="url(#ic)">
<polyline points="476.28,376.3 476.38,376.16 476.5,375.98 476.64,375.76 476.8,375.52 476.97,375.26 477.16,374.98 477.37,374.7 477.6,374.43 477.85,374.16 478.12,373.91 478.41,373.67 478.71,373.43 479.03,373.19 479.37,372.94 479.73,372.7 480.11,372.46 480.5,372.22 480.92,371.98 481.35,371.75 481.8,371.52 482.28,371.3 482.79,371.07 483.32,370.84 483.88,370.61 484.44,370.39 485.02,370.17 485.61,369.96 486.19,369.77 486.76,369.59 487.32,369.43 487.87,369.29 488.42,369.17 488.98,369.06 489.53,368.96 490.08,368.87 490.63,368.8 491.18,368.73 491.74,368.66 492.29,368.6 492.84,368.54 493.4,368.49 493.97,368.45 494.55,368.42 495.14,368.41 495.71,368.39 496.28,368.37 496.84,368.36 497.37,368.33 497.88,368.29 498.36,368.24 498.8,368.18 499.21,368.12 499.6,368.06 499.96,368 500.31,367.92 500.66,367.84 500.99,367.74 501.33,367.63 501.68,367.5 502.04,367.35 502.4,367.19 502.75,367.03 503.09,366.87 503.42,366.7 503.76,366.51 504.12,366.28 504.48,366.03 504.87,365.73 505.28,365.37 505.72,364.96 506.2,364.49 506.71,363.97 507.24,363.42 507.8,362.82 508.36,362.18 508.94,361.5 509.53,360.78 510.11,360.02 510.68,359.22 511.24,358.39 511.79,357.52 512.34,356.6 512.9,355.63 513.45,354.63 514,353.6 514.55,352.52 515.1,351.42 515.66,350.29 516.21,349.13 516.76,347.94 517.31,346.75 517.86,345.54 518.42,344.32 518.97,343.07 519.52,341.79 520.07,340.46 520.62,339.07 521.18,337.63 521.73,336.11 522.28,334.51 522.86,332.72 523.47,330.7 524.11,328.52 524.75,326.25 525.38,323.97 525.99,321.76 526.55,319.69 527.05,317.84 527.47,316.29 527.8,315.11" fill="none" stroke="#111" stroke-width="1.3" stroke-linejoin="round" stroke-linecap="round" stroke-dasharray="1.2 0.5"/>
<polyline points="476.28,376.3 476.38,376.12 476.5,375.89 476.64,375.62 476.8,375.32 476.97,374.99 477.16,374.65 477.37,374.3 477.6,373.96 477.85,373.63 478.12,373.31 478.41,373.01 478.71,372.7 479.03,372.39 479.37,372.08 479.73,371.77 480.11,371.46 480.5,371.16 480.92,370.87 481.35,370.59 481.8,370.33 482.28,370.08 482.79,369.84 483.32,369.6 483.88,369.37 484.44,369.15 485.02,368.95 485.61,368.75 486.19,368.57 486.76,368.4 487.32,368.24 487.86,368.1 488.39,367.98 488.92,367.87 489.44,367.77 489.96,367.68 490.5,367.6 491.05,367.53 491.62,367.47 492.21,367.4 492.84,367.35 493.51,367.29 494.22,367.25 494.97,367.21 495.74,367.18 496.52,367.16 497.3,367.14 498.07,367.12 498.82,367.1 499.53,367.07 500.2,367.05 500.83,367.02 501.42,367.01 501.99,367 502.54,367 503.07,366.99 503.6,366.97 504.12,366.95 504.65,366.9 505.18,366.84 505.72,366.75 506.26,366.64 506.79,366.54 507.32,366.42 507.84,366.3 508.36,366.15 508.9,365.98 509.45,365.78 510.02,365.55 510.61,365.28 511.24,364.96 511.9,364.59 512.59,364.18 513.31,363.73 514.05,363.25 514.8,362.74 515.57,362.2 516.33,361.64 517.1,361.06 517.86,360.48 518.6,359.88 519.34,359.26 520.1,358.61 520.87,357.93 521.63,357.22 522.39,356.51 523.15,355.78 523.89,355.07 524.61,354.36 525.3,353.68 525.96,353.02 526.59,352.38 527.18,351.77 527.75,351.16 528.3,350.56 528.84,349.98 529.36,349.39 529.88,348.81 530.41,348.23 530.94,347.64 531.48,347.05 532.06,346.42 532.67,345.76 533.31,345.07 533.95,344.37 534.59,343.69 535.19,343.04 535.75,342.43 536.25,341.89 536.67,341.43 537,341.08" fill="none" stroke="#ff1a1a" stroke-width="1.3" stroke-linejoin="round" stroke-linecap="round" stroke-dasharray="1.2 0.5"/>
</g>
<line x1="463.4" y1="376.3" x2="463.4" y2="377.6" stroke="#262626" stroke-width="0.5"/>
<text x="463.4" y="381.5" font-size="3.4" text-anchor="middle" fill="#111" font-weight="bold" font-family='"Liberation Serif", serif' stroke="#111" stroke-width="0.12">0.0</text>
<line x1="462.3" y1="376.3" x2="463.6" y2="376.3" stroke="#262626" stroke-width="0.5"/>
<text x="461.8" y="377.5" font-size="3.4" text-anchor="end" fill="#111" font-weight="bold" font-family='"Liberation Serif", serif' stroke="#111" stroke-width="0.12">0.0</text>
<line x1="481.8" y1="376.3" x2="481.8" y2="377.6" stroke="#262626" stroke-width="0.5"/>
<text x="481.8" y="381.5" font-size="3.4" text-anchor="middle" fill="#111" font-weight="bold" font-family='"Liberation Serif", serif' stroke="#111" stroke-width="0.12">0.5</text>
<line x1="462.3" y1="361.38" x2="463.6" y2="361.38" stroke="#262626" stroke-width="0.5"/>
<text x="461.8" y="362.57" font-size="3.4" text-anchor="end" fill="#111" font-weight="bold" font-family='"Liberation Serif", serif' stroke="#111" stroke-width="0.12">0.5</text>
<line x1="500.2" y1="376.3" x2="500.2" y2="377.6" stroke="#262626" stroke-width="0.5"/>
<text x="500.2" y="381.5" font-size="3.4" text-anchor="middle" fill="#111" font-weight="bold" font-family='"Liberation Serif", serif' stroke="#111" stroke-width="0.12">1.0</text>
<line x1="462.3" y1="346.45" x2="463.6" y2="346.45" stroke="#262626" stroke-width="0.5"/>
<text x="461.8" y="347.65" font-size="3.4" text-anchor="end" fill="#111" font-weight="bold" font-family='"Liberation Serif", serif' stroke="#111" stroke-width="0.12">1.0</text>
<line x1="518.6" y1="376.3" x2="518.6" y2="377.6" stroke="#262626" stroke-width="0.5"/>
<text x="518.6" y="381.5" font-size="3.4" text-anchor="middle" fill="#111" font-weight="bold" font-family='"Liberation Serif", serif' stroke="#111" stroke-width="0.12">1.5</text>
<line x1="462.3" y1="331.52" x2="463.6" y2="331.52" stroke="#262626" stroke-width="0.5"/>
<text x="461.8" y="332.72" font-size="3.4" text-anchor="end" fill="#111" font-weight="bold" font-family='"Liberation Serif", serif' stroke="#111" stroke-width="0.12">1.5</text>
<line x1="537" y1="376.3" x2="537" y2="377.6" stroke="#262626" stroke-width="0.5"/>
<text x="537" y="381.5" font-size="3.4" text-anchor="middle" fill="#111" font-weight="bold" font-family='"Liberation Serif", serif' stroke="#111" stroke-width="0.12">2.0</text>
<line x1="462.3" y1="316.6" x2="463.6" y2="316.6" stroke="#262626" stroke-width="0.5"/>
<text x="461.8" y="317.8" font-size="3.4" text-anchor="end" fill="#111" font-weight="bold" font-family='"Liberation Serif", serif' stroke="#111" stroke-width="0.12">2.0</text>
<text x="500.5" y="387.4" font-size="3.6" text-anchor="middle" fill="#111" font-weight="bold" font-family='"Liberation Serif", serif' stroke="#111" stroke-width="0.12">Z'(Ohm)</text>
<text x="453.5" y="346.5" font-size="3.6" text-anchor="middle" fill="#111" font-weight="bold" font-family='"Liberation Serif", serif' transform="rotate(-90 453.5 346.5)" stroke="#111" stroke-width="0.12">−Z''(Ohm)</text>
</svg></body></html>
